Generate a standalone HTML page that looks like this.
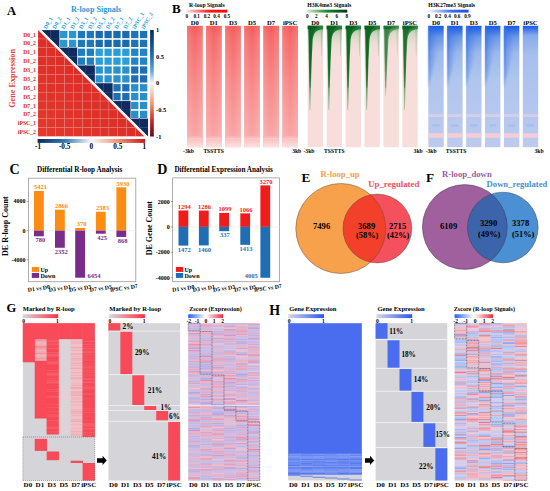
<!DOCTYPE html>
<html><head><meta charset="utf-8"><style>
html,body{margin:0;padding:0;background:#fff;width:550px;height:491px;overflow:hidden}
svg{display:block}
</style></head><body><svg width='550' height='491' viewBox='0 0 550 491' font-family='Liberation Serif' font-weight='bold'><defs><clipPath id='redtri'><polygon points='38,30.1 38,136.5 144.4,136.5'/></clipPath><clipPath id='bluetri'><polygon points='41.5,30.1 148.1,30.1 148.1,136.5'/></clipPath><linearGradient id='cbv' x1='0' y1='0' x2='0' y2='1'><stop offset='0' stop-color='#0a2a60'/><stop offset='0.25' stop-color='#1f6fb2'/><stop offset='0.38' stop-color='#62a6d4'/><stop offset='0.5' stop-color='#f7f7f7'/><stop offset='0.7' stop-color='#f0906c'/><stop offset='0.85' stop-color='#c82a2a'/><stop offset='1' stop-color='#6a0018'/></linearGradient><linearGradient id='cbh' x1='0' y1='0' x2='1' y2='0'><stop offset='0' stop-color='#0a2a60'/><stop offset='0.25' stop-color='#2a7ab8'/><stop offset='0.5' stop-color='#f7f7f7'/><stop offset='0.75' stop-color='#f09070'/><stop offset='1' stop-color='#c81a1a'/></linearGradient><linearGradient id='gr1' x1='0' x2='1'><stop offset='0' stop-color='#ffe4e4'/><stop offset='0.55' stop-color='#ff1a1a'/><stop offset='1' stop-color='#ff0000'/></linearGradient><linearGradient id='gr2' x1='0' x2='1'><stop offset='0' stop-color='#d8ecd8'/><stop offset='0.5' stop-color='#1a8a30'/><stop offset='1' stop-color='#003a10'/></linearGradient><linearGradient id='gr3' x1='0' x2='1'><stop offset='0' stop-color='#f4f6fe'/><stop offset='0.6' stop-color='#3a6ae8'/><stop offset='1' stop-color='#1a4fe8'/></linearGradient><linearGradient id='b1g' x1='0' y1='0' x2='0' y2='1'><stop offset='0' stop-color='#f45858'/><stop offset='0.1' stop-color='#f56a6a'/><stop offset='0.45' stop-color='#f78686'/><stop offset='0.9' stop-color='#f9a4a4'/><stop offset='1' stop-color='#faaaaa'/></linearGradient><linearGradient id='b1b' x1='0' y1='0' x2='0' y2='1'><stop offset='0' stop-color='#fab4b4'/><stop offset='1' stop-color='#fde2e2'/></linearGradient><linearGradient id='b1h' x1='0' y1='0' x2='1' y2='0'><stop offset='0' stop-color='#fff' stop-opacity='0.15'/><stop offset='0.5' stop-color='#fff' stop-opacity='0'/><stop offset='1' stop-color='#fff' stop-opacity='0.15'/></linearGradient><linearGradient id='b2t' x1='0' y1='0' x2='0' y2='1'><stop offset='0' stop-color='#0a6a28'/><stop offset='0.4' stop-color='#2a8a40' stop-opacity='0.7'/><stop offset='1' stop-color='#f7dcd8' stop-opacity='0'/></linearGradient><linearGradient id='haze' x1='0' y1='0' x2='0' y2='1'><stop offset='0' stop-color='#4aa05a' stop-opacity='0.75'/><stop offset='0.35' stop-color='#9ac8a4' stop-opacity='0.45'/><stop offset='1' stop-color='#f8e0dc' stop-opacity='0'/></linearGradient><linearGradient id='spine' x1='0' y1='0' x2='0' y2='1'><stop offset='0' stop-color='#0a5e1e'/><stop offset='0.25' stop-color='#1a8032'/><stop offset='0.8' stop-color='#2a8a3e'/><stop offset='1' stop-color='#5aa068' stop-opacity='0.6'/></linearGradient><linearGradient id='spine2' x1='0' y1='0' x2='0' y2='1'><stop offset='0' stop-color='#2a7a3a'/><stop offset='0.3' stop-color='#3a9048'/><stop offset='0.7' stop-color='#4a9a58'/><stop offset='1' stop-color='#8aba94' stop-opacity='0.3'/></linearGradient><linearGradient id='haze2' x1='0' y1='0' x2='0' y2='1'><stop offset='0' stop-color='#3a9a4a' stop-opacity='0.8'/><stop offset='0.2' stop-color='#8ac096' stop-opacity='0.4'/><stop offset='0.55' stop-color='#c0dcc4' stop-opacity='0.15'/><stop offset='1' stop-color='#f8e0dc' stop-opacity='0'/></linearGradient><linearGradient id='mid2' x1='0' y1='0' x2='0' y2='1'><stop offset='0' stop-color='#1a7a30'/><stop offset='0.5' stop-color='#238634'/><stop offset='1' stop-color='#4a9a58' stop-opacity='0.5'/></linearGradient><linearGradient id='band2' x1='0' y1='0' x2='1' y2='0'><stop offset='0' stop-color='#0a5a1e'/><stop offset='0.6' stop-color='#136a26'/><stop offset='1' stop-color='#3a8a48'/></linearGradient><linearGradient id='b3g' x1='0' y1='0' x2='0' y2='1'><stop offset='0' stop-color='#1a5ae8'/><stop offset='0.025' stop-color='#2a6ae8'/><stop offset='0.09' stop-color='#6a98e8'/><stop offset='0.22' stop-color='#9cb8ec'/><stop offset='0.45' stop-color='#b0c6ee'/><stop offset='1' stop-color='#bccaee'/></linearGradient><linearGradient id='b3i' x1='0' y1='0' x2='0' y2='1'><stop offset='0' stop-color='#1a5ae8'/><stop offset='0.025' stop-color='#3a72e8'/><stop offset='0.08' stop-color='#88acea'/><stop offset='0.25' stop-color='#a8c0ee'/><stop offset='1' stop-color='#bccaee'/></linearGradient><linearGradient id='b3d' x1='0' y1='0' x2='1' y2='0.3'><stop offset='0' stop-color='#2a62e0' stop-opacity='0.55'/><stop offset='0.7' stop-color='#2a62e0' stop-opacity='0'/></linearGradient><linearGradient id='b3l' x1='0' y1='0' x2='0' y2='1'><stop offset='0' stop-color='#3a78e0' stop-opacity='0.6'/><stop offset='1' stop-color='#3a78e0' stop-opacity='0'/></linearGradient><filter id='blur05' x='-0.1' y='-1' width='1.2' height='3'><feGaussianBlur stdDeviation='0.5'/></filter><filter id='blur1' x='-0.2' y='-0.2' width='1.4' height='1.4'><feGaussianBlur stdDeviation='1.2'/></filter><clipPath id='ve'><circle cx='340.8' cy='228.5' r='45.0'/></clipPath><clipPath id='vf'><circle cx='464.8' cy='227.0' r='42.4'/></clipPath><linearGradient id='gg' x1='0' x2='1'><stop offset='0' stop-color='#d8d8de'/><stop offset='1' stop-color='#ff2a3e'/></linearGradient><linearGradient id='hg' x1='0' x2='1'><stop offset='0' stop-color='#d8d8e4'/><stop offset='1' stop-color='#2a55ee'/></linearGradient><linearGradient id='zg' x1='0' x2='1'><stop offset='0' stop-color='#2a60ee'/><stop offset='0.5' stop-color='#ffffff'/><stop offset='1' stop-color='#ee2a40'/></linearGradient></defs><text x='7.00' y='15.30' font-size='12.6' fill='#000' text-anchor='start' >A</text><text x='71.00' y='11.90' font-size='8.1' fill='#2a9ad2' text-anchor='start' >R-loop Signals</text><g clip-path='url(#redtri)'><rect x='38.00' y='30.10' width='8.87' height='8.87' fill='rgb(221,45,40)' stroke='#e68a84' stroke-width='0.35'/><rect x='46.87' y='30.10' width='8.87' height='8.87' fill='rgb(220,44,39)' stroke='#e68a84' stroke-width='0.35'/><rect x='55.74' y='30.10' width='8.87' height='8.87' fill='rgb(219,43,39)' stroke='#e68a84' stroke-width='0.35'/><rect x='64.61' y='30.10' width='8.87' height='8.87' fill='rgb(219,42,38)' stroke='#e68a84' stroke-width='0.35'/><rect x='73.48' y='30.10' width='8.87' height='8.87' fill='rgb(218,41,38)' stroke='#e68a84' stroke-width='0.35'/><rect x='82.35' y='30.10' width='8.87' height='8.87' fill='rgb(217,40,38)' stroke='#e68a84' stroke-width='0.35'/><rect x='91.22' y='30.10' width='8.87' height='8.87' fill='rgb(217,39,37)' stroke='#e68a84' stroke-width='0.35'/><rect x='100.09' y='30.10' width='8.87' height='8.87' fill='rgb(216,38,37)' stroke='#e68a84' stroke-width='0.35'/><rect x='108.96' y='30.10' width='8.87' height='8.87' fill='rgb(215,37,37)' stroke='#e68a84' stroke-width='0.35'/><rect x='117.83' y='30.10' width='8.87' height='8.87' fill='rgb(215,36,36)' stroke='#e68a84' stroke-width='0.35'/><rect x='126.70' y='30.10' width='8.87' height='8.87' fill='rgb(214,35,36)' stroke='#e68a84' stroke-width='0.35'/><rect x='135.57' y='30.10' width='8.87' height='8.87' fill='rgb(214,34,36)' stroke='#e68a84' stroke-width='0.35'/><rect x='38.00' y='38.97' width='8.87' height='8.87' fill='rgb(221,46,40)' stroke='#e68a84' stroke-width='0.35'/><rect x='46.87' y='38.97' width='8.87' height='8.87' fill='rgb(221,45,40)' stroke='#e68a84' stroke-width='0.35'/><rect x='55.74' y='38.97' width='8.87' height='8.87' fill='rgb(220,44,39)' stroke='#e68a84' stroke-width='0.35'/><rect x='64.61' y='38.97' width='8.87' height='8.87' fill='rgb(219,43,39)' stroke='#e68a84' stroke-width='0.35'/><rect x='73.48' y='38.97' width='8.87' height='8.87' fill='rgb(219,42,38)' stroke='#e68a84' stroke-width='0.35'/><rect x='82.35' y='38.97' width='8.87' height='8.87' fill='rgb(218,41,38)' stroke='#e68a84' stroke-width='0.35'/><rect x='91.22' y='38.97' width='8.87' height='8.87' fill='rgb(217,40,38)' stroke='#e68a84' stroke-width='0.35'/><rect x='100.09' y='38.97' width='8.87' height='8.87' fill='rgb(217,39,37)' stroke='#e68a84' stroke-width='0.35'/><rect x='108.96' y='38.97' width='8.87' height='8.87' fill='rgb(216,38,37)' stroke='#e68a84' stroke-width='0.35'/><rect x='117.83' y='38.97' width='8.87' height='8.87' fill='rgb(215,37,37)' stroke='#e68a84' stroke-width='0.35'/><rect x='126.70' y='38.97' width='8.87' height='8.87' fill='rgb(215,36,36)' stroke='#e68a84' stroke-width='0.35'/><rect x='135.57' y='38.97' width='8.87' height='8.87' fill='rgb(214,35,36)' stroke='#e68a84' stroke-width='0.35'/><rect x='38.00' y='47.84' width='8.87' height='8.87' fill='rgb(222,47,40)' stroke='#e68a84' stroke-width='0.35'/><rect x='46.87' y='47.84' width='8.87' height='8.87' fill='rgb(221,46,40)' stroke='#e68a84' stroke-width='0.35'/><rect x='55.74' y='47.84' width='8.87' height='8.87' fill='rgb(221,45,40)' stroke='#e68a84' stroke-width='0.35'/><rect x='64.61' y='47.84' width='8.87' height='8.87' fill='rgb(220,44,39)' stroke='#e68a84' stroke-width='0.35'/><rect x='73.48' y='47.84' width='8.87' height='8.87' fill='rgb(219,43,39)' stroke='#e68a84' stroke-width='0.35'/><rect x='82.35' y='47.84' width='8.87' height='8.87' fill='rgb(219,42,38)' stroke='#e68a84' stroke-width='0.35'/><rect x='91.22' y='47.84' width='8.87' height='8.87' fill='rgb(218,41,38)' stroke='#e68a84' stroke-width='0.35'/><rect x='100.09' y='47.84' width='8.87' height='8.87' fill='rgb(217,40,38)' stroke='#e68a84' stroke-width='0.35'/><rect x='108.96' y='47.84' width='8.87' height='8.87' fill='rgb(217,39,37)' stroke='#e68a84' stroke-width='0.35'/><rect x='117.83' y='47.84' width='8.87' height='8.87' fill='rgb(216,38,37)' stroke='#e68a84' stroke-width='0.35'/><rect x='126.70' y='47.84' width='8.87' height='8.87' fill='rgb(215,37,37)' stroke='#e68a84' stroke-width='0.35'/><rect x='135.57' y='47.84' width='8.87' height='8.87' fill='rgb(215,36,36)' stroke='#e68a84' stroke-width='0.35'/><rect x='38.00' y='56.71' width='8.87' height='8.87' fill='rgb(222,48,41)' stroke='#e68a84' stroke-width='0.35'/><rect x='46.87' y='56.71' width='8.87' height='8.87' fill='rgb(222,47,40)' stroke='#e68a84' stroke-width='0.35'/><rect x='55.74' y='56.71' width='8.87' height='8.87' fill='rgb(221,46,40)' stroke='#e68a84' stroke-width='0.35'/><rect x='64.61' y='56.71' width='8.87' height='8.87' fill='rgb(221,45,40)' stroke='#e68a84' stroke-width='0.35'/><rect x='73.48' y='56.71' width='8.87' height='8.87' fill='rgb(220,44,39)' stroke='#e68a84' stroke-width='0.35'/><rect x='82.35' y='56.71' width='8.87' height='8.87' fill='rgb(219,43,39)' stroke='#e68a84' stroke-width='0.35'/><rect x='91.22' y='56.71' width='8.87' height='8.87' fill='rgb(219,42,38)' stroke='#e68a84' stroke-width='0.35'/><rect x='100.09' y='56.71' width='8.87' height='8.87' fill='rgb(218,41,38)' stroke='#e68a84' stroke-width='0.35'/><rect x='108.96' y='56.71' width='8.87' height='8.87' fill='rgb(217,40,38)' stroke='#e68a84' stroke-width='0.35'/><rect x='117.83' y='56.71' width='8.87' height='8.87' fill='rgb(217,39,37)' stroke='#e68a84' stroke-width='0.35'/><rect x='126.70' y='56.71' width='8.87' height='8.87' fill='rgb(216,38,37)' stroke='#e68a84' stroke-width='0.35'/><rect x='135.57' y='56.71' width='8.87' height='8.87' fill='rgb(215,37,37)' stroke='#e68a84' stroke-width='0.35'/><rect x='38.00' y='65.58' width='8.87' height='8.87' fill='rgb(223,48,41)' stroke='#e68a84' stroke-width='0.35'/><rect x='46.87' y='65.58' width='8.87' height='8.87' fill='rgb(222,48,41)' stroke='#e68a84' stroke-width='0.35'/><rect x='55.74' y='65.58' width='8.87' height='8.87' fill='rgb(222,47,40)' stroke='#e68a84' stroke-width='0.35'/><rect x='64.61' y='65.58' width='8.87' height='8.87' fill='rgb(221,46,40)' stroke='#e68a84' stroke-width='0.35'/><rect x='73.48' y='65.58' width='8.87' height='8.87' fill='rgb(221,45,40)' stroke='#e68a84' stroke-width='0.35'/><rect x='82.35' y='65.58' width='8.87' height='8.87' fill='rgb(220,44,39)' stroke='#e68a84' stroke-width='0.35'/><rect x='91.22' y='65.58' width='8.87' height='8.87' fill='rgb(219,43,39)' stroke='#e68a84' stroke-width='0.35'/><rect x='100.09' y='65.58' width='8.87' height='8.87' fill='rgb(219,42,38)' stroke='#e68a84' stroke-width='0.35'/><rect x='108.96' y='65.58' width='8.87' height='8.87' fill='rgb(218,41,38)' stroke='#e68a84' stroke-width='0.35'/><rect x='117.83' y='65.58' width='8.87' height='8.87' fill='rgb(217,40,38)' stroke='#e68a84' stroke-width='0.35'/><rect x='126.70' y='65.58' width='8.87' height='8.87' fill='rgb(217,39,37)' stroke='#e68a84' stroke-width='0.35'/><rect x='135.57' y='65.58' width='8.87' height='8.87' fill='rgb(216,38,37)' stroke='#e68a84' stroke-width='0.35'/><rect x='38.00' y='74.45' width='8.87' height='8.87' fill='rgb(224,50,41)' stroke='#e68a84' stroke-width='0.35'/><rect x='46.87' y='74.45' width='8.87' height='8.87' fill='rgb(223,48,41)' stroke='#e68a84' stroke-width='0.35'/><rect x='55.74' y='74.45' width='8.87' height='8.87' fill='rgb(222,48,41)' stroke='#e68a84' stroke-width='0.35'/><rect x='64.61' y='74.45' width='8.87' height='8.87' fill='rgb(222,47,40)' stroke='#e68a84' stroke-width='0.35'/><rect x='73.48' y='74.45' width='8.87' height='8.87' fill='rgb(221,46,40)' stroke='#e68a84' stroke-width='0.35'/><rect x='82.35' y='74.45' width='8.87' height='8.87' fill='rgb(221,45,40)' stroke='#e68a84' stroke-width='0.35'/><rect x='91.22' y='74.45' width='8.87' height='8.87' fill='rgb(220,44,39)' stroke='#e68a84' stroke-width='0.35'/><rect x='100.09' y='74.45' width='8.87' height='8.87' fill='rgb(219,43,39)' stroke='#e68a84' stroke-width='0.35'/><rect x='108.96' y='74.45' width='8.87' height='8.87' fill='rgb(219,42,38)' stroke='#e68a84' stroke-width='0.35'/><rect x='117.83' y='74.45' width='8.87' height='8.87' fill='rgb(218,41,38)' stroke='#e68a84' stroke-width='0.35'/><rect x='126.70' y='74.45' width='8.87' height='8.87' fill='rgb(217,40,38)' stroke='#e68a84' stroke-width='0.35'/><rect x='135.57' y='74.45' width='8.87' height='8.87' fill='rgb(217,39,37)' stroke='#e68a84' stroke-width='0.35'/><rect x='38.00' y='83.32' width='8.87' height='8.87' fill='rgb(224,51,42)' stroke='#e68a84' stroke-width='0.35'/><rect x='46.87' y='83.32' width='8.87' height='8.87' fill='rgb(224,50,41)' stroke='#e68a84' stroke-width='0.35'/><rect x='55.74' y='83.32' width='8.87' height='8.87' fill='rgb(223,48,41)' stroke='#e68a84' stroke-width='0.35'/><rect x='64.61' y='83.32' width='8.87' height='8.87' fill='rgb(222,48,41)' stroke='#e68a84' stroke-width='0.35'/><rect x='73.48' y='83.32' width='8.87' height='8.87' fill='rgb(222,47,40)' stroke='#e68a84' stroke-width='0.35'/><rect x='82.35' y='83.32' width='8.87' height='8.87' fill='rgb(221,46,40)' stroke='#e68a84' stroke-width='0.35'/><rect x='91.22' y='83.32' width='8.87' height='8.87' fill='rgb(221,45,40)' stroke='#e68a84' stroke-width='0.35'/><rect x='100.09' y='83.32' width='8.87' height='8.87' fill='rgb(220,44,39)' stroke='#e68a84' stroke-width='0.35'/><rect x='108.96' y='83.32' width='8.87' height='8.87' fill='rgb(219,43,39)' stroke='#e68a84' stroke-width='0.35'/><rect x='117.83' y='83.32' width='8.87' height='8.87' fill='rgb(219,42,38)' stroke='#e68a84' stroke-width='0.35'/><rect x='126.70' y='83.32' width='8.87' height='8.87' fill='rgb(218,41,38)' stroke='#e68a84' stroke-width='0.35'/><rect x='135.57' y='83.32' width='8.87' height='8.87' fill='rgb(217,40,38)' stroke='#e68a84' stroke-width='0.35'/><rect x='38.00' y='92.19' width='8.87' height='8.87' fill='rgb(225,52,42)' stroke='#e68a84' stroke-width='0.35'/><rect x='46.87' y='92.19' width='8.87' height='8.87' fill='rgb(224,51,42)' stroke='#e68a84' stroke-width='0.35'/><rect x='55.74' y='92.19' width='8.87' height='8.87' fill='rgb(224,50,41)' stroke='#e68a84' stroke-width='0.35'/><rect x='64.61' y='92.19' width='8.87' height='8.87' fill='rgb(223,48,41)' stroke='#e68a84' stroke-width='0.35'/><rect x='73.48' y='92.19' width='8.87' height='8.87' fill='rgb(222,48,41)' stroke='#e68a84' stroke-width='0.35'/><rect x='82.35' y='92.19' width='8.87' height='8.87' fill='rgb(222,47,40)' stroke='#e68a84' stroke-width='0.35'/><rect x='91.22' y='92.19' width='8.87' height='8.87' fill='rgb(221,46,40)' stroke='#e68a84' stroke-width='0.35'/><rect x='100.09' y='92.19' width='8.87' height='8.87' fill='rgb(221,45,40)' stroke='#e68a84' stroke-width='0.35'/><rect x='108.96' y='92.19' width='8.87' height='8.87' fill='rgb(220,44,39)' stroke='#e68a84' stroke-width='0.35'/><rect x='117.83' y='92.19' width='8.87' height='8.87' fill='rgb(219,43,39)' stroke='#e68a84' stroke-width='0.35'/><rect x='126.70' y='92.19' width='8.87' height='8.87' fill='rgb(219,42,38)' stroke='#e68a84' stroke-width='0.35'/><rect x='135.57' y='92.19' width='8.87' height='8.87' fill='rgb(218,41,38)' stroke='#e68a84' stroke-width='0.35'/><rect x='38.00' y='101.06' width='8.87' height='8.87' fill='rgb(226,53,42)' stroke='#e68a84' stroke-width='0.35'/><rect x='46.87' y='101.06' width='8.87' height='8.87' fill='rgb(225,52,42)' stroke='#e68a84' stroke-width='0.35'/><rect x='55.74' y='101.06' width='8.87' height='8.87' fill='rgb(224,51,42)' stroke='#e68a84' stroke-width='0.35'/><rect x='64.61' y='101.06' width='8.87' height='8.87' fill='rgb(224,50,41)' stroke='#e68a84' stroke-width='0.35'/><rect x='73.48' y='101.06' width='8.87' height='8.87' fill='rgb(223,48,41)' stroke='#e68a84' stroke-width='0.35'/><rect x='82.35' y='101.06' width='8.87' height='8.87' fill='rgb(222,48,41)' stroke='#e68a84' stroke-width='0.35'/><rect x='91.22' y='101.06' width='8.87' height='8.87' fill='rgb(222,47,40)' stroke='#e68a84' stroke-width='0.35'/><rect x='100.09' y='101.06' width='8.87' height='8.87' fill='rgb(221,46,40)' stroke='#e68a84' stroke-width='0.35'/><rect x='108.96' y='101.06' width='8.87' height='8.87' fill='rgb(221,45,40)' stroke='#e68a84' stroke-width='0.35'/><rect x='117.83' y='101.06' width='8.87' height='8.87' fill='rgb(220,44,39)' stroke='#e68a84' stroke-width='0.35'/><rect x='126.70' y='101.06' width='8.87' height='8.87' fill='rgb(219,43,39)' stroke='#e68a84' stroke-width='0.35'/><rect x='135.57' y='101.06' width='8.87' height='8.87' fill='rgb(219,42,38)' stroke='#e68a84' stroke-width='0.35'/><rect x='38.00' y='109.93' width='8.87' height='8.87' fill='rgb(226,54,43)' stroke='#e68a84' stroke-width='0.35'/><rect x='46.87' y='109.93' width='8.87' height='8.87' fill='rgb(226,53,42)' stroke='#e68a84' stroke-width='0.35'/><rect x='55.74' y='109.93' width='8.87' height='8.87' fill='rgb(225,52,42)' stroke='#e68a84' stroke-width='0.35'/><rect x='64.61' y='109.93' width='8.87' height='8.87' fill='rgb(224,51,42)' stroke='#e68a84' stroke-width='0.35'/><rect x='73.48' y='109.93' width='8.87' height='8.87' fill='rgb(224,50,41)' stroke='#e68a84' stroke-width='0.35'/><rect x='82.35' y='109.93' width='8.87' height='8.87' fill='rgb(223,48,41)' stroke='#e68a84' stroke-width='0.35'/><rect x='91.22' y='109.93' width='8.87' height='8.87' fill='rgb(222,48,41)' stroke='#e68a84' stroke-width='0.35'/><rect x='100.09' y='109.93' width='8.87' height='8.87' fill='rgb(222,47,40)' stroke='#e68a84' stroke-width='0.35'/><rect x='108.96' y='109.93' width='8.87' height='8.87' fill='rgb(221,46,40)' stroke='#e68a84' stroke-width='0.35'/><rect x='117.83' y='109.93' width='8.87' height='8.87' fill='rgb(221,45,40)' stroke='#e68a84' stroke-width='0.35'/><rect x='126.70' y='109.93' width='8.87' height='8.87' fill='rgb(220,44,39)' stroke='#e68a84' stroke-width='0.35'/><rect x='135.57' y='109.93' width='8.87' height='8.87' fill='rgb(219,43,39)' stroke='#e68a84' stroke-width='0.35'/><rect x='38.00' y='118.80' width='8.87' height='8.87' fill='rgb(227,55,43)' stroke='#e68a84' stroke-width='0.35'/><rect x='46.87' y='118.80' width='8.87' height='8.87' fill='rgb(226,54,43)' stroke='#e68a84' stroke-width='0.35'/><rect x='55.74' y='118.80' width='8.87' height='8.87' fill='rgb(226,53,42)' stroke='#e68a84' stroke-width='0.35'/><rect x='64.61' y='118.80' width='8.87' height='8.87' fill='rgb(225,52,42)' stroke='#e68a84' stroke-width='0.35'/><rect x='73.48' y='118.80' width='8.87' height='8.87' fill='rgb(224,51,42)' stroke='#e68a84' stroke-width='0.35'/><rect x='82.35' y='118.80' width='8.87' height='8.87' fill='rgb(224,50,41)' stroke='#e68a84' stroke-width='0.35'/><rect x='91.22' y='118.80' width='8.87' height='8.87' fill='rgb(223,48,41)' stroke='#e68a84' stroke-width='0.35'/><rect x='100.09' y='118.80' width='8.87' height='8.87' fill='rgb(222,48,41)' stroke='#e68a84' stroke-width='0.35'/><rect x='108.96' y='118.80' width='8.87' height='8.87' fill='rgb(222,47,40)' stroke='#e68a84' stroke-width='0.35'/><rect x='117.83' y='118.80' width='8.87' height='8.87' fill='rgb(221,46,40)' stroke='#e68a84' stroke-width='0.35'/><rect x='126.70' y='118.80' width='8.87' height='8.87' fill='rgb(221,45,40)' stroke='#e68a84' stroke-width='0.35'/><rect x='135.57' y='118.80' width='8.87' height='8.87' fill='rgb(220,44,39)' stroke='#e68a84' stroke-width='0.35'/><rect x='38.00' y='127.67' width='8.87' height='8.87' fill='rgb(228,56,44)' stroke='#e68a84' stroke-width='0.35'/><rect x='46.87' y='127.67' width='8.87' height='8.87' fill='rgb(227,55,43)' stroke='#e68a84' stroke-width='0.35'/><rect x='55.74' y='127.67' width='8.87' height='8.87' fill='rgb(226,54,43)' stroke='#e68a84' stroke-width='0.35'/><rect x='64.61' y='127.67' width='8.87' height='8.87' fill='rgb(226,53,42)' stroke='#e68a84' stroke-width='0.35'/><rect x='73.48' y='127.67' width='8.87' height='8.87' fill='rgb(225,52,42)' stroke='#e68a84' stroke-width='0.35'/><rect x='82.35' y='127.67' width='8.87' height='8.87' fill='rgb(224,51,42)' stroke='#e68a84' stroke-width='0.35'/><rect x='91.22' y='127.67' width='8.87' height='8.87' fill='rgb(224,50,41)' stroke='#e68a84' stroke-width='0.35'/><rect x='100.09' y='127.67' width='8.87' height='8.87' fill='rgb(223,48,41)' stroke='#e68a84' stroke-width='0.35'/><rect x='108.96' y='127.67' width='8.87' height='8.87' fill='rgb(222,48,41)' stroke='#e68a84' stroke-width='0.35'/><rect x='117.83' y='127.67' width='8.87' height='8.87' fill='rgb(222,47,40)' stroke='#e68a84' stroke-width='0.35'/><rect x='126.70' y='127.67' width='8.87' height='8.87' fill='rgb(221,46,40)' stroke='#e68a84' stroke-width='0.35'/><rect x='135.57' y='127.67' width='8.87' height='8.87' fill='rgb(221,45,40)' stroke='#e68a84' stroke-width='0.35'/></g><g clip-path='url(#bluetri)'><rect x='41.50' y='30.10' width='8.88' height='8.87' fill='#0f2a5c' stroke='#1e3a6e' stroke-width='0.3'/><rect x='50.38' y='30.10' width='8.88' height='8.87' fill='#0f2a5c' stroke='#1e3a6e' stroke-width='0.3'/><rect x='60.06' y='30.90' width='7.28' height='7.27' fill='#2a96ce'/><rect x='68.94' y='30.90' width='7.28' height='7.27' fill='#2a96ce'/><rect x='77.82' y='30.90' width='7.28' height='7.27' fill='#1f78b8'/><rect x='86.70' y='30.90' width='7.28' height='7.27' fill='#1f78b8'/><rect x='95.58' y='30.90' width='7.28' height='7.27' fill='#1a6aae'/><rect x='104.46' y='30.90' width='7.28' height='7.27' fill='#1a6aae'/><rect x='113.34' y='30.90' width='7.28' height='7.27' fill='#1a6aae'/><rect x='122.22' y='30.90' width='7.28' height='7.27' fill='#1a6aae'/><rect x='131.10' y='30.90' width='7.28' height='7.27' fill='#1f72b4'/><rect x='139.98' y='30.90' width='7.28' height='7.27' fill='#1f72b4'/><rect x='41.50' y='38.97' width='8.88' height='8.87' fill='#0f2a5c' stroke='#1e3a6e' stroke-width='0.3'/><rect x='50.38' y='38.97' width='8.88' height='8.87' fill='#0f2a5c' stroke='#1e3a6e' stroke-width='0.3'/><rect x='60.06' y='39.77' width='7.28' height='7.27' fill='#2a96ce'/><rect x='68.94' y='39.77' width='7.28' height='7.27' fill='#2a96ce'/><rect x='77.82' y='39.77' width='7.28' height='7.27' fill='#1f78b8'/><rect x='86.70' y='39.77' width='7.28' height='7.27' fill='#1f78b8'/><rect x='95.58' y='39.77' width='7.28' height='7.27' fill='#1a6aae'/><rect x='104.46' y='39.77' width='7.28' height='7.27' fill='#1a6aae'/><rect x='113.34' y='39.77' width='7.28' height='7.27' fill='#1a6aae'/><rect x='122.22' y='39.77' width='7.28' height='7.27' fill='#1a6aae'/><rect x='131.10' y='39.77' width='7.28' height='7.27' fill='#1f72b4'/><rect x='139.98' y='39.77' width='7.28' height='7.27' fill='#1f72b4'/><rect x='59.26' y='47.84' width='8.88' height='8.87' fill='#0f2a5c' stroke='#1e3a6e' stroke-width='0.3'/><rect x='68.14' y='47.84' width='8.88' height='8.87' fill='#0f2a5c' stroke='#1e3a6e' stroke-width='0.3'/><rect x='77.82' y='48.64' width='7.28' height='7.27' fill='#1f7ebe'/><rect x='86.70' y='48.64' width='7.28' height='7.27' fill='#1f7ebe'/><rect x='95.58' y='48.64' width='7.28' height='7.27' fill='#2a9ed6'/><rect x='104.46' y='48.64' width='7.28' height='7.27' fill='#2a9ed6'/><rect x='113.34' y='48.64' width='7.28' height='7.27' fill='#2a9ed6'/><rect x='122.22' y='48.64' width='7.28' height='7.27' fill='#2a9ed6'/><rect x='131.10' y='48.64' width='7.28' height='7.27' fill='#2284c4'/><rect x='139.98' y='48.64' width='7.28' height='7.27' fill='#2284c4'/><rect x='59.26' y='56.71' width='8.88' height='8.87' fill='#0f2a5c' stroke='#1e3a6e' stroke-width='0.3'/><rect x='68.14' y='56.71' width='8.88' height='8.87' fill='#0f2a5c' stroke='#1e3a6e' stroke-width='0.3'/><rect x='77.82' y='57.51' width='7.28' height='7.27' fill='#1f7ebe'/><rect x='86.70' y='57.51' width='7.28' height='7.27' fill='#1f7ebe'/><rect x='95.58' y='57.51' width='7.28' height='7.27' fill='#2a9ed6'/><rect x='104.46' y='57.51' width='7.28' height='7.27' fill='#2a9ed6'/><rect x='113.34' y='57.51' width='7.28' height='7.27' fill='#2a9ed6'/><rect x='122.22' y='57.51' width='7.28' height='7.27' fill='#2a9ed6'/><rect x='131.10' y='57.51' width='7.28' height='7.27' fill='#2284c4'/><rect x='139.98' y='57.51' width='7.28' height='7.27' fill='#2284c4'/><rect x='77.02' y='65.58' width='8.88' height='8.87' fill='#0f2a5c' stroke='#1e3a6e' stroke-width='0.3'/><rect x='85.90' y='65.58' width='8.88' height='8.87' fill='#0f2a5c' stroke='#1e3a6e' stroke-width='0.3'/><rect x='95.58' y='66.38' width='7.28' height='7.27' fill='#2a92cb'/><rect x='104.46' y='66.38' width='7.28' height='7.27' fill='#2a92cb'/><rect x='113.34' y='66.38' width='7.28' height='7.27' fill='#2a92cb'/><rect x='122.22' y='66.38' width='7.28' height='7.27' fill='#2a92cb'/><rect x='131.10' y='66.38' width='7.28' height='7.27' fill='#1f6eb3'/><rect x='139.98' y='66.38' width='7.28' height='7.27' fill='#1f6eb3'/><rect x='77.02' y='74.45' width='8.88' height='8.87' fill='#0f2a5c' stroke='#1e3a6e' stroke-width='0.3'/><rect x='85.90' y='74.45' width='8.88' height='8.87' fill='#0f2a5c' stroke='#1e3a6e' stroke-width='0.3'/><rect x='95.58' y='75.25' width='7.28' height='7.27' fill='#2a92cb'/><rect x='104.46' y='75.25' width='7.28' height='7.27' fill='#2a92cb'/><rect x='113.34' y='75.25' width='7.28' height='7.27' fill='#2a92cb'/><rect x='122.22' y='75.25' width='7.28' height='7.27' fill='#2a92cb'/><rect x='131.10' y='75.25' width='7.28' height='7.27' fill='#1f6eb3'/><rect x='139.98' y='75.25' width='7.28' height='7.27' fill='#1f6eb3'/><rect x='94.78' y='83.32' width='8.88' height='8.87' fill='#0f2a5c' stroke='#1e3a6e' stroke-width='0.3'/><rect x='103.66' y='83.32' width='8.88' height='8.87' fill='#0f2a5c' stroke='#1e3a6e' stroke-width='0.3'/><rect x='113.34' y='84.12' width='7.28' height='7.27' fill='#1f6eb3'/><rect x='122.22' y='84.12' width='7.28' height='7.27' fill='#1f6eb3'/><rect x='131.10' y='84.12' width='7.28' height='7.27' fill='#2a8fc8'/><rect x='139.98' y='84.12' width='7.28' height='7.27' fill='#2a8fc8'/><rect x='94.78' y='92.19' width='8.88' height='8.87' fill='#0f2a5c' stroke='#1e3a6e' stroke-width='0.3'/><rect x='103.66' y='92.19' width='8.88' height='8.87' fill='#0f2a5c' stroke='#1e3a6e' stroke-width='0.3'/><rect x='113.34' y='92.99' width='7.28' height='7.27' fill='#1f6eb3'/><rect x='122.22' y='92.99' width='7.28' height='7.27' fill='#1f6eb3'/><rect x='131.10' y='92.99' width='7.28' height='7.27' fill='#2a8fc8'/><rect x='139.98' y='92.99' width='7.28' height='7.27' fill='#2a8fc8'/><rect x='112.54' y='101.06' width='8.88' height='8.87' fill='#0f2a5c' stroke='#1e3a6e' stroke-width='0.3'/><rect x='121.42' y='101.06' width='8.88' height='8.87' fill='#0f2a5c' stroke='#1e3a6e' stroke-width='0.3'/><rect x='131.10' y='101.86' width='7.28' height='7.27' fill='#2a8fc8'/><rect x='139.98' y='101.86' width='7.28' height='7.27' fill='#2a8fc8'/><rect x='112.54' y='109.93' width='8.88' height='8.87' fill='#0f2a5c' stroke='#1e3a6e' stroke-width='0.3'/><rect x='121.42' y='109.93' width='8.88' height='8.87' fill='#0f2a5c' stroke='#1e3a6e' stroke-width='0.3'/><rect x='131.10' y='110.73' width='7.28' height='7.27' fill='#2a8fc8'/><rect x='139.98' y='110.73' width='7.28' height='7.27' fill='#2a8fc8'/><rect x='130.30' y='118.80' width='8.88' height='8.87' fill='#0f2a5c' stroke='#1e3a6e' stroke-width='0.3'/><rect x='139.18' y='118.80' width='8.88' height='8.87' fill='#0f2a5c' stroke='#1e3a6e' stroke-width='0.3'/><rect x='130.30' y='127.67' width='8.88' height='8.87' fill='#0f2a5c' stroke='#1e3a6e' stroke-width='0.3'/><rect x='139.18' y='127.67' width='8.88' height='8.87' fill='#0f2a5c' stroke='#1e3a6e' stroke-width='0.3'/></g><text x='36.00' y='36.54' font-size='5.75' fill='#e02424' text-anchor='end' >D0_1</text><text x='36.00' y='45.41' font-size='5.75' fill='#e02424' text-anchor='end' >D0_2</text><text x='36.00' y='54.27' font-size='5.75' fill='#e02424' text-anchor='end' >D1_1</text><text x='36.00' y='63.14' font-size='5.75' fill='#e02424' text-anchor='end' >D1_2</text><text x='36.00' y='72.02' font-size='5.75' fill='#e02424' text-anchor='end' >D3_1</text><text x='36.00' y='80.88' font-size='5.75' fill='#e02424' text-anchor='end' >D3_2</text><text x='36.00' y='89.75' font-size='5.75' fill='#e02424' text-anchor='end' >D5_1</text><text x='36.00' y='98.62' font-size='5.75' fill='#e02424' text-anchor='end' >D5_2</text><text x='36.00' y='107.50' font-size='5.75' fill='#e02424' text-anchor='end' >D7_1</text><text x='36.00' y='116.36' font-size='5.75' fill='#e02424' text-anchor='end' >D7_2</text><text x='36.00' y='125.23' font-size='5.75' fill='#e02424' text-anchor='end' >iPSC_1</text><text x='36.00' y='134.10' font-size='5.75' fill='#e02424' text-anchor='end' >iPSC_2</text><text transform='translate(46.54,29.4) rotate(-60)' font-size='5.7' fill='#2a9ad2'>D0_1</text><text transform='translate(55.42,29.4) rotate(-60)' font-size='5.7' fill='#2a9ad2'>D0_2</text><text transform='translate(64.30,29.4) rotate(-60)' font-size='5.7' fill='#2a9ad2'>D1_1</text><text transform='translate(73.18,29.4) rotate(-60)' font-size='5.7' fill='#2a9ad2'>D1_2</text><text transform='translate(82.06,29.4) rotate(-60)' font-size='5.7' fill='#2a9ad2'>D3_1</text><text transform='translate(90.94,29.4) rotate(-60)' font-size='5.7' fill='#2a9ad2'>D3_2</text><text transform='translate(99.82,29.4) rotate(-60)' font-size='5.7' fill='#2a9ad2'>D5_1</text><text transform='translate(108.70,29.4) rotate(-60)' font-size='5.7' fill='#2a9ad2'>D5_2</text><text transform='translate(117.58,29.4) rotate(-60)' font-size='5.7' fill='#2a9ad2'>D7_1</text><text transform='translate(126.46,29.4) rotate(-60)' font-size='5.7' fill='#2a9ad2'>D7_2</text><text transform='translate(135.34,29.4) rotate(-60)' font-size='5.7' fill='#2a9ad2'>iPSC_1</text><text transform='translate(144.22,29.4) rotate(-60)' font-size='5.7' fill='#2a9ad2'>iPSC_2</text><text transform='translate(15.3,78.4) rotate(-90)' font-size='8.2' fill='#e03a3a' text-anchor='middle'>Gene Expression</text><rect x='150.10' y='30.00' width='3.70' height='106.50' fill='url(#cbv)' /><text x='156.00' y='32.20' font-size='6.4' fill='#000' text-anchor='start' >1</text><text x='156.00' y='58.80' font-size='6.4' fill='#000' text-anchor='start' >0.5</text><text x='156.00' y='85.45' font-size='6.4' fill='#000' text-anchor='start' >0</text><text x='156.00' y='112.10' font-size='6.4' fill='#000' text-anchor='start' >-0.5</text><text x='156.00' y='138.70' font-size='6.4' fill='#000' text-anchor='start' >-1</text><rect x='37.60' y='139.00' width='107.40' height='3.90' fill='url(#cbh)' /><text x='38.00' y='149.20' font-size='7.2' fill='#000' text-anchor='middle' >-1</text><text x='64.60' y='149.20' font-size='7.2' fill='#000' text-anchor='middle' >-0.5</text><text x='91.20' y='149.20' font-size='7.2' fill='#000' text-anchor='middle' >0</text><text x='117.80' y='149.20' font-size='7.2' fill='#000' text-anchor='middle' >0.5</text><text x='144.40' y='149.20' font-size='7.2' fill='#000' text-anchor='middle' >1</text><text x='171.90' y='12.70' font-size='13' fill='#000' text-anchor='start' >B</text><text x='189.00' y='7.10' font-size='5.75' fill='#000' text-anchor='start' >R-loop Signals</text><rect x='186.50' y='9.70' width='40.80' height='2.90' fill='url(#gr1)' /><text x='186.70' y='17.60' font-size='5.2' fill='#000' text-anchor='middle' >0</text><text x='196.70' y='17.60' font-size='5.2' fill='#000' text-anchor='middle' >0.1</text><text x='206.90' y='17.60' font-size='5.2' fill='#000' text-anchor='middle' >0.2</text><text x='216.50' y='17.60' font-size='5.2' fill='#000' text-anchor='middle' >0.4</text><text x='226.90' y='17.60' font-size='5.2' fill='#000' text-anchor='middle' >0.5</text><text x='307.30' y='7.10' font-size='5.75' fill='#000' text-anchor='start' >H3K4me3 Signals</text><rect x='306.50' y='9.70' width='40.80' height='2.90' fill='url(#gr2)' /><text x='307.20' y='17.60' font-size='5.2' fill='#000' text-anchor='middle' >0</text><text x='316.20' y='17.60' font-size='5.2' fill='#000' text-anchor='middle' >2</text><text x='326.50' y='17.60' font-size='5.2' fill='#000' text-anchor='middle' >4</text><text x='336.70' y='17.60' font-size='5.2' fill='#000' text-anchor='middle' >6</text><text x='346.90' y='17.60' font-size='5.2' fill='#000' text-anchor='middle' >8</text><text x='428.20' y='7.10' font-size='5.75' fill='#000' text-anchor='start' >H3K27me3 Signals</text><rect x='428.60' y='9.70' width='40.00' height='2.90' fill='url(#gr3)' /><text x='428.80' y='17.60' font-size='5.2' fill='#000' text-anchor='middle' >0</text><text x='438.20' y='17.60' font-size='5.2' fill='#000' text-anchor='middle' >0.2</text><text x='447.60' y='17.60' font-size='5.2' fill='#000' text-anchor='middle' >0.4</text><text x='457.20' y='17.60' font-size='5.2' fill='#000' text-anchor='middle' >0.6</text><text x='467.40' y='17.60' font-size='5.2' fill='#000' text-anchor='middle' >0.9</text><text x='194.90' y='24.80' font-size='6.6' fill='#000' text-anchor='middle' >D0</text><text x='213.90' y='24.80' font-size='6.6' fill='#000' text-anchor='middle' >D1</text><text x='233.00' y='24.80' font-size='6.6' fill='#000' text-anchor='middle' >D3</text><text x='252.00' y='24.80' font-size='6.6' fill='#000' text-anchor='middle' >D5</text><text x='271.10' y='24.80' font-size='6.6' fill='#000' text-anchor='middle' >D7</text><text x='290.10' y='24.80' font-size='6.6' fill='#000' text-anchor='middle' >iPSC</text><text x='315.40' y='24.80' font-size='6.6' fill='#000' text-anchor='middle' >D0</text><text x='334.30' y='24.80' font-size='6.6' fill='#000' text-anchor='middle' >D1</text><text x='353.30' y='24.80' font-size='6.6' fill='#000' text-anchor='middle' >D3</text><text x='372.20' y='24.80' font-size='6.6' fill='#000' text-anchor='middle' >D5</text><text x='391.10' y='24.80' font-size='6.6' fill='#000' text-anchor='middle' >D7</text><text x='410.00' y='24.80' font-size='6.6' fill='#000' text-anchor='middle' >iPSC</text><text x='436.00' y='24.80' font-size='6.6' fill='#000' text-anchor='middle' >D0</text><text x='454.90' y='24.80' font-size='6.6' fill='#000' text-anchor='middle' >D1</text><text x='473.80' y='24.80' font-size='6.6' fill='#000' text-anchor='middle' >D3</text><text x='492.70' y='24.80' font-size='6.6' fill='#000' text-anchor='middle' >D5</text><text x='511.60' y='24.80' font-size='6.6' fill='#000' text-anchor='middle' >D7</text><text x='530.50' y='24.80' font-size='6.6' fill='#000' text-anchor='middle' >iPSC</text><rect x='187.00' y='25.80' width='15.80' height='121.40' fill='url(#b1g)' /><rect x='187.00' y='25.80' width='15.80' height='121.40' fill='url(#b1h)' /><rect x='187.00' y='136.00' width='15.80' height='11.20' fill='url(#b1b)' /><rect x='187.00' y='138.20' width='15.80' height='1.20' fill='#fcd4d4' opacity='0.6'/><rect x='206.00' y='25.80' width='15.80' height='121.40' fill='url(#b1g)' /><rect x='206.00' y='25.80' width='15.80' height='121.40' fill='url(#b1h)' /><rect x='206.00' y='136.00' width='15.80' height='11.20' fill='url(#b1b)' /><rect x='206.00' y='138.20' width='15.80' height='1.20' fill='#fcd4d4' opacity='0.6'/><rect x='225.10' y='25.80' width='15.80' height='121.40' fill='url(#b1g)' /><rect x='225.10' y='25.80' width='15.80' height='121.40' fill='url(#b1h)' /><rect x='225.10' y='136.00' width='15.80' height='11.20' fill='url(#b1b)' /><rect x='225.10' y='138.20' width='15.80' height='1.20' fill='#fcd4d4' opacity='0.6'/><rect x='244.10' y='25.80' width='15.80' height='121.40' fill='url(#b1g)' /><rect x='244.10' y='25.80' width='15.80' height='121.40' fill='url(#b1h)' /><rect x='244.10' y='136.00' width='15.80' height='11.20' fill='url(#b1b)' /><rect x='244.10' y='138.20' width='15.80' height='1.20' fill='#fcd4d4' opacity='0.6'/><rect x='263.20' y='25.80' width='15.80' height='121.40' fill='url(#b1g)' /><rect x='263.20' y='25.80' width='15.80' height='121.40' fill='url(#b1h)' /><rect x='263.20' y='136.00' width='15.80' height='11.20' fill='url(#b1b)' /><rect x='263.20' y='138.20' width='15.80' height='1.20' fill='#fcd4d4' opacity='0.6'/><rect x='282.20' y='25.80' width='15.80' height='121.40' fill='url(#b1g)' /><rect x='282.20' y='25.80' width='15.80' height='121.40' fill='url(#b1h)' /><rect x='282.20' y='136.00' width='15.80' height='11.20' fill='url(#b1b)' /><rect x='282.20' y='138.20' width='15.80' height='1.20' fill='#fcd4d4' opacity='0.6'/><rect x='307.70' y='25.80' width='15.40' height='121.40' fill='#f8dedb' /><rect x='307.70' y='25.80' width='15.40' height='36' fill='url(#haze2)' opacity='1.00'/><path d='M308.30,25.80 L323.10,25.80 L323.10,29.30 C315.40,30.00 313.90,32.80 312.70,39.80 L311.70,59.80 L310.90,88.80 L310.30,109.80 L309.50,109.80 L308.90,65.80 Z' fill='url(#mid2)' opacity='1.00'/><path d='M307.70,25.80 L323.10,25.80 L323.10,27.40 C318.48,28.40 313.86,28.80 312.70,29.30 L307.70,29.30 Z' fill='url(#band2)' opacity='1.00'/><path d='M308.90,26.80 L316.94,26.80 C314.20,29.30 312.50,32.80 311.90,40.80 L311.10,63.80 L310.40,87.80 L309.80,87.80 L309.20,55.80 Z' fill='#0a5e1e' opacity='0.70'/><path d='M320.70,28.80 L322.30,28.80 L321.90,55.80 L321.30,55.80 Z' fill='#6aaa78' opacity='0.40'/><rect x='326.60' y='25.80' width='15.40' height='121.40' fill='#f8dedb' /><rect x='326.60' y='25.80' width='15.40' height='36' fill='url(#haze2)' opacity='1.00'/><path d='M327.20,25.80 L342.00,25.80 L342.00,29.30 C334.30,30.00 332.80,32.80 331.60,39.80 L330.60,59.80 L329.80,88.80 L329.20,109.80 L328.40,109.80 L327.80,65.80 Z' fill='url(#mid2)' opacity='1.00'/><path d='M326.60,25.80 L342.00,25.80 L342.00,27.40 C337.38,28.40 332.76,28.80 331.60,29.30 L326.60,29.30 Z' fill='url(#band2)' opacity='1.00'/><path d='M327.80,26.80 L335.84,26.80 C333.10,29.30 331.40,32.80 330.80,40.80 L330.00,63.80 L329.30,87.80 L328.70,87.80 L328.10,55.80 Z' fill='#0a5e1e' opacity='0.70'/><path d='M339.60,28.80 L341.20,28.80 L340.80,55.80 L340.20,55.80 Z' fill='#6aaa78' opacity='0.40'/><rect x='345.60' y='25.80' width='15.40' height='121.40' fill='#f8dedb' /><rect x='345.60' y='25.80' width='15.40' height='36' fill='url(#haze2)' opacity='1.00'/><path d='M346.20,25.80 L361.00,25.80 L361.00,29.30 C353.30,30.00 351.80,32.80 350.60,39.80 L349.60,59.80 L348.80,88.80 L348.20,109.80 L347.40,109.80 L346.80,65.80 Z' fill='url(#mid2)' opacity='1.00'/><path d='M345.60,25.80 L361.00,25.80 L361.00,27.40 C356.38,28.40 351.76,28.80 350.60,29.30 L345.60,29.30 Z' fill='url(#band2)' opacity='1.00'/><path d='M346.80,26.80 L354.84,26.80 C352.10,29.30 350.40,32.80 349.80,40.80 L349.00,63.80 L348.30,87.80 L347.70,87.80 L347.10,55.80 Z' fill='#0a5e1e' opacity='0.70'/><path d='M358.60,28.80 L360.20,28.80 L359.80,55.80 L359.20,55.80 Z' fill='#6aaa78' opacity='0.40'/><rect x='364.50' y='25.80' width='15.40' height='121.40' fill='#f8dedb' /><rect x='364.50' y='25.80' width='15.40' height='36' fill='url(#haze2)' opacity='1.00'/><path d='M365.10,25.80 L379.90,25.80 L379.90,29.30 C372.20,30.00 370.70,32.80 369.50,39.80 L368.50,59.80 L367.70,88.80 L367.10,109.80 L366.30,109.80 L365.70,65.80 Z' fill='url(#mid2)' opacity='1.00'/><path d='M364.50,25.80 L379.90,25.80 L379.90,27.40 C375.28,28.40 370.66,28.80 369.50,29.30 L364.50,29.30 Z' fill='url(#band2)' opacity='1.00'/><path d='M365.70,26.80 L373.74,26.80 C371.00,29.30 369.30,32.80 368.70,40.80 L367.90,63.80 L367.20,87.80 L366.60,87.80 L366.00,55.80 Z' fill='#0a5e1e' opacity='0.70'/><path d='M377.50,28.80 L379.10,28.80 L378.70,55.80 L378.10,55.80 Z' fill='#6aaa78' opacity='0.40'/><rect x='383.40' y='25.80' width='15.40' height='121.40' fill='#f8dedb' /><rect x='383.40' y='25.80' width='15.40' height='36' fill='url(#haze2)' opacity='0.62'/><path d='M384.00,25.80 L398.80,25.80 L398.80,29.30 C391.10,30.00 389.60,32.80 388.40,39.80 L387.40,59.80 L386.60,78.30 L386.00,95.80 L385.20,95.80 L384.60,65.80 Z' fill='url(#mid2)' opacity='0.62'/><path d='M383.40,25.80 L398.80,25.80 L398.80,27.40 C394.18,28.40 389.56,28.80 388.40,29.30 L383.40,29.30 Z' fill='url(#band2)' opacity='0.62'/><path d='M384.60,26.80 L392.64,26.80 C389.90,29.30 388.20,32.80 387.60,40.80 L386.80,63.80 L386.10,87.80 L385.50,87.80 L384.90,55.80 Z' fill='#0a5e1e' opacity='0.43'/><path d='M396.40,28.80 L398.00,28.80 L397.60,55.80 L397.00,55.80 Z' fill='#6aaa78' opacity='0.25'/><rect x='402.30' y='25.80' width='15.40' height='121.40' fill='#f8dedb' /><rect x='402.30' y='25.80' width='15.40' height='36' fill='url(#haze2)' opacity='0.85'/><path d='M402.90,25.80 L417.70,25.80 L417.70,29.30 C410.00,30.00 408.50,32.80 407.30,39.80 L406.30,59.80 L405.50,88.80 L404.90,109.80 L404.10,109.80 L403.50,65.80 Z' fill='url(#mid2)' opacity='0.85'/><path d='M402.30,25.80 L417.70,25.80 L417.70,27.40 C413.08,28.40 408.46,28.80 407.30,29.30 L402.30,29.30 Z' fill='url(#band2)' opacity='0.85'/><path d='M403.50,26.80 L411.54,26.80 C408.80,29.30 407.10,32.80 406.50,40.80 L405.70,63.80 L405.00,87.80 L404.40,87.80 L403.80,55.80 Z' fill='#0a5e1e' opacity='0.59'/><path d='M415.30,28.80 L416.90,28.80 L416.50,55.80 L415.90,55.80 Z' fill='#6aaa78' opacity='0.34'/><rect x='428.30' y='25.80' width='15.40' height='121.40' fill='url(#b3g)' /><path d='M428.30,27.80 L443.70,27.80 L428.30,87.80 Z' fill='url(#b3d)' filter='url(#blur1)'/><rect x='428.30' y='25.80' width='2.20' height='58.00' fill='url(#b3l)' /><rect x='428.30' y='114.20' width='15.40' height='2.80' fill='#e0d0e8' opacity='0.8' filter='url(#blur05)'/><rect x='432.30' y='124.20' width='7.40' height='2.40' fill='#9ab4ea' opacity='0.5' filter='url(#blur05)'/><rect x='428.30' y='133.30' width='15.40' height='4.40' fill='#f4cdd6' filter='url(#blur05)'/><rect x='447.20' y='25.80' width='15.40' height='121.40' fill='url(#b3g)' /><path d='M447.20,27.80 L462.60,27.80 L447.20,87.80 Z' fill='url(#b3d)' filter='url(#blur1)'/><rect x='447.20' y='25.80' width='2.20' height='58.00' fill='url(#b3l)' /><rect x='447.20' y='114.20' width='15.40' height='2.80' fill='#e0d0e8' opacity='0.8' filter='url(#blur05)'/><rect x='451.20' y='124.20' width='7.40' height='2.40' fill='#9ab4ea' opacity='0.5' filter='url(#blur05)'/><rect x='447.20' y='133.30' width='15.40' height='4.40' fill='#f4cdd6' filter='url(#blur05)'/><rect x='466.10' y='25.80' width='15.40' height='121.40' fill='url(#b3g)' /><path d='M466.10,27.80 L481.50,27.80 L466.10,87.80 Z' fill='url(#b3d)' filter='url(#blur1)'/><rect x='466.10' y='25.80' width='2.20' height='58.00' fill='url(#b3l)' /><rect x='466.10' y='114.20' width='15.40' height='2.80' fill='#e0d0e8' opacity='0.8' filter='url(#blur05)'/><rect x='470.10' y='124.20' width='7.40' height='2.40' fill='#9ab4ea' opacity='0.5' filter='url(#blur05)'/><rect x='466.10' y='133.30' width='15.40' height='4.40' fill='#f4cdd6' filter='url(#blur05)'/><rect x='485.00' y='25.80' width='15.40' height='121.40' fill='url(#b3g)' /><path d='M485.00,27.80 L500.40,27.80 L485.00,87.80 Z' fill='url(#b3d)' filter='url(#blur1)'/><rect x='485.00' y='25.80' width='2.20' height='58.00' fill='url(#b3l)' /><rect x='485.00' y='114.20' width='15.40' height='2.80' fill='#e0d0e8' opacity='0.8' filter='url(#blur05)'/><rect x='489.00' y='124.20' width='7.40' height='2.40' fill='#9ab4ea' opacity='0.5' filter='url(#blur05)'/><rect x='485.00' y='133.30' width='15.40' height='4.40' fill='#f4cdd6' filter='url(#blur05)'/><rect x='503.90' y='25.80' width='15.40' height='121.40' fill='url(#b3g)' /><path d='M503.90,27.80 L519.30,27.80 L503.90,87.80 Z' fill='url(#b3d)' filter='url(#blur1)'/><rect x='503.90' y='25.80' width='2.20' height='58.00' fill='url(#b3l)' /><rect x='503.90' y='114.20' width='15.40' height='2.80' fill='#e0d0e8' opacity='0.8' filter='url(#blur05)'/><rect x='507.90' y='124.20' width='7.40' height='2.40' fill='#9ab4ea' opacity='0.5' filter='url(#blur05)'/><rect x='503.90' y='133.30' width='15.40' height='4.40' fill='#f4cdd6' filter='url(#blur05)'/><rect x='522.80' y='25.80' width='15.40' height='121.40' fill='url(#b3i)' /><rect x='522.80' y='114.20' width='15.40' height='2.80' fill='#e0d0e8' opacity='0.8' filter='url(#blur05)'/><rect x='526.80' y='124.20' width='7.40' height='2.40' fill='#9ab4ea' opacity='0.5' filter='url(#blur05)'/><rect x='522.80' y='133.30' width='15.40' height='4.40' fill='#f4cdd6' filter='url(#blur05)'/><text x='183.10' y='152.70' font-size='5.6' fill='#000' text-anchor='start' >-3kb</text><text x='203.40' y='152.70' font-size='5.6' fill='#000' text-anchor='start' >TSSTTS</text><text x='292.20' y='152.70' font-size='5.6' fill='#000' text-anchor='start' >3kb</text><text x='303.50' y='152.70' font-size='5.6' fill='#000' text-anchor='start' >-3kb</text><text x='324.10' y='152.70' font-size='5.6' fill='#000' text-anchor='start' >TSSTTS</text><text x='413.60' y='152.70' font-size='5.6' fill='#000' text-anchor='start' >3kb</text><text x='425.70' y='152.70' font-size='5.6' fill='#000' text-anchor='start' >-3kb</text><text x='445.80' y='152.70' font-size='5.6' fill='#000' text-anchor='start' >TSSTTS</text><text x='534.50' y='152.70' font-size='5.6' fill='#000' text-anchor='start' >3kb</text><text x='9.50' y='173.80' font-size='14' fill='#000' text-anchor='start' >C</text><text x='37.10' y='172.20' font-size='7.2' fill='#000' text-anchor='start' >Differential R-loop Analysis</text><rect x='28.50' y='178.20' width='107.30' height='103.50' fill='none' stroke='#9a9a9a' stroke-width='0.8'/><line x1='28.5' x2='135.8' y1='230.6' y2='230.6' stroke='#e8e8e8' stroke-width='0.5'/><line x1='26.7' x2='28.5' y1='201.40' y2='201.40' stroke='#666' stroke-width='0.6'/><text x='25.60' y='203.40' font-size='6.0' fill='#000' text-anchor='end' >4000</text><line x1='26.7' x2='28.5' y1='230.60' y2='230.60' stroke='#666' stroke-width='0.6'/><text x='25.60' y='232.60' font-size='6.0' fill='#000' text-anchor='end' >0</text><line x1='26.7' x2='28.5' y1='259.80' y2='259.80' stroke='#666' stroke-width='0.6'/><text x='25.60' y='261.80' font-size='6.0' fill='#000' text-anchor='end' >-4000</text><rect x='34.00' y='191.03' width='9.80' height='39.57' fill='#fc8c12' /><rect x='34.00' y='230.60' width='9.80' height='5.69' fill='#7a2c8a' /><rect x='55.00' y='209.68' width='9.80' height='20.92' fill='#fc8c12' /><rect x='55.00' y='230.60' width='9.80' height='17.17' fill='#7a2c8a' /><rect x='75.20' y='227.90' width='9.80' height='2.70' fill='#fc8c12' /><rect x='75.20' y='230.60' width='9.80' height='47.11' fill='#7a2c8a' /><rect x='95.90' y='211.74' width='9.80' height='18.86' fill='#fc8c12' /><rect x='95.90' y='230.60' width='9.80' height='3.10' fill='#7a2c8a' /><rect x='116.40' y='187.31' width='9.80' height='43.29' fill='#fc8c12' /><rect x='116.40' y='230.60' width='9.80' height='6.34' fill='#7a2c8a' /><text transform='translate(8.0,226.2) rotate(-90)' font-size='8.0' text-anchor='middle'>DE R-loop Count</text><text transform='translate(28.10,291.8) rotate(-8)' font-size='5.8'>D1 vs D0</text><text transform='translate(49.10,291.8) rotate(-8)' font-size='5.8'>D3 vs D1</text><text transform='translate(69.30,291.8) rotate(-8)' font-size='5.8'>D5 vs D3</text><text transform='translate(90.00,291.8) rotate(-8)' font-size='5.8'>D7 vs D5</text><text transform='translate(110.50,291.8) rotate(-8)' font-size='5.8'>iPSC vs D7</text><rect x='31.80' y='267.00' width='7.30' height='4.90' fill='#fc8c12' /><rect x='31.80' y='273.00' width='7.30' height='4.90' fill='#7a2c8a' /><text x='40.40' y='271.60' font-size='6.0' fill='#000' text-anchor='start' >Up</text><text x='40.40' y='277.60' font-size='6.0' fill='#000' text-anchor='start' >Down</text><text x='40.50' y='189.43' font-size='6.5' fill='#fc8c12' text-anchor='middle' >5421</text><text x='40.30' y='242.49' font-size='6.5' fill='#7a2c8a' text-anchor='middle' >780</text><text x='61.50' y='208.08' font-size='6.5' fill='#fc8c12' text-anchor='middle' >2866</text><text x='61.30' y='253.97' font-size='6.5' fill='#7a2c8a' text-anchor='middle' >2352</text><text x='81.70' y='226.30' font-size='6.5' fill='#fc8c12' text-anchor='middle' >370</text><text x='102.40' y='210.14' font-size='6.5' fill='#fc8c12' text-anchor='middle' >2583</text><text x='102.20' y='239.90' font-size='6.5' fill='#7a2c8a' text-anchor='middle' >425</text><text x='122.90' y='185.71' font-size='6.5' fill='#fc8c12' text-anchor='middle' >5930</text><text x='122.70' y='243.14' font-size='6.5' fill='#7a2c8a' text-anchor='middle' >868</text><text x='94.00' y='278.00' font-size='6.5' fill='#7a2c8a' text-anchor='middle' >6454</text><text x='157.30' y='173.80' font-size='14' fill='#000' text-anchor='start' >D</text><text x='174.40' y='172.20' font-size='7.2' fill='#000' text-anchor='start' >Differential Expression Analysis</text><rect x='172.60' y='177.90' width='106.90' height='103.80' fill='none' stroke='#9a9a9a' stroke-width='0.8'/><line x1='172.6' x2='279.5' y1='226.9' y2='226.9' stroke='#e8e8e8' stroke-width='0.5'/><line x1='170.79999999999998' x2='172.6' y1='201.50' y2='201.50' stroke='#666' stroke-width='0.6'/><text x='169.80' y='203.50' font-size='6.0' fill='#000' text-anchor='end' >2000</text><line x1='170.79999999999998' x2='172.6' y1='226.90' y2='226.90' stroke='#666' stroke-width='0.6'/><text x='169.80' y='228.90' font-size='6.0' fill='#000' text-anchor='end' >0</text><line x1='170.79999999999998' x2='172.6' y1='252.30' y2='252.30' stroke='#666' stroke-width='0.6'/><text x='169.80' y='254.30' font-size='6.0' fill='#000' text-anchor='end' >-2000</text><line x1='170.79999999999998' x2='172.6' y1='277.70' y2='277.70' stroke='#666' stroke-width='0.6'/><text x='169.80' y='279.70' font-size='6.0' fill='#000' text-anchor='end' >-4000</text><rect x='178.50' y='210.47' width='9.80' height='16.43' fill='#f01c1c' /><rect x='178.50' y='226.90' width='9.80' height='18.69' fill='#1f6db5' /><rect x='198.90' y='210.57' width='9.80' height='16.33' fill='#f01c1c' /><rect x='198.90' y='226.90' width='9.80' height='18.54' fill='#1f6db5' /><rect x='219.20' y='212.94' width='9.80' height='13.96' fill='#f01c1c' /><rect x='219.20' y='226.90' width='9.80' height='4.28' fill='#1f6db5' /><rect x='240.30' y='213.36' width='9.80' height='13.54' fill='#f01c1c' /><rect x='240.30' y='226.90' width='9.80' height='17.95' fill='#1f6db5' /><rect x='260.40' y='185.37' width='9.80' height='41.53' fill='#f01c1c' /><rect x='260.40' y='226.90' width='9.80' height='50.86' fill='#1f6db5' /><text transform='translate(152.4,228.2) rotate(-90)' font-size='8.0' text-anchor='middle'>DE Gene Count</text><text transform='translate(172.60,291.8) rotate(-8)' font-size='5.8'>D1 vs D0</text><text transform='translate(193.00,291.8) rotate(-8)' font-size='5.8'>D3 vs D1</text><text transform='translate(213.30,291.8) rotate(-8)' font-size='5.8'>D5 vs D3</text><text transform='translate(234.40,291.8) rotate(-8)' font-size='5.8'>D7 vs D5</text><text transform='translate(254.50,291.8) rotate(-8)' font-size='5.8'>iPSC vs D7</text><rect x='175.90' y='267.00' width='7.30' height='4.90' fill='#f01c1c' /><rect x='175.90' y='273.00' width='7.30' height='4.90' fill='#1f6db5' /><text x='184.50' y='271.60' font-size='6.0' fill='#000' text-anchor='start' >Up</text><text x='184.50' y='277.60' font-size='6.0' fill='#000' text-anchor='start' >Down</text><text x='184.20' y='208.67' font-size='6.5' fill='#f01c1c' text-anchor='middle' >1294</text><text x='184.20' y='251.79' font-size='6.5' fill='#1f6db5' text-anchor='middle' >1472</text><text x='204.60' y='208.77' font-size='6.5' fill='#f01c1c' text-anchor='middle' >1286</text><text x='204.60' y='251.64' font-size='6.5' fill='#1f6db5' text-anchor='middle' >1460</text><text x='224.90' y='211.14' font-size='6.5' fill='#f01c1c' text-anchor='middle' >1099</text><text x='224.90' y='237.38' font-size='6.5' fill='#1f6db5' text-anchor='middle' >337</text><text x='246.00' y='211.56' font-size='6.5' fill='#f01c1c' text-anchor='middle' >1066</text><text x='246.00' y='251.05' font-size='6.5' fill='#1f6db5' text-anchor='middle' >1413</text><text x='266.10' y='183.57' font-size='6.5' fill='#f01c1c' text-anchor='middle' >3270</text><text x='251.20' y='277.60' font-size='6.5' fill='#1f6db5' text-anchor='middle' >4005</text><text x='301.50' y='182.00' font-size='13.2' fill='#000' text-anchor='start' >E</text><circle cx='340.8' cy='228.5' r='45.0' fill='#f7a14c'/><circle cx='377.4' cy='228.5' r='34.4' fill='#f4505e'/><circle cx='377.4' cy='228.5' r='34.4' fill='#f3402a' clip-path='url(#ve)'/><circle cx='340.8' cy='228.5' r='45.0' fill='none' stroke='#6a4a3a' stroke-width='0.5'/><circle cx='377.4' cy='228.5' r='34.4' fill='none' stroke='#6a4a3a' stroke-width='0.5'/><text x='320.60' y='176.80' font-size='8.7' fill='#f5a04a' text-anchor='start' >R-loop_up</text><text x='368.20' y='186.60' font-size='8.8' fill='#f2505c' text-anchor='start' >Up_regulated</text><text x='313.00' y='229.30' font-size='8.6' fill='#000' text-anchor='start' >7496</text><text x='358.00' y='229.30' font-size='8.6' fill='#000' text-anchor='start' >3689</text><text x='356.00' y='237.60' font-size='8.4' fill='#000' text-anchor='start' >(58%)</text><text x='389.00' y='229.30' font-size='8.6' fill='#000' text-anchor='start' >2715</text><text x='387.00' y='237.60' font-size='8.4' fill='#000' text-anchor='start' >(42%)</text><text x='425.90' y='182.00' font-size='13.2' fill='#000' text-anchor='start' >F</text><circle cx='464.8' cy='227.0' r='42.4' fill='#a0609e'/><circle cx='502.8' cy='227.5' r='35.3' fill='#4a90d2'/><circle cx='502.8' cy='227.5' r='35.3' fill='#3b64aa' clip-path='url(#vf)'/><circle cx='464.8' cy='227.0' r='42.4' fill='none' stroke='#3a3a4a' stroke-width='0.5'/><circle cx='502.8' cy='227.5' r='35.3' fill='none' stroke='#3a3a4a' stroke-width='0.5'/><text x='442.00' y='176.80' font-size='8.7' fill='#9c5c9e' text-anchor='start' >R-loop_down</text><text x='486.60' y='186.70' font-size='8.65' fill='#4a8ed2' text-anchor='start' >Down_regulated</text><text x='440.00' y='229.30' font-size='8.6' fill='#000' text-anchor='start' >6109</text><text x='480.00' y='226.20' font-size='8.6' fill='#000' text-anchor='start' >3290</text><text x='478.00' y='236.60' font-size='8.4' fill='#000' text-anchor='start' >(49%)</text><text x='512.00' y='226.20' font-size='8.6' fill='#000' text-anchor='start' >3378</text><text x='512.00' y='236.60' font-size='8.4' fill='#000' text-anchor='start' >(51%)</text><text x='6.40' y='311.80' font-size='12.5' fill='#000' text-anchor='start' >G</text><text x='22.70' y='310.80' font-size='6.6' fill='#000' text-anchor='start' >Marked by R-loop</text><rect x='22.70' y='314.20' width='35.50' height='3.90' fill='url(#gg)' /><text x='23.60' y='322.60' font-size='5.6' fill='#000' text-anchor='middle' >0</text><text x='57.50' y='322.60' font-size='5.6' fill='#000' text-anchor='middle' >1</text><rect x='22.90' y='323.20' width='71.82' height='157.30' fill='#d4d4d9' /><rect x='22.75' y='323.20' width='12.27' height='39.10' fill='#f84a58' /><rect x='34.72' y='323.20' width='12.27' height='16.20' fill='#f84a58' /><rect x='34.87' y='339.40' width='11.97' height='0.70' fill='#f58a94'/><rect x='34.87' y='340.10' width='11.97' height='0.70' fill='#f58a94'/><rect x='34.87' y='340.80' width='11.97' height='0.50' fill='#f58a94'/><rect x='34.87' y='341.30' width='11.97' height='0.50' fill='#f8aab2'/><rect x='34.87' y='341.80' width='11.97' height='0.50' fill='#f58a94'/><rect x='34.87' y='342.30' width='11.97' height='0.50' fill='#f8aab2'/><rect x='34.87' y='342.80' width='11.97' height='0.70' fill='#f8aab2'/><rect x='34.87' y='343.50' width='11.97' height='0.50' fill='#f8aab2'/><rect x='34.87' y='344.00' width='11.97' height='0.70' fill='#f8aab2'/><rect x='34.87' y='344.70' width='11.97' height='0.90' fill='#f8aab2'/><rect x='34.87' y='345.60' width='11.97' height='0.50' fill='#f58a94'/><rect x='34.87' y='346.10' width='11.97' height='0.90' fill='#f58a94'/><rect x='34.87' y='347.00' width='11.97' height='0.90' fill='#f58a94'/><rect x='34.87' y='347.90' width='11.97' height='0.50' fill='#f58a94'/><rect x='34.87' y='348.40' width='11.97' height='0.50' fill='#f58a94'/><rect x='34.87' y='348.90' width='11.97' height='0.50' fill='#f8aab2'/><rect x='34.87' y='349.40' width='11.97' height='0.50' fill='#f58a94'/><rect x='34.87' y='349.90' width='11.97' height='0.90' fill='#f8aab2'/><rect x='34.87' y='350.80' width='11.97' height='0.90' fill='#f8aab2'/><rect x='34.87' y='351.70' width='11.97' height='0.90' fill='#f58a94'/><rect x='34.87' y='352.60' width='11.97' height='0.50' fill='#f8aab2'/><rect x='34.87' y='353.10' width='11.97' height='0.90' fill='#f58a94'/><rect x='34.87' y='354.00' width='11.97' height='0.90' fill='#f8aab2'/><rect x='34.87' y='354.90' width='11.97' height='0.50' fill='#f8aab2'/><rect x='34.87' y='355.40' width='11.97' height='0.90' fill='#f8aab2'/><rect x='34.87' y='356.30' width='11.97' height='0.70' fill='#f8aab2'/><rect x='34.87' y='357.00' width='11.97' height='0.70' fill='#f8aab2'/><rect x='34.87' y='357.70' width='11.97' height='0.50' fill='#f58a94'/><rect x='34.87' y='358.20' width='11.97' height='0.90' fill='#f58a94'/><rect x='34.87' y='359.10' width='11.97' height='0.50' fill='#f58a94'/><rect x='34.87' y='359.60' width='11.97' height='0.90' fill='#f8aab2'/><rect x='34.87' y='360.50' width='11.97' height='0.30' fill='#f58a94'/><rect x='34.72' y='360.80' width='12.27' height='57.70' fill='#f84a58' /><rect x='34.72' y='438.90' width='12.27' height='12.00' fill='#f84a58' /><rect x='46.69' y='323.20' width='12.27' height='111.10' fill='#f84a58' /><rect x='46.84' y='339.40' width='11.97' height='0.70' fill='#f84a58'/><rect x='46.84' y='340.10' width='11.97' height='0.50' fill='#f8626e'/><rect x='46.84' y='340.60' width='11.97' height='0.70' fill='#f8626e'/><rect x='46.84' y='341.30' width='11.97' height='0.70' fill='#f8626e'/><rect x='46.84' y='342.00' width='11.97' height='0.70' fill='#f84a58'/><rect x='46.84' y='342.70' width='11.97' height='0.90' fill='#f8626e'/><rect x='46.84' y='343.60' width='11.97' height='0.90' fill='#f84a58'/><rect x='46.84' y='344.50' width='11.97' height='0.70' fill='#f8626e'/><rect x='46.84' y='345.20' width='11.97' height='0.70' fill='#f84a58'/><rect x='46.84' y='345.90' width='11.97' height='0.90' fill='#f84a58'/><rect x='46.84' y='346.80' width='11.97' height='0.50' fill='#f84a58'/><rect x='46.84' y='347.30' width='11.97' height='0.70' fill='#f84a58'/><rect x='46.84' y='348.00' width='11.97' height='0.90' fill='#f8626e'/><rect x='46.84' y='348.90' width='11.97' height='0.90' fill='#f84a58'/><rect x='46.84' y='349.80' width='11.97' height='0.90' fill='#f84a58'/><rect x='46.84' y='350.70' width='11.97' height='0.90' fill='#f84a58'/><rect x='46.84' y='351.60' width='11.97' height='0.70' fill='#f84a58'/><rect x='46.84' y='352.30' width='11.97' height='0.90' fill='#f8626e'/><rect x='46.84' y='353.20' width='11.97' height='0.70' fill='#f84a58'/><rect x='46.84' y='353.90' width='11.97' height='0.90' fill='#f8626e'/><rect x='46.84' y='354.80' width='11.97' height='0.50' fill='#f8626e'/><rect x='46.84' y='355.30' width='11.97' height='0.70' fill='#f8626e'/><rect x='46.84' y='356.00' width='11.97' height='0.50' fill='#f84a58'/><rect x='46.84' y='356.50' width='11.97' height='0.70' fill='#f8626e'/><rect x='46.84' y='357.20' width='11.97' height='0.70' fill='#f84a58'/><rect x='46.84' y='357.90' width='11.97' height='0.70' fill='#f84a58'/><rect x='46.84' y='358.60' width='11.97' height='0.70' fill='#f84a58'/><rect x='46.84' y='359.30' width='11.97' height='0.70' fill='#f84a58'/><rect x='46.84' y='360.00' width='11.97' height='0.70' fill='#f84a58'/><rect x='46.84' y='360.70' width='11.97' height='0.70' fill='#f84a58'/><rect x='46.84' y='361.40' width='11.97' height='0.50' fill='#f8626e'/><rect x='46.84' y='361.90' width='11.97' height='0.50' fill='#f8626e'/><rect x='46.84' y='362.40' width='11.97' height='0.50' fill='#f8626e'/><rect x='46.84' y='362.90' width='11.97' height='0.90' fill='#f8626e'/><rect x='46.84' y='363.80' width='11.97' height='0.70' fill='#f8626e'/><rect x='46.84' y='364.50' width='11.97' height='0.70' fill='#f84a58'/><rect x='46.84' y='365.20' width='11.97' height='0.90' fill='#f84a58'/><rect x='46.84' y='366.10' width='11.97' height='0.50' fill='#f84a58'/><rect x='46.84' y='366.60' width='11.97' height='0.90' fill='#f84a58'/><rect x='46.84' y='367.50' width='11.97' height='0.90' fill='#f84a58'/><rect x='46.84' y='368.40' width='11.97' height='0.50' fill='#f84a58'/><rect x='46.84' y='368.90' width='11.97' height='0.90' fill='#f84a58'/><rect x='46.84' y='369.80' width='11.97' height='0.70' fill='#f84a58'/><rect x='46.84' y='370.50' width='11.97' height='0.70' fill='#f8626e'/><rect x='46.84' y='371.20' width='11.97' height='0.90' fill='#f84a58'/><rect x='46.84' y='372.10' width='11.97' height='0.50' fill='#f8626e'/><rect x='46.84' y='372.60' width='11.97' height='0.50' fill='#f84a58'/><rect x='46.84' y='373.10' width='11.97' height='0.50' fill='#f8626e'/><rect x='46.84' y='373.60' width='11.97' height='0.50' fill='#f8626e'/><rect x='46.84' y='374.10' width='11.97' height='0.90' fill='#f8626e'/><rect x='46.84' y='375.00' width='11.97' height='0.50' fill='#f84a58'/><rect x='46.84' y='375.50' width='11.97' height='0.90' fill='#f8626e'/><rect x='46.84' y='376.40' width='11.97' height='0.50' fill='#f84a58'/><rect x='46.84' y='376.90' width='11.97' height='0.50' fill='#f84a58'/><rect x='46.84' y='377.40' width='11.97' height='0.70' fill='#f84a58'/><rect x='46.84' y='378.10' width='11.97' height='0.70' fill='#f8626e'/><rect x='46.84' y='378.80' width='11.97' height='0.70' fill='#f84a58'/><rect x='46.84' y='379.50' width='11.97' height='0.70' fill='#f84a58'/><rect x='46.84' y='380.20' width='11.97' height='0.70' fill='#f8626e'/><rect x='46.84' y='380.90' width='11.97' height='0.50' fill='#f84a58'/><rect x='46.84' y='381.40' width='11.97' height='0.90' fill='#f8626e'/><rect x='46.84' y='382.30' width='11.97' height='0.90' fill='#f8626e'/><rect x='46.84' y='383.20' width='11.97' height='0.50' fill='#f8626e'/><rect x='46.84' y='383.70' width='11.97' height='0.90' fill='#f84a58'/><rect x='46.84' y='384.60' width='11.97' height='0.90' fill='#f84a58'/><rect x='46.84' y='385.50' width='11.97' height='0.50' fill='#f84a58'/><rect x='46.84' y='386.00' width='11.97' height='0.70' fill='#f84a58'/><rect x='46.84' y='386.70' width='11.97' height='0.50' fill='#f84a58'/><rect x='46.84' y='387.20' width='11.97' height='0.70' fill='#f84a58'/><rect x='46.84' y='387.90' width='11.97' height='0.50' fill='#f84a58'/><rect x='46.84' y='388.40' width='11.97' height='0.50' fill='#f84a58'/><rect x='46.84' y='388.90' width='11.97' height='0.90' fill='#f8626e'/><rect x='46.84' y='389.80' width='11.97' height='0.50' fill='#f84a58'/><rect x='46.84' y='390.30' width='11.97' height='0.50' fill='#f84a58'/><rect x='46.84' y='390.80' width='11.97' height='0.70' fill='#f84a58'/><rect x='46.84' y='391.50' width='11.97' height='0.50' fill='#f8626e'/><rect x='46.84' y='392.00' width='11.97' height='0.70' fill='#f84a58'/><rect x='46.84' y='392.70' width='11.97' height='0.50' fill='#f84a58'/><rect x='46.84' y='393.20' width='11.97' height='0.70' fill='#f84a58'/><rect x='46.84' y='393.90' width='11.97' height='0.50' fill='#f84a58'/><rect x='46.84' y='394.40' width='11.97' height='0.70' fill='#f84a58'/><rect x='46.84' y='395.10' width='11.97' height='0.90' fill='#f84a58'/><rect x='46.84' y='396.00' width='11.97' height='0.70' fill='#f8626e'/><rect x='46.84' y='396.70' width='11.97' height='0.50' fill='#f8626e'/><rect x='46.84' y='397.20' width='11.97' height='0.50' fill='#f8626e'/><rect x='46.84' y='397.70' width='11.97' height='0.70' fill='#f84a58'/><rect x='46.84' y='398.40' width='11.97' height='0.90' fill='#f84a58'/><rect x='46.84' y='399.30' width='11.97' height='0.70' fill='#f84a58'/><rect x='46.84' y='400.00' width='11.97' height='0.70' fill='#f84a58'/><rect x='46.84' y='400.70' width='11.97' height='0.50' fill='#f84a58'/><rect x='46.84' y='401.20' width='11.97' height='0.50' fill='#f84a58'/><rect x='46.84' y='401.70' width='11.97' height='0.90' fill='#f84a58'/><rect x='46.84' y='402.60' width='11.97' height='0.70' fill='#f84a58'/><rect x='46.84' y='403.30' width='11.97' height='0.70' fill='#f84a58'/><rect x='46.84' y='404.00' width='11.97' height='0.70' fill='#f8626e'/><rect x='46.84' y='404.70' width='11.97' height='0.90' fill='#f84a58'/><rect x='46.84' y='405.60' width='11.97' height='0.70' fill='#f84a58'/><rect x='46.84' y='406.30' width='11.97' height='0.50' fill='#f84a58'/><rect x='46.84' y='406.80' width='11.97' height='0.50' fill='#f84a58'/><rect x='46.84' y='407.30' width='11.97' height='0.50' fill='#f8626e'/><rect x='46.84' y='407.80' width='11.97' height='0.70' fill='#f84a58'/><rect x='46.84' y='408.50' width='11.97' height='0.50' fill='#f84a58'/><rect x='46.84' y='409.00' width='11.97' height='0.90' fill='#f84a58'/><rect x='46.84' y='409.90' width='11.97' height='0.90' fill='#f84a58'/><rect x='46.84' y='410.80' width='11.97' height='0.50' fill='#f84a58'/><rect x='46.84' y='411.30' width='11.97' height='0.50' fill='#f8626e'/><rect x='46.84' y='411.80' width='11.97' height='0.90' fill='#f84a58'/><rect x='46.84' y='412.70' width='11.97' height='0.90' fill='#f84a58'/><rect x='46.84' y='413.60' width='11.97' height='0.50' fill='#f84a58'/><rect x='46.84' y='414.10' width='11.97' height='0.50' fill='#f84a58'/><rect x='46.84' y='414.60' width='11.97' height='0.50' fill='#f8626e'/><rect x='46.84' y='415.10' width='11.97' height='0.50' fill='#f8626e'/><rect x='46.84' y='415.60' width='11.97' height='0.50' fill='#f84a58'/><rect x='46.84' y='416.10' width='11.97' height='0.70' fill='#f8626e'/><rect x='46.84' y='416.80' width='11.97' height='0.70' fill='#f84a58'/><rect x='46.84' y='417.50' width='11.97' height='0.50' fill='#f84a58'/><rect x='46.84' y='418.00' width='11.97' height='0.70' fill='#f84a58'/><rect x='46.84' y='418.70' width='11.97' height='0.90' fill='#f84a58'/><rect x='46.84' y='419.60' width='11.97' height='0.90' fill='#f84a58'/><rect x='46.84' y='420.50' width='11.97' height='0.90' fill='#f8626e'/><rect x='46.84' y='421.40' width='11.97' height='0.50' fill='#f84a58'/><rect x='46.84' y='421.90' width='11.97' height='0.50' fill='#f84a58'/><rect x='46.84' y='422.40' width='11.97' height='0.50' fill='#f84a58'/><rect x='46.84' y='422.90' width='11.97' height='0.50' fill='#f8626e'/><rect x='46.84' y='423.40' width='11.97' height='0.70' fill='#f84a58'/><rect x='46.84' y='424.10' width='11.97' height='0.50' fill='#f84a58'/><rect x='46.84' y='424.60' width='11.97' height='0.70' fill='#f84a58'/><rect x='46.84' y='425.30' width='11.97' height='0.90' fill='#f84a58'/><rect x='46.84' y='426.20' width='11.97' height='0.50' fill='#f84a58'/><rect x='46.84' y='426.70' width='11.97' height='0.50' fill='#f8626e'/><rect x='46.84' y='427.20' width='11.97' height='0.70' fill='#f8626e'/><rect x='46.84' y='427.90' width='11.97' height='0.50' fill='#f84a58'/><rect x='46.84' y='428.40' width='11.97' height='0.90' fill='#f8626e'/><rect x='46.84' y='429.30' width='11.97' height='0.50' fill='#f84a58'/><rect x='46.84' y='429.80' width='11.97' height='0.90' fill='#f84a58'/><rect x='46.84' y='430.70' width='11.97' height='0.90' fill='#f84a58'/><rect x='46.84' y='431.60' width='11.97' height='0.90' fill='#f8626e'/><rect x='46.84' y='432.50' width='11.97' height='0.90' fill='#f84a58'/><rect x='46.84' y='433.40' width='11.97' height='0.70' fill='#f84a58'/><rect x='46.84' y='434.10' width='11.97' height='0.20' fill='#f84a58'/><rect x='46.69' y='451.50' width='12.27' height='8.70' fill='#f84a58' /><rect x='58.66' y='323.20' width='12.27' height='16.20' fill='#f84a58' /><rect x='58.81' y='339.40' width='11.97' height='0.70' fill='#dad4d8'/><rect x='58.81' y='340.10' width='11.97' height='0.50' fill='#dad4d8'/><rect x='58.81' y='340.60' width='11.97' height='0.50' fill='#dad4d8'/><rect x='58.81' y='341.10' width='11.97' height='0.70' fill='#dad4d8'/><rect x='58.81' y='341.80' width='11.97' height='0.50' fill='#dad4d8'/><rect x='58.81' y='342.30' width='11.97' height='0.70' fill='#e8d0d4'/><rect x='58.81' y='343.00' width='11.97' height='0.90' fill='#e8d0d4'/><rect x='58.81' y='343.90' width='11.97' height='0.50' fill='#dad4d8'/><rect x='58.81' y='344.40' width='11.97' height='0.50' fill='#dad4d8'/><rect x='58.81' y='344.90' width='11.97' height='0.90' fill='#dad4d8'/><rect x='58.81' y='345.80' width='11.97' height='0.50' fill='#e8d0d4'/><rect x='58.81' y='346.30' width='11.97' height='0.50' fill='#dad4d8'/><rect x='58.81' y='346.80' width='11.97' height='0.50' fill='#dad4d8'/><rect x='58.81' y='347.30' width='11.97' height='0.50' fill='#e8d0d4'/><rect x='58.81' y='347.80' width='11.97' height='0.70' fill='#e8d0d4'/><rect x='58.81' y='348.50' width='11.97' height='0.90' fill='#dad4d8'/><rect x='58.81' y='349.40' width='11.97' height='0.50' fill='#dad4d8'/><rect x='58.81' y='349.90' width='11.97' height='0.90' fill='#dad4d8'/><rect x='58.81' y='350.80' width='11.97' height='0.70' fill='#e8d0d4'/><rect x='58.81' y='351.50' width='11.97' height='0.70' fill='#e8d0d4'/><rect x='58.81' y='352.20' width='11.97' height='0.70' fill='#e8d0d4'/><rect x='58.81' y='352.90' width='11.97' height='0.90' fill='#dad4d8'/><rect x='58.81' y='353.80' width='11.97' height='0.90' fill='#e8d0d4'/><rect x='58.81' y='354.70' width='11.97' height='0.70' fill='#dad4d8'/><rect x='58.81' y='355.40' width='11.97' height='0.70' fill='#dad4d8'/><rect x='58.81' y='356.10' width='11.97' height='0.50' fill='#e8d0d4'/><rect x='58.81' y='356.60' width='11.97' height='0.50' fill='#dad4d8'/><rect x='58.81' y='357.10' width='11.97' height='0.50' fill='#e8d0d4'/><rect x='58.81' y='357.60' width='11.97' height='0.70' fill='#e8d0d4'/><rect x='58.81' y='358.30' width='11.97' height='0.50' fill='#e8d0d4'/><rect x='58.81' y='358.80' width='11.97' height='0.50' fill='#dad4d8'/><rect x='58.81' y='359.30' width='11.97' height='0.90' fill='#dad4d8'/><rect x='58.81' y='360.20' width='11.97' height='0.70' fill='#dad4d8'/><rect x='58.81' y='360.90' width='11.97' height='0.90' fill='#dad4d8'/><rect x='58.81' y='361.80' width='11.97' height='0.90' fill='#dad4d8'/><rect x='58.81' y='362.70' width='11.97' height='0.70' fill='#e8d0d4'/><rect x='58.81' y='363.40' width='11.97' height='0.50' fill='#dad4d8'/><rect x='58.81' y='363.90' width='11.97' height='0.50' fill='#dad4d8'/><rect x='58.81' y='364.40' width='11.97' height='0.50' fill='#e8d0d4'/><rect x='58.81' y='364.90' width='11.97' height='0.50' fill='#dad4d8'/><rect x='58.81' y='365.40' width='11.97' height='0.70' fill='#e8d0d4'/><rect x='58.81' y='366.10' width='11.97' height='0.50' fill='#e8d0d4'/><rect x='58.81' y='366.60' width='11.97' height='0.50' fill='#dad4d8'/><rect x='58.81' y='367.10' width='11.97' height='0.70' fill='#dad4d8'/><rect x='58.81' y='367.80' width='11.97' height='0.70' fill='#dad4d8'/><rect x='58.81' y='368.50' width='11.97' height='0.70' fill='#dad4d8'/><rect x='58.81' y='369.20' width='11.97' height='0.50' fill='#dad4d8'/><rect x='58.81' y='369.70' width='11.97' height='0.50' fill='#dad4d8'/><rect x='58.81' y='370.20' width='11.97' height='0.50' fill='#e8d0d4'/><rect x='58.81' y='370.70' width='11.97' height='0.50' fill='#e8d0d4'/><rect x='58.81' y='371.20' width='11.97' height='0.70' fill='#dad4d8'/><rect x='58.81' y='371.90' width='11.97' height='0.90' fill='#dad4d8'/><rect x='58.81' y='372.80' width='11.97' height='0.70' fill='#dad4d8'/><rect x='58.81' y='373.50' width='11.97' height='0.90' fill='#e8d0d4'/><rect x='58.81' y='374.40' width='11.97' height='0.70' fill='#dad4d8'/><rect x='58.81' y='375.10' width='11.97' height='0.70' fill='#e8d0d4'/><rect x='58.81' y='375.80' width='11.97' height='0.50' fill='#dad4d8'/><rect x='58.81' y='376.30' width='11.97' height='0.90' fill='#dad4d8'/><rect x='58.81' y='377.20' width='11.97' height='0.90' fill='#dad4d8'/><rect x='58.81' y='378.10' width='11.97' height='0.70' fill='#e8d0d4'/><rect x='58.81' y='378.80' width='11.97' height='0.90' fill='#dad4d8'/><rect x='58.81' y='379.70' width='11.97' height='0.70' fill='#dad4d8'/><rect x='58.81' y='380.40' width='11.97' height='0.70' fill='#dad4d8'/><rect x='58.81' y='381.10' width='11.97' height='0.70' fill='#dad4d8'/><rect x='58.81' y='381.80' width='11.97' height='0.50' fill='#e8d0d4'/><rect x='58.81' y='382.30' width='11.97' height='0.90' fill='#dad4d8'/><rect x='58.81' y='383.20' width='11.97' height='0.50' fill='#dad4d8'/><rect x='58.81' y='383.70' width='11.97' height='0.70' fill='#dad4d8'/><rect x='58.81' y='384.40' width='11.97' height='0.50' fill='#e8d0d4'/><rect x='58.81' y='384.90' width='11.97' height='0.90' fill='#dad4d8'/><rect x='58.81' y='385.80' width='11.97' height='0.70' fill='#dad4d8'/><rect x='58.81' y='386.50' width='11.97' height='0.50' fill='#e8d0d4'/><rect x='58.81' y='387.00' width='11.97' height='0.70' fill='#dad4d8'/><rect x='58.81' y='387.70' width='11.97' height='0.90' fill='#dad4d8'/><rect x='58.81' y='388.60' width='11.97' height='0.90' fill='#e8d0d4'/><rect x='58.81' y='389.50' width='11.97' height='0.70' fill='#e8d0d4'/><rect x='58.81' y='390.20' width='11.97' height='0.50' fill='#e8d0d4'/><rect x='58.81' y='390.70' width='11.97' height='0.70' fill='#e8d0d4'/><rect x='58.81' y='391.40' width='11.97' height='0.70' fill='#dad4d8'/><rect x='58.81' y='392.10' width='11.97' height='0.90' fill='#e8d0d4'/><rect x='58.81' y='393.00' width='11.97' height='0.50' fill='#dad4d8'/><rect x='58.81' y='393.50' width='11.97' height='0.70' fill='#e8d0d4'/><rect x='58.81' y='394.20' width='11.97' height='0.50' fill='#e8d0d4'/><rect x='58.81' y='394.70' width='11.97' height='0.70' fill='#e8d0d4'/><rect x='58.81' y='395.40' width='11.97' height='0.70' fill='#dad4d8'/><rect x='58.81' y='396.10' width='11.97' height='0.50' fill='#e8d0d4'/><rect x='58.81' y='396.60' width='11.97' height='0.50' fill='#e8d0d4'/><rect x='58.81' y='397.10' width='11.97' height='0.50' fill='#e8d0d4'/><rect x='58.81' y='397.60' width='11.97' height='0.90' fill='#e8d0d4'/><rect x='58.81' y='398.50' width='11.97' height='0.50' fill='#e8d0d4'/><rect x='58.81' y='399.00' width='11.97' height='0.90' fill='#e8d0d4'/><rect x='58.81' y='399.90' width='11.97' height='0.90' fill='#dad4d8'/><rect x='58.81' y='400.80' width='11.97' height='0.50' fill='#dad4d8'/><rect x='58.81' y='401.30' width='11.97' height='0.90' fill='#dad4d8'/><rect x='58.81' y='402.20' width='11.97' height='0.90' fill='#e8d0d4'/><rect x='58.81' y='403.10' width='11.97' height='0.70' fill='#dad4d8'/><rect x='58.81' y='403.80' width='11.97' height='0.70' fill='#e8d0d4'/><rect x='58.81' y='404.50' width='11.97' height='0.90' fill='#dad4d8'/><rect x='58.81' y='405.40' width='11.97' height='0.50' fill='#e8d0d4'/><rect x='58.81' y='405.90' width='11.97' height='0.90' fill='#dad4d8'/><rect x='58.81' y='406.80' width='11.97' height='0.90' fill='#dad4d8'/><rect x='58.81' y='407.70' width='11.97' height='0.90' fill='#dad4d8'/><rect x='58.81' y='408.60' width='11.97' height='0.50' fill='#dad4d8'/><rect x='58.81' y='409.10' width='11.97' height='0.90' fill='#dad4d8'/><rect x='58.81' y='410.00' width='11.97' height='0.50' fill='#dad4d8'/><rect x='58.81' y='410.50' width='11.97' height='0.90' fill='#dad4d8'/><rect x='58.81' y='411.40' width='11.97' height='0.90' fill='#dad4d8'/><rect x='58.81' y='412.30' width='11.97' height='0.90' fill='#dad4d8'/><rect x='58.81' y='413.20' width='11.97' height='0.50' fill='#e8d0d4'/><rect x='58.81' y='413.70' width='11.97' height='0.50' fill='#dad4d8'/><rect x='58.81' y='414.20' width='11.97' height='0.50' fill='#e8d0d4'/><rect x='58.81' y='414.70' width='11.97' height='0.70' fill='#dad4d8'/><rect x='58.81' y='415.40' width='11.97' height='0.90' fill='#e8d0d4'/><rect x='58.81' y='416.30' width='11.97' height='0.90' fill='#dad4d8'/><rect x='58.81' y='417.20' width='11.97' height='0.70' fill='#e8d0d4'/><rect x='58.81' y='417.90' width='11.97' height='0.70' fill='#dad4d8'/><rect x='58.81' y='418.60' width='11.97' height='0.90' fill='#dad4d8'/><rect x='58.81' y='419.50' width='11.97' height='0.90' fill='#e8d0d4'/><rect x='58.81' y='420.40' width='11.97' height='0.90' fill='#e8d0d4'/><rect x='58.81' y='421.30' width='11.97' height='0.90' fill='#dad4d8'/><rect x='58.81' y='422.20' width='11.97' height='0.50' fill='#dad4d8'/><rect x='58.81' y='422.70' width='11.97' height='0.50' fill='#dad4d8'/><rect x='58.81' y='423.20' width='11.97' height='0.50' fill='#e8d0d4'/><rect x='58.81' y='423.70' width='11.97' height='0.90' fill='#dad4d8'/><rect x='58.81' y='424.60' width='11.97' height='0.70' fill='#dad4d8'/><rect x='58.81' y='425.30' width='11.97' height='0.50' fill='#dad4d8'/><rect x='58.81' y='425.80' width='11.97' height='0.90' fill='#e8d0d4'/><rect x='58.81' y='426.70' width='11.97' height='0.50' fill='#dad4d8'/><rect x='58.81' y='427.20' width='11.97' height='0.90' fill='#e8d0d4'/><rect x='58.81' y='428.10' width='11.97' height='0.90' fill='#e8d0d4'/><rect x='58.81' y='429.00' width='11.97' height='0.70' fill='#dad4d8'/><rect x='58.81' y='429.70' width='11.97' height='0.90' fill='#e8d0d4'/><rect x='58.81' y='430.60' width='11.97' height='0.90' fill='#e8d0d4'/><rect x='58.81' y='431.50' width='11.97' height='0.70' fill='#e8d0d4'/><rect x='58.81' y='432.20' width='11.97' height='0.70' fill='#dad4d8'/><rect x='58.81' y='432.90' width='11.97' height='0.50' fill='#dad4d8'/><rect x='58.81' y='433.40' width='11.97' height='0.90' fill='#dad4d8'/><rect x='58.81' y='434.30' width='11.97' height='0.00' fill='#dad4d8'/><rect x='70.63' y='323.20' width='12.27' height='16.20' fill='#f84a58' /><rect x='70.78' y='339.40' width='11.97' height='0.70' fill='#f8bcc2'/><rect x='70.78' y='340.10' width='11.97' height='0.50' fill='#f4a2aa'/><rect x='70.78' y='340.60' width='11.97' height='0.90' fill='#f8bcc2'/><rect x='70.78' y='341.50' width='11.97' height='0.50' fill='#f4a2aa'/><rect x='70.78' y='342.00' width='11.97' height='0.50' fill='#f8bcc2'/><rect x='70.78' y='342.50' width='11.97' height='0.50' fill='#f4a2aa'/><rect x='70.78' y='343.00' width='11.97' height='0.70' fill='#f4a2aa'/><rect x='70.78' y='343.70' width='11.97' height='0.70' fill='#f8bcc2'/><rect x='70.78' y='344.40' width='11.97' height='0.50' fill='#f8bcc2'/><rect x='70.78' y='344.90' width='11.97' height='0.50' fill='#f8bcc2'/><rect x='70.78' y='345.40' width='11.97' height='0.90' fill='#f8bcc2'/><rect x='70.78' y='346.30' width='11.97' height='0.70' fill='#f8bcc2'/><rect x='70.78' y='347.00' width='11.97' height='0.90' fill='#f4a2aa'/><rect x='70.78' y='347.90' width='11.97' height='0.50' fill='#f4a2aa'/><rect x='70.78' y='348.40' width='11.97' height='0.50' fill='#f8bcc2'/><rect x='70.78' y='348.90' width='11.97' height='0.70' fill='#f8bcc2'/><rect x='70.78' y='349.60' width='11.97' height='0.50' fill='#f8bcc2'/><rect x='70.78' y='350.10' width='11.97' height='0.70' fill='#f4a2aa'/><rect x='70.78' y='350.80' width='11.97' height='0.70' fill='#f8bcc2'/><rect x='70.78' y='351.50' width='11.97' height='0.50' fill='#f8bcc2'/><rect x='70.78' y='352.00' width='11.97' height='0.70' fill='#f8bcc2'/><rect x='70.78' y='352.70' width='11.97' height='0.70' fill='#f8bcc2'/><rect x='70.78' y='353.40' width='11.97' height='0.70' fill='#f4a2aa'/><rect x='70.78' y='354.10' width='11.97' height='0.50' fill='#f4a2aa'/><rect x='70.78' y='354.60' width='11.97' height='0.50' fill='#f4a2aa'/><rect x='70.78' y='355.10' width='11.97' height='0.90' fill='#f8bcc2'/><rect x='70.78' y='356.00' width='11.97' height='0.70' fill='#f8bcc2'/><rect x='70.78' y='356.70' width='11.97' height='0.70' fill='#f4a2aa'/><rect x='70.78' y='357.40' width='11.97' height='0.90' fill='#f8bcc2'/><rect x='70.78' y='358.30' width='11.97' height='0.70' fill='#f4a2aa'/><rect x='70.78' y='359.00' width='11.97' height='0.50' fill='#f8bcc2'/><rect x='70.78' y='359.50' width='11.97' height='0.50' fill='#f4a2aa'/><rect x='70.78' y='360.00' width='11.97' height='0.70' fill='#f4a2aa'/><rect x='70.78' y='360.70' width='11.97' height='0.50' fill='#f8bcc2'/><rect x='70.78' y='361.20' width='11.97' height='0.70' fill='#f8bcc2'/><rect x='70.78' y='361.90' width='11.97' height='0.70' fill='#f8bcc2'/><rect x='70.78' y='362.60' width='11.97' height='0.70' fill='#f4a2aa'/><rect x='70.78' y='363.30' width='11.97' height='0.70' fill='#f4a2aa'/><rect x='70.78' y='364.00' width='11.97' height='0.90' fill='#f8bcc2'/><rect x='70.78' y='364.90' width='11.97' height='0.90' fill='#f4a2aa'/><rect x='70.78' y='365.80' width='11.97' height='0.90' fill='#f8bcc2'/><rect x='70.78' y='366.70' width='11.97' height='0.90' fill='#f8bcc2'/><rect x='70.78' y='367.60' width='11.97' height='0.90' fill='#f4a2aa'/><rect x='70.78' y='368.50' width='11.97' height='0.90' fill='#f4a2aa'/><rect x='70.78' y='369.40' width='11.97' height='0.70' fill='#f8bcc2'/><rect x='70.78' y='370.10' width='11.97' height='0.90' fill='#f8bcc2'/><rect x='70.78' y='371.00' width='11.97' height='0.70' fill='#f8bcc2'/><rect x='70.78' y='371.70' width='11.97' height='0.70' fill='#f8bcc2'/><rect x='70.78' y='372.40' width='11.97' height='0.90' fill='#f4a2aa'/><rect x='70.78' y='373.30' width='11.97' height='0.90' fill='#f8bcc2'/><rect x='70.78' y='374.20' width='11.97' height='0.90' fill='#f8bcc2'/><rect x='70.78' y='375.10' width='11.97' height='0.70' fill='#f4a2aa'/><rect x='70.78' y='375.80' width='11.97' height='0.70' fill='#f8bcc2'/><rect x='70.78' y='376.50' width='11.97' height='0.90' fill='#f8bcc2'/><rect x='70.78' y='377.40' width='11.97' height='0.50' fill='#f4a2aa'/><rect x='70.78' y='377.90' width='11.97' height='0.70' fill='#f4a2aa'/><rect x='70.78' y='378.60' width='11.97' height='0.70' fill='#f4a2aa'/><rect x='70.78' y='379.30' width='11.97' height='0.70' fill='#f8bcc2'/><rect x='70.78' y='380.00' width='11.97' height='0.90' fill='#f8bcc2'/><rect x='70.78' y='380.90' width='11.97' height='0.50' fill='#f8bcc2'/><rect x='70.78' y='381.40' width='11.97' height='0.90' fill='#f8bcc2'/><rect x='70.78' y='382.30' width='11.97' height='0.50' fill='#f8bcc2'/><rect x='70.78' y='382.80' width='11.97' height='0.90' fill='#f8bcc2'/><rect x='70.78' y='383.70' width='11.97' height='0.50' fill='#f4a2aa'/><rect x='70.78' y='384.20' width='11.97' height='0.70' fill='#f8bcc2'/><rect x='70.78' y='384.90' width='11.97' height='0.90' fill='#f4a2aa'/><rect x='70.78' y='385.80' width='11.97' height='0.70' fill='#f8bcc2'/><rect x='70.78' y='386.50' width='11.97' height='0.50' fill='#f8bcc2'/><rect x='70.78' y='387.00' width='11.97' height='0.90' fill='#f4a2aa'/><rect x='70.78' y='387.90' width='11.97' height='0.50' fill='#f4a2aa'/><rect x='70.78' y='388.40' width='11.97' height='0.90' fill='#f4a2aa'/><rect x='70.78' y='389.30' width='11.97' height='0.50' fill='#f8bcc2'/><rect x='70.78' y='389.80' width='11.97' height='0.50' fill='#f8bcc2'/><rect x='70.78' y='390.30' width='11.97' height='0.90' fill='#f8bcc2'/><rect x='70.78' y='391.20' width='11.97' height='0.70' fill='#f4a2aa'/><rect x='70.78' y='391.90' width='11.97' height='0.50' fill='#f8bcc2'/><rect x='70.78' y='392.40' width='11.97' height='0.70' fill='#f4a2aa'/><rect x='70.78' y='393.10' width='11.97' height='0.70' fill='#f4a2aa'/><rect x='70.78' y='393.80' width='11.97' height='0.70' fill='#f8bcc2'/><rect x='70.78' y='394.50' width='11.97' height='0.70' fill='#f4a2aa'/><rect x='70.78' y='395.20' width='11.97' height='0.90' fill='#f4a2aa'/><rect x='70.78' y='396.10' width='11.97' height='0.70' fill='#f8bcc2'/><rect x='70.78' y='396.80' width='11.97' height='0.50' fill='#f8bcc2'/><rect x='70.78' y='397.30' width='11.97' height='0.50' fill='#f4a2aa'/><rect x='70.78' y='397.80' width='11.97' height='0.90' fill='#f8bcc2'/><rect x='70.78' y='398.70' width='11.97' height='0.90' fill='#f4a2aa'/><rect x='70.78' y='399.60' width='11.97' height='0.70' fill='#f8bcc2'/><rect x='70.78' y='400.30' width='11.97' height='0.50' fill='#f8bcc2'/><rect x='70.78' y='400.80' width='11.97' height='0.50' fill='#f8bcc2'/><rect x='70.78' y='401.30' width='11.97' height='0.50' fill='#f4a2aa'/><rect x='70.78' y='401.80' width='11.97' height='0.70' fill='#f4a2aa'/><rect x='70.78' y='402.50' width='11.97' height='0.90' fill='#f8bcc2'/><rect x='70.78' y='403.40' width='11.97' height='0.90' fill='#f8bcc2'/><rect x='70.78' y='404.30' width='11.97' height='0.50' fill='#f8bcc2'/><rect x='70.78' y='404.80' width='11.97' height='0.70' fill='#f4a2aa'/><rect x='70.78' y='405.50' width='11.97' height='0.90' fill='#f8bcc2'/><rect x='70.78' y='406.40' width='11.97' height='0.70' fill='#f8bcc2'/><rect x='70.78' y='407.10' width='11.97' height='0.90' fill='#f8bcc2'/><rect x='70.78' y='408.00' width='11.97' height='0.90' fill='#f8bcc2'/><rect x='70.78' y='408.90' width='11.97' height='0.70' fill='#f8bcc2'/><rect x='70.78' y='409.60' width='11.97' height='0.70' fill='#f4a2aa'/><rect x='70.78' y='410.30' width='11.97' height='0.50' fill='#f8bcc2'/><rect x='70.78' y='410.80' width='11.97' height='0.50' fill='#f4a2aa'/><rect x='70.78' y='411.30' width='11.97' height='0.50' fill='#f4a2aa'/><rect x='70.78' y='411.80' width='11.97' height='0.90' fill='#f4a2aa'/><rect x='70.78' y='412.70' width='11.97' height='0.50' fill='#f8bcc2'/><rect x='70.78' y='413.20' width='11.97' height='0.70' fill='#f4a2aa'/><rect x='70.78' y='413.90' width='11.97' height='0.90' fill='#f8bcc2'/><rect x='70.78' y='414.80' width='11.97' height='0.70' fill='#f8bcc2'/><rect x='70.78' y='415.50' width='11.97' height='0.70' fill='#f4a2aa'/><rect x='70.78' y='416.20' width='11.97' height='0.50' fill='#f8bcc2'/><rect x='70.78' y='416.70' width='11.97' height='0.90' fill='#f8bcc2'/><rect x='70.78' y='417.60' width='11.97' height='0.70' fill='#f8bcc2'/><rect x='70.78' y='418.30' width='11.97' height='0.70' fill='#f8bcc2'/><rect x='70.78' y='419.00' width='11.97' height='0.70' fill='#f4a2aa'/><rect x='70.78' y='419.70' width='11.97' height='0.90' fill='#f8bcc2'/><rect x='70.78' y='420.60' width='11.97' height='0.70' fill='#f4a2aa'/><rect x='70.78' y='421.30' width='11.97' height='0.70' fill='#f4a2aa'/><rect x='70.78' y='422.00' width='11.97' height='0.50' fill='#f8bcc2'/><rect x='70.78' y='422.50' width='11.97' height='0.50' fill='#f8bcc2'/><rect x='70.78' y='423.00' width='11.97' height='0.70' fill='#f8bcc2'/><rect x='70.78' y='423.70' width='11.97' height='0.90' fill='#f8bcc2'/><rect x='70.78' y='424.60' width='11.97' height='0.50' fill='#f4a2aa'/><rect x='70.78' y='425.10' width='11.97' height='0.70' fill='#f8bcc2'/><rect x='70.78' y='425.80' width='11.97' height='0.90' fill='#f8bcc2'/><rect x='70.78' y='426.70' width='11.97' height='0.90' fill='#f8bcc2'/><rect x='70.78' y='427.60' width='11.97' height='0.70' fill='#f8bcc2'/><rect x='70.78' y='428.30' width='11.97' height='0.50' fill='#f4a2aa'/><rect x='70.78' y='428.80' width='11.97' height='0.50' fill='#f8bcc2'/><rect x='70.78' y='429.30' width='11.97' height='0.90' fill='#f8bcc2'/><rect x='70.78' y='430.20' width='11.97' height='0.70' fill='#f8bcc2'/><rect x='70.78' y='430.90' width='11.97' height='0.90' fill='#f4a2aa'/><rect x='70.78' y='431.80' width='11.97' height='0.90' fill='#f8bcc2'/><rect x='70.78' y='432.70' width='11.97' height='0.50' fill='#f4a2aa'/><rect x='70.78' y='433.20' width='11.97' height='0.70' fill='#f8bcc2'/><rect x='70.78' y='433.90' width='11.97' height='0.90' fill='#f4a2aa'/><rect x='70.78' y='434.80' width='11.97' height='0.90' fill='#f8bcc2'/><rect x='70.78' y='435.70' width='11.97' height='0.40' fill='#f4a2aa'/><rect x='70.63' y='460.70' width='12.27' height='2.30' fill='#f84a58' /><rect x='82.60' y='323.20' width='12.27' height='113.80' fill='#f84a58' /><rect x='82.75' y='339.40' width='11.97' height='0.70' fill='#f84a58'/><rect x='82.75' y='340.10' width='11.97' height='0.70' fill='#f84a58'/><rect x='82.75' y='340.80' width='11.97' height='0.50' fill='#f8606c'/><rect x='82.75' y='341.30' width='11.97' height='0.70' fill='#f8606c'/><rect x='82.75' y='342.00' width='11.97' height='0.70' fill='#f84a58'/><rect x='82.75' y='342.70' width='11.97' height='0.50' fill='#f84a58'/><rect x='82.75' y='343.20' width='11.97' height='0.50' fill='#f84a58'/><rect x='82.75' y='343.70' width='11.97' height='0.70' fill='#f84a58'/><rect x='82.75' y='344.40' width='11.97' height='0.70' fill='#f8606c'/><rect x='82.75' y='345.10' width='11.97' height='0.90' fill='#f84a58'/><rect x='82.75' y='346.00' width='11.97' height='0.70' fill='#f84a58'/><rect x='82.75' y='346.70' width='11.97' height='0.70' fill='#f8606c'/><rect x='82.75' y='347.40' width='11.97' height='0.70' fill='#f84a58'/><rect x='82.75' y='348.10' width='11.97' height='0.70' fill='#f8606c'/><rect x='82.75' y='348.80' width='11.97' height='0.70' fill='#f8606c'/><rect x='82.75' y='349.50' width='11.97' height='0.90' fill='#f84a58'/><rect x='82.75' y='350.40' width='11.97' height='0.50' fill='#f84a58'/><rect x='82.75' y='350.90' width='11.97' height='0.70' fill='#f8606c'/><rect x='82.75' y='351.60' width='11.97' height='0.50' fill='#f8606c'/><rect x='82.75' y='352.10' width='11.97' height='0.90' fill='#f8606c'/><rect x='82.75' y='353.00' width='11.97' height='0.90' fill='#f84a58'/><rect x='82.75' y='353.90' width='11.97' height='0.70' fill='#f84a58'/><rect x='82.75' y='354.60' width='11.97' height='0.90' fill='#f8606c'/><rect x='82.75' y='355.50' width='11.97' height='0.90' fill='#f84a58'/><rect x='82.75' y='356.40' width='11.97' height='0.70' fill='#f84a58'/><rect x='82.75' y='357.10' width='11.97' height='0.70' fill='#f8606c'/><rect x='82.75' y='357.80' width='11.97' height='0.90' fill='#f84a58'/><rect x='82.75' y='358.70' width='11.97' height='0.90' fill='#f84a58'/><rect x='82.75' y='359.60' width='11.97' height='0.50' fill='#f8606c'/><rect x='82.75' y='360.10' width='11.97' height='0.50' fill='#f8606c'/><rect x='82.75' y='360.60' width='11.97' height='0.90' fill='#f84a58'/><rect x='82.75' y='361.50' width='11.97' height='0.70' fill='#f84a58'/><rect x='82.75' y='362.20' width='11.97' height='0.70' fill='#f84a58'/><rect x='82.75' y='362.90' width='11.97' height='0.50' fill='#f84a58'/><rect x='82.75' y='363.40' width='11.97' height='0.50' fill='#f8606c'/><rect x='82.75' y='363.90' width='11.97' height='0.90' fill='#f84a58'/><rect x='82.75' y='364.80' width='11.97' height='0.90' fill='#f84a58'/><rect x='82.75' y='365.70' width='11.97' height='0.90' fill='#f8606c'/><rect x='82.75' y='366.60' width='11.97' height='0.70' fill='#f84a58'/><rect x='82.75' y='367.30' width='11.97' height='0.90' fill='#f8606c'/><rect x='82.75' y='368.20' width='11.97' height='0.50' fill='#f84a58'/><rect x='82.75' y='368.70' width='11.97' height='0.50' fill='#f8606c'/><rect x='82.75' y='369.20' width='11.97' height='0.50' fill='#f84a58'/><rect x='82.75' y='369.70' width='11.97' height='0.70' fill='#f84a58'/><rect x='82.75' y='370.40' width='11.97' height='0.70' fill='#f8606c'/><rect x='82.75' y='371.10' width='11.97' height='0.70' fill='#f84a58'/><rect x='82.75' y='371.80' width='11.97' height='0.50' fill='#f8606c'/><rect x='82.75' y='372.30' width='11.97' height='0.50' fill='#f8606c'/><rect x='82.75' y='372.80' width='11.97' height='0.70' fill='#f84a58'/><rect x='82.75' y='373.50' width='11.97' height='0.90' fill='#f84a58'/><rect x='82.75' y='374.40' width='11.97' height='0.50' fill='#f8606c'/><rect x='82.75' y='374.90' width='11.97' height='0.70' fill='#f84a58'/><rect x='82.75' y='375.60' width='11.97' height='0.90' fill='#f8606c'/><rect x='82.75' y='376.50' width='11.97' height='0.90' fill='#f84a58'/><rect x='82.75' y='377.40' width='11.97' height='0.90' fill='#f84a58'/><rect x='82.75' y='378.30' width='11.97' height='0.70' fill='#f8606c'/><rect x='82.75' y='379.00' width='11.97' height='0.90' fill='#f8606c'/><rect x='82.75' y='379.90' width='11.97' height='0.70' fill='#f84a58'/><rect x='82.75' y='380.60' width='11.97' height='0.50' fill='#f84a58'/><rect x='82.75' y='381.10' width='11.97' height='0.50' fill='#f8606c'/><rect x='82.75' y='381.60' width='11.97' height='0.50' fill='#f8606c'/><rect x='82.75' y='382.10' width='11.97' height='0.90' fill='#f8606c'/><rect x='82.75' y='383.00' width='11.97' height='0.50' fill='#f84a58'/><rect x='82.75' y='383.50' width='11.97' height='0.50' fill='#f84a58'/><rect x='82.75' y='384.00' width='11.97' height='0.50' fill='#f84a58'/><rect x='82.75' y='384.50' width='11.97' height='0.50' fill='#f84a58'/><rect x='82.75' y='385.00' width='11.97' height='0.50' fill='#f8606c'/><rect x='82.75' y='385.50' width='11.97' height='0.70' fill='#f84a58'/><rect x='82.75' y='386.20' width='11.97' height='0.50' fill='#f84a58'/><rect x='82.75' y='386.70' width='11.97' height='0.70' fill='#f8606c'/><rect x='82.75' y='387.40' width='11.97' height='0.70' fill='#f8606c'/><rect x='82.75' y='388.10' width='11.97' height='0.50' fill='#f8606c'/><rect x='82.75' y='388.60' width='11.97' height='0.90' fill='#f8606c'/><rect x='82.75' y='389.50' width='11.97' height='0.50' fill='#f84a58'/><rect x='82.75' y='390.00' width='11.97' height='0.50' fill='#f84a58'/><rect x='82.75' y='390.50' width='11.97' height='0.70' fill='#f84a58'/><rect x='82.75' y='391.20' width='11.97' height='0.90' fill='#f84a58'/><rect x='82.75' y='392.10' width='11.97' height='0.50' fill='#f84a58'/><rect x='82.75' y='392.60' width='11.97' height='0.90' fill='#f84a58'/><rect x='82.75' y='393.50' width='11.97' height='0.50' fill='#f8606c'/><rect x='82.75' y='394.00' width='11.97' height='0.70' fill='#f8606c'/><rect x='82.75' y='394.70' width='11.97' height='0.50' fill='#f84a58'/><rect x='82.75' y='395.20' width='11.97' height='0.50' fill='#f84a58'/><rect x='82.75' y='395.70' width='11.97' height='0.90' fill='#f84a58'/><rect x='82.75' y='396.60' width='11.97' height='0.50' fill='#f84a58'/><rect x='82.75' y='397.10' width='11.97' height='0.70' fill='#f84a58'/><rect x='82.75' y='397.80' width='11.97' height='0.50' fill='#f84a58'/><rect x='82.75' y='398.30' width='11.97' height='0.50' fill='#f8606c'/><rect x='82.75' y='398.80' width='11.97' height='0.70' fill='#f84a58'/><rect x='82.75' y='399.50' width='11.97' height='0.50' fill='#f84a58'/><rect x='82.75' y='400.00' width='11.97' height='0.70' fill='#f84a58'/><rect x='82.75' y='400.70' width='11.97' height='0.50' fill='#f84a58'/><rect x='82.75' y='401.20' width='11.97' height='0.50' fill='#f84a58'/><rect x='82.75' y='401.70' width='11.97' height='0.70' fill='#f84a58'/><rect x='82.75' y='402.40' width='11.97' height='0.70' fill='#f84a58'/><rect x='82.75' y='403.10' width='11.97' height='0.90' fill='#f84a58'/><rect x='82.75' y='404.00' width='11.97' height='0.50' fill='#f84a58'/><rect x='82.75' y='404.50' width='11.97' height='0.90' fill='#f84a58'/><rect x='82.75' y='405.40' width='11.97' height='0.70' fill='#f84a58'/><rect x='82.75' y='406.10' width='11.97' height='0.70' fill='#f84a58'/><rect x='82.75' y='406.80' width='11.97' height='0.70' fill='#f84a58'/><rect x='82.75' y='407.50' width='11.97' height='0.50' fill='#f84a58'/><rect x='82.75' y='408.00' width='11.97' height='0.70' fill='#f84a58'/><rect x='82.75' y='408.70' width='11.97' height='0.70' fill='#f8606c'/><rect x='82.75' y='409.40' width='11.97' height='0.50' fill='#f84a58'/><rect x='82.75' y='409.90' width='11.97' height='0.70' fill='#f84a58'/><rect x='82.75' y='410.60' width='11.97' height='0.50' fill='#f8606c'/><rect x='82.75' y='411.10' width='11.97' height='0.50' fill='#f84a58'/><rect x='82.75' y='411.60' width='11.97' height='0.90' fill='#f84a58'/><rect x='82.75' y='412.50' width='11.97' height='0.70' fill='#f8606c'/><rect x='82.75' y='413.20' width='11.97' height='0.90' fill='#f84a58'/><rect x='82.75' y='414.10' width='11.97' height='0.90' fill='#f84a58'/><rect x='82.75' y='415.00' width='11.97' height='0.50' fill='#f84a58'/><rect x='82.75' y='415.50' width='11.97' height='0.50' fill='#f84a58'/><rect x='82.75' y='416.00' width='11.97' height='0.50' fill='#f8606c'/><rect x='82.75' y='416.50' width='11.97' height='0.70' fill='#f84a58'/><rect x='82.75' y='417.20' width='11.97' height='0.50' fill='#f84a58'/><rect x='82.75' y='417.70' width='11.97' height='0.50' fill='#f84a58'/><rect x='82.75' y='418.20' width='11.97' height='0.70' fill='#f84a58'/><rect x='82.75' y='418.90' width='11.97' height='0.90' fill='#f84a58'/><rect x='82.75' y='419.80' width='11.97' height='0.70' fill='#f8606c'/><rect x='82.75' y='420.50' width='11.97' height='0.90' fill='#f84a58'/><rect x='82.75' y='421.40' width='11.97' height='0.50' fill='#f84a58'/><rect x='82.75' y='421.90' width='11.97' height='0.50' fill='#f84a58'/><rect x='82.75' y='422.40' width='11.97' height='0.90' fill='#f84a58'/><rect x='82.75' y='423.30' width='11.97' height='0.70' fill='#f8606c'/><rect x='82.75' y='424.00' width='11.97' height='0.50' fill='#f8606c'/><rect x='82.75' y='424.50' width='11.97' height='0.90' fill='#f8606c'/><rect x='82.75' y='425.40' width='11.97' height='0.70' fill='#f8606c'/><rect x='82.75' y='426.10' width='11.97' height='0.50' fill='#f84a58'/><rect x='82.75' y='426.60' width='11.97' height='0.50' fill='#f8606c'/><rect x='82.75' y='427.10' width='11.97' height='0.90' fill='#f84a58'/><rect x='82.75' y='428.00' width='11.97' height='0.90' fill='#f8606c'/><rect x='82.75' y='428.90' width='11.97' height='0.70' fill='#f8606c'/><rect x='82.75' y='429.60' width='11.97' height='0.90' fill='#f84a58'/><rect x='82.75' y='430.50' width='11.97' height='0.90' fill='#f84a58'/><rect x='82.75' y='431.40' width='11.97' height='0.90' fill='#f84a58'/><rect x='82.75' y='432.30' width='11.97' height='0.90' fill='#f8606c'/><rect x='82.75' y='433.20' width='11.97' height='0.70' fill='#f84a58'/><rect x='82.75' y='433.90' width='11.97' height='0.70' fill='#f84a58'/><rect x='82.75' y='434.60' width='11.97' height='0.50' fill='#f8606c'/><rect x='82.75' y='435.10' width='11.97' height='0.90' fill='#f84a58'/><rect x='82.75' y='436.00' width='11.97' height='0.70' fill='#f8606c'/><rect x='82.75' y='436.70' width='11.97' height='0.30' fill='#f84a58'/><rect x='82.60' y='463.00' width='12.27' height='17.50' fill='#f84a58' /><rect x='22.90' y='437.00' width='71.82' height='43.50' fill='none' stroke='#555' stroke-width='0.5' stroke-dasharray='1,1'/><text x='27.88' y='487.40' font-size='7.0' fill='#000' text-anchor='middle' >D0</text><text x='39.86' y='487.40' font-size='7.0' fill='#000' text-anchor='middle' >D1</text><text x='51.83' y='487.40' font-size='7.0' fill='#000' text-anchor='middle' >D3</text><text x='63.80' y='487.40' font-size='7.0' fill='#000' text-anchor='middle' >D5</text><text x='75.77' y='487.40' font-size='7.0' fill='#000' text-anchor='middle' >D7</text><text x='88.74' y='487.40' font-size='7.0' fill='#000' text-anchor='middle' >iPSC</text><polygon points='97.00,458.15 102.60,458.15 102.60,455.70 106.80,460.40 102.60,465.10 102.60,462.65 97.00,462.65' fill='#000'/><text x='109.20' y='310.80' font-size='6.6' fill='#000' text-anchor='start' >Marked by R-loop</text><rect x='109.20' y='314.20' width='35.70' height='3.90' fill='url(#gg)' /><text x='110.00' y='322.60' font-size='5.6' fill='#000' text-anchor='middle' >0</text><text x='144.20' y='322.60' font-size='5.6' fill='#000' text-anchor='middle' >1</text><rect x='108.40' y='323.20' width='71.70' height='157.30' fill='#d4d4d9' /><rect x='108.40' y='323.20' width='11.95' height='7.60' fill='#f84a58' /><rect x='120.35' y='331.50' width='11.95' height='42.70' fill='#f84a58' /><rect x='132.30' y='375.20' width='11.95' height='29.80' fill='#f84a58' /><rect x='144.25' y='406.00' width='11.95' height='4.00' fill='#f84a58' /><rect x='156.20' y='411.00' width='11.95' height='9.40' fill='#f84a58' /><rect x='168.15' y='421.90' width='11.95' height='58.60' fill='#f84a58' /><rect x='108.40' y='330.70' width='71.70' height='0.80' fill='#f4f4f6' /><rect x='108.40' y='374.30' width='71.70' height='0.80' fill='#f4f4f6' /><rect x='108.40' y='405.10' width='71.70' height='0.80' fill='#f4f4f6' /><rect x='108.40' y='410.10' width='71.70' height='0.80' fill='#f4f4f6' /><rect x='108.40' y='420.80' width='71.70' height='0.80' fill='#f4f4f6' /><text x='128.00' y='329.30' font-size='7.2' fill='#000' text-anchor='middle' >2%</text><text x='142.20' y='355.00' font-size='7.2' fill='#000' text-anchor='middle' >29%</text><text x='155.00' y='393.00' font-size='7.2' fill='#000' text-anchor='middle' >21%</text><text x='165.80' y='410.30' font-size='7.2' fill='#000' text-anchor='middle' >1%</text><text x='174.50' y='418.80' font-size='7.2' fill='#000' text-anchor='middle' >6%</text><text x='159.10' y='458.80' font-size='7.2' fill='#000' text-anchor='middle' >41%</text><text x='113.38' y='487.40' font-size='7.0' fill='#000' text-anchor='middle' >D0</text><text x='125.33' y='487.40' font-size='7.0' fill='#000' text-anchor='middle' >D1</text><text x='137.28' y='487.40' font-size='7.0' fill='#000' text-anchor='middle' >D3</text><text x='149.22' y='487.40' font-size='7.0' fill='#000' text-anchor='middle' >D5</text><text x='161.18' y='487.40' font-size='7.0' fill='#000' text-anchor='middle' >D7</text><text x='174.12' y='487.40' font-size='7.0' fill='#000' text-anchor='middle' >iPSC</text><text x='189.20' y='310.80' font-size='6.2' fill='#000' text-anchor='start' >Zscore (Expression)</text><rect x='188.20' y='314.20' width='34.90' height='3.90' fill='url(#zg)' /><text x='188.80' y='322.60' font-size='5.6' fill='#000' text-anchor='middle' >-2</text><text x='197.00' y='322.60' font-size='5.6' fill='#000' text-anchor='middle' >-1</text><text x='205.80' y='322.60' font-size='5.6' fill='#000' text-anchor='middle' >0</text><text x='214.20' y='322.60' font-size='5.6' fill='#000' text-anchor='middle' >1</text><text x='222.60' y='322.60' font-size='5.6' fill='#000' text-anchor='middle' >2</text><rect x='188.20' y='323.20' width='11.92' height='1.10' fill='#c8a8d8'/><rect x='188.20' y='324.30' width='11.92' height='1.10' fill='#e8a0b4'/><rect x='188.20' y='325.40' width='11.92' height='0.90' fill='#b8a8e0'/><rect x='188.20' y='326.30' width='11.92' height='1.10' fill='#b8a8e0'/><rect x='188.20' y='327.40' width='11.92' height='0.50' fill='#b8a8e0'/><rect x='188.20' y='327.90' width='11.92' height='0.90' fill='#b4acdc'/><rect x='188.20' y='328.80' width='11.92' height='0.50' fill='#e48aa8'/><rect x='188.20' y='329.30' width='11.92' height='1.10' fill='#acb0e6'/><rect x='188.20' y='330.40' width='11.92' height='0.50' fill='#b4acdc'/><rect x='188.20' y='330.90' width='11.92' height='0.50' fill='#d890b8'/><rect x='188.20' y='331.40' width='11.92' height='0.90' fill='#acb0e6'/><rect x='188.20' y='332.30' width='11.92' height='0.70' fill='#eab0c4'/><rect x='188.20' y='333.00' width='11.92' height='0.90' fill='#e48aa8'/><rect x='188.20' y='333.90' width='11.92' height='0.90' fill='#c8a8d8'/><rect x='188.20' y='334.80' width='11.92' height='0.70' fill='#d890b8'/><rect x='188.20' y='335.50' width='11.92' height='0.70' fill='#b4acdc'/><rect x='188.20' y='336.20' width='11.92' height='0.70' fill='#e0a0c0'/><rect x='188.20' y='336.90' width='11.92' height='0.70' fill='#e8a0b4'/><rect x='188.20' y='337.60' width='11.92' height='0.90' fill='#c8a8d8'/><rect x='188.20' y='338.50' width='11.92' height='0.70' fill='#c0a4d8'/><rect x='188.20' y='339.20' width='11.92' height='0.50' fill='#b8a8e0'/><rect x='188.20' y='339.70' width='11.92' height='0.90' fill='#c8a8d8'/><rect x='188.20' y='340.60' width='11.92' height='0.50' fill='#e48aa8'/><rect x='188.20' y='341.10' width='11.92' height='1.10' fill='#c0a4d8'/><rect x='188.20' y='342.20' width='11.92' height='0.90' fill='#eab0c4'/><rect x='188.20' y='343.10' width='11.92' height='0.70' fill='#e0a0c0'/><rect x='188.20' y='343.80' width='11.92' height='1.10' fill='#e48aa8'/><rect x='188.20' y='344.90' width='11.92' height='0.50' fill='#e48aa8'/><rect x='188.20' y='345.40' width='11.92' height='0.90' fill='#e48aa8'/><rect x='188.20' y='346.30' width='11.92' height='0.90' fill='#b8a8e0'/><rect x='188.20' y='347.20' width='11.92' height='0.70' fill='#e48aa8'/><rect x='188.20' y='347.90' width='11.92' height='1.10' fill='#c0a4d8'/><rect x='188.20' y='349.00' width='11.92' height='0.50' fill='#e8a0b4'/><rect x='188.20' y='349.50' width='11.92' height='0.50' fill='#e0a0c0'/><rect x='188.20' y='350.00' width='11.92' height='0.90' fill='#e48aa8'/><rect x='188.20' y='350.90' width='11.92' height='0.90' fill='#c8a8d8'/><rect x='188.20' y='351.80' width='11.92' height='0.90' fill='#acb0e6'/><rect x='188.20' y='352.70' width='11.92' height='0.90' fill='#c8a8d8'/><rect x='188.20' y='353.60' width='11.92' height='0.70' fill='#e8a0b4'/><rect x='188.20' y='354.30' width='11.92' height='0.70' fill='#b8a8e0'/><rect x='188.20' y='355.00' width='11.92' height='0.70' fill='#c0a4d8'/><rect x='188.20' y='355.70' width='11.92' height='1.10' fill='#b8a8e0'/><rect x='188.20' y='356.80' width='11.92' height='0.50' fill='#b4acdc'/><rect x='188.20' y='357.30' width='11.92' height='0.90' fill='#b4acdc'/><rect x='188.20' y='358.20' width='11.92' height='1.10' fill='#b4acdc'/><rect x='188.20' y='359.30' width='11.92' height='1.10' fill='#e0a0c0'/><rect x='188.20' y='360.40' width='11.92' height='0.50' fill='#e0a0c0'/><rect x='188.20' y='360.90' width='11.92' height='1.10' fill='#e8a0b4'/><rect x='188.20' y='362.00' width='11.92' height='0.50' fill='#b8a8e0'/><rect x='188.20' y='362.50' width='11.92' height='0.50' fill='#acb0e6'/><rect x='188.20' y='363.00' width='11.92' height='0.70' fill='#b4acdc'/><rect x='188.20' y='363.70' width='11.92' height='1.10' fill='#acb0e6'/><rect x='188.20' y='364.80' width='11.92' height='0.90' fill='#e0a0c0'/><rect x='188.20' y='365.70' width='11.92' height='1.10' fill='#b8a8e0'/><rect x='188.20' y='366.80' width='11.92' height='1.10' fill='#c8a8d8'/><rect x='188.20' y='367.90' width='11.92' height='0.50' fill='#c8a8d8'/><rect x='188.20' y='368.40' width='11.92' height='0.70' fill='#e0a0c0'/><rect x='188.20' y='369.10' width='11.92' height='0.90' fill='#e0a0c0'/><rect x='188.20' y='370.00' width='11.92' height='0.50' fill='#eab0c4'/><rect x='188.20' y='370.50' width='11.92' height='0.50' fill='#e48aa8'/><rect x='188.20' y='371.00' width='11.92' height='1.10' fill='#b4acdc'/><rect x='188.20' y='372.10' width='11.92' height='0.90' fill='#e8a0b4'/><rect x='188.20' y='373.00' width='11.92' height='0.50' fill='#b8a8e0'/><rect x='188.20' y='373.50' width='11.92' height='0.70' fill='#e8a0b4'/><rect x='188.20' y='374.20' width='11.92' height='0.70' fill='#c0a4d8'/><rect x='188.20' y='374.90' width='11.92' height='0.70' fill='#c0a4d8'/><rect x='188.20' y='375.60' width='11.92' height='0.70' fill='#e48aa8'/><rect x='188.20' y='376.30' width='11.92' height='1.10' fill='#b4acdc'/><rect x='188.20' y='377.40' width='11.92' height='0.50' fill='#c8a8d8'/><rect x='188.20' y='377.90' width='11.92' height='0.70' fill='#c0a4d8'/><rect x='188.20' y='378.60' width='11.92' height='0.70' fill='#b4acdc'/><rect x='188.20' y='379.30' width='11.92' height='0.50' fill='#acb0e6'/><rect x='188.20' y='379.80' width='11.92' height='0.70' fill='#e0a0c0'/><rect x='188.20' y='380.50' width='11.92' height='0.50' fill='#acb0e6'/><rect x='188.20' y='381.00' width='11.92' height='0.90' fill='#b8a8e0'/><rect x='188.20' y='381.90' width='11.92' height='0.50' fill='#e0a0c0'/><rect x='188.20' y='382.40' width='11.92' height='0.50' fill='#b8a8e0'/><rect x='188.20' y='382.90' width='11.92' height='0.90' fill='#e48aa8'/><rect x='188.20' y='383.80' width='11.92' height='0.50' fill='#c8a8d8'/><rect x='188.20' y='384.30' width='11.92' height='0.50' fill='#e8a0b4'/><rect x='188.20' y='384.80' width='11.92' height='0.50' fill='#e0a0c0'/><rect x='188.20' y='385.30' width='11.92' height='0.90' fill='#acb0e6'/><rect x='188.20' y='386.20' width='11.92' height='0.50' fill='#acb0e6'/><rect x='188.20' y='386.70' width='11.92' height='0.90' fill='#d890b8'/><rect x='188.20' y='387.60' width='11.92' height='0.90' fill='#eab0c4'/><rect x='188.20' y='388.50' width='11.92' height='0.90' fill='#eab0c4'/><rect x='188.20' y='389.40' width='11.92' height='0.90' fill='#b4acdc'/><rect x='188.20' y='390.30' width='11.92' height='1.10' fill='#b4acdc'/><rect x='188.20' y='391.40' width='11.92' height='0.50' fill='#b8a8e0'/><rect x='188.20' y='391.90' width='11.92' height='1.10' fill='#b8a8e0'/><rect x='188.20' y='393.00' width='11.92' height='0.90' fill='#b8a8e0'/><rect x='188.20' y='393.90' width='11.92' height='0.70' fill='#b8a8e0'/><rect x='188.20' y='394.60' width='11.92' height='0.90' fill='#e0a0c0'/><rect x='188.20' y='395.50' width='11.92' height='0.70' fill='#e0a0c0'/><rect x='188.20' y='396.20' width='11.92' height='0.50' fill='#e0a0c0'/><rect x='188.20' y='396.70' width='11.92' height='1.10' fill='#acb0e6'/><rect x='188.20' y='397.80' width='11.92' height='1.10' fill='#b4acdc'/><rect x='188.20' y='398.90' width='11.92' height='0.90' fill='#acb0e6'/><rect x='188.20' y='399.80' width='11.92' height='0.90' fill='#acb0e6'/><rect x='188.20' y='400.70' width='11.92' height='1.10' fill='#e0a0c0'/><rect x='188.20' y='401.80' width='11.92' height='1.10' fill='#b4acdc'/><rect x='188.20' y='402.90' width='11.92' height='0.50' fill='#c0a4d8'/><rect x='188.20' y='403.40' width='11.92' height='0.50' fill='#c8a8d8'/><rect x='188.20' y='403.90' width='11.92' height='0.50' fill='#b8a8e0'/><rect x='188.20' y='404.40' width='11.92' height='0.90' fill='#eab0c4'/><rect x='188.20' y='405.30' width='11.92' height='1.10' fill='#b4acdc'/><rect x='188.20' y='406.40' width='11.92' height='0.70' fill='#e8a0b4'/><rect x='188.20' y='407.10' width='11.92' height='1.10' fill='#e48aa8'/><rect x='188.20' y='408.20' width='11.92' height='0.50' fill='#eab0c4'/><rect x='188.20' y='408.70' width='11.92' height='0.70' fill='#c8a8d8'/><rect x='188.20' y='409.40' width='11.92' height='0.90' fill='#d890b8'/><rect x='188.20' y='410.30' width='11.92' height='0.90' fill='#acb0e6'/><rect x='188.20' y='411.20' width='11.92' height='0.90' fill='#acb0e6'/><rect x='188.20' y='412.10' width='11.92' height='0.70' fill='#e48aa8'/><rect x='188.20' y='412.80' width='11.92' height='0.70' fill='#acb0e6'/><rect x='188.20' y='413.50' width='11.92' height='0.90' fill='#c0a4d8'/><rect x='188.20' y='414.40' width='11.92' height='0.70' fill='#e8a0b4'/><rect x='188.20' y='415.10' width='11.92' height='0.90' fill='#b8a8e0'/><rect x='188.20' y='416.00' width='11.92' height='0.70' fill='#b8a8e0'/><rect x='188.20' y='416.70' width='11.92' height='0.70' fill='#acb0e6'/><rect x='188.20' y='417.40' width='11.92' height='0.90' fill='#c8a8d8'/><rect x='188.20' y='418.30' width='11.92' height='0.90' fill='#e0a0c0'/><rect x='188.20' y='419.20' width='11.92' height='0.90' fill='#d890b8'/><rect x='188.20' y='420.10' width='11.92' height='1.10' fill='#d890b8'/><rect x='188.20' y='421.20' width='11.92' height='1.10' fill='#b4acdc'/><rect x='188.20' y='422.30' width='11.92' height='0.90' fill='#acb0e6'/><rect x='188.20' y='423.20' width='11.92' height='0.90' fill='#c8a8d8'/><rect x='188.20' y='424.10' width='11.92' height='0.50' fill='#c8a8d8'/><rect x='188.20' y='424.60' width='11.92' height='1.10' fill='#b4acdc'/><rect x='188.20' y='425.70' width='11.92' height='0.70' fill='#b8a8e0'/><rect x='188.20' y='426.40' width='11.92' height='1.10' fill='#c0a4d8'/><rect x='188.20' y='427.50' width='11.92' height='0.50' fill='#acb0e6'/><rect x='188.20' y='428.00' width='11.92' height='1.10' fill='#acb0e6'/><rect x='188.20' y='429.10' width='11.92' height='0.90' fill='#c8a8d8'/><rect x='188.20' y='430.00' width='11.92' height='1.10' fill='#d890b8'/><rect x='188.20' y='431.10' width='11.92' height='0.70' fill='#c0a4d8'/><rect x='188.20' y='431.80' width='11.92' height='0.50' fill='#c8a8d8'/><rect x='188.20' y='432.30' width='11.92' height='0.50' fill='#e48aa8'/><rect x='188.20' y='432.80' width='11.92' height='0.70' fill='#e8a0b4'/><rect x='188.20' y='433.50' width='11.92' height='0.90' fill='#e48aa8'/><rect x='188.20' y='434.40' width='11.92' height='1.10' fill='#c8a8d8'/><rect x='188.20' y='435.50' width='11.92' height='0.50' fill='#c0a4d8'/><rect x='188.20' y='436.00' width='11.92' height='0.90' fill='#c8a8d8'/><rect x='188.20' y='436.90' width='11.92' height='0.70' fill='#acb0e6'/><rect x='188.20' y='437.60' width='11.92' height='1.10' fill='#b8a8e0'/><rect x='188.20' y='438.70' width='11.92' height='0.90' fill='#c0a4d8'/><rect x='188.20' y='439.60' width='11.92' height='0.90' fill='#b8a8e0'/><rect x='188.20' y='440.50' width='11.92' height='0.50' fill='#d890b8'/><rect x='188.20' y='441.00' width='11.92' height='0.90' fill='#b8a8e0'/><rect x='188.20' y='441.90' width='11.92' height='0.70' fill='#d890b8'/><rect x='188.20' y='442.60' width='11.92' height='0.70' fill='#c8a8d8'/><rect x='188.20' y='443.30' width='11.92' height='1.10' fill='#e8a0b4'/><rect x='188.20' y='444.40' width='11.92' height='0.50' fill='#acb0e6'/><rect x='188.20' y='444.90' width='11.92' height='1.10' fill='#acb0e6'/><rect x='188.20' y='446.00' width='11.92' height='0.70' fill='#d890b8'/><rect x='188.20' y='446.70' width='11.92' height='1.10' fill='#b4acdc'/><rect x='188.20' y='447.80' width='11.92' height='0.70' fill='#c8a8d8'/><rect x='188.20' y='448.50' width='11.92' height='0.90' fill='#acb0e6'/><rect x='188.20' y='449.40' width='11.92' height='0.90' fill='#c0a4d8'/><rect x='188.20' y='450.30' width='11.92' height='1.10' fill='#c8a8d8'/><rect x='188.20' y='451.40' width='11.92' height='0.50' fill='#c0a4d8'/><rect x='188.20' y='451.90' width='11.92' height='0.90' fill='#eab0c4'/><rect x='188.20' y='452.80' width='11.92' height='0.90' fill='#c8a8d8'/><rect x='188.20' y='453.70' width='11.92' height='0.50' fill='#c0a4d8'/><rect x='188.20' y='454.20' width='11.92' height='0.70' fill='#c8a8d8'/><rect x='188.20' y='454.90' width='11.92' height='0.50' fill='#e48aa8'/><rect x='188.20' y='455.40' width='11.92' height='0.90' fill='#acb0e6'/><rect x='188.20' y='456.30' width='11.92' height='0.90' fill='#b8a8e0'/><rect x='188.20' y='457.20' width='11.92' height='0.50' fill='#e0a0c0'/><rect x='188.20' y='457.70' width='11.92' height='0.90' fill='#e0a0c0'/><rect x='188.20' y='458.60' width='11.92' height='0.70' fill='#acb0e6'/><rect x='188.20' y='459.30' width='11.92' height='1.10' fill='#e8a0b4'/><rect x='188.20' y='460.40' width='11.92' height='0.70' fill='#b4acdc'/><rect x='188.20' y='461.10' width='11.92' height='0.70' fill='#b4acdc'/><rect x='188.20' y='461.80' width='11.92' height='0.50' fill='#b4acdc'/><rect x='188.20' y='462.30' width='11.92' height='0.90' fill='#e8a0b4'/><rect x='188.20' y='463.20' width='11.92' height='0.50' fill='#c8a8d8'/><rect x='188.20' y='463.70' width='11.92' height='0.50' fill='#c0a4d8'/><rect x='188.20' y='464.20' width='11.92' height='1.10' fill='#e8a0b4'/><rect x='188.20' y='465.30' width='11.92' height='1.10' fill='#b8a8e0'/><rect x='188.20' y='466.40' width='11.92' height='1.10' fill='#acb0e6'/><rect x='188.20' y='467.50' width='11.92' height='1.10' fill='#e8a0b4'/><rect x='188.20' y='468.60' width='11.92' height='0.50' fill='#eab0c4'/><rect x='188.20' y='469.10' width='11.92' height='1.10' fill='#c8a8d8'/><rect x='188.20' y='470.20' width='11.92' height='0.90' fill='#c0a4d8'/><rect x='188.20' y='471.10' width='11.92' height='1.10' fill='#b8a8e0'/><rect x='188.20' y='472.20' width='11.92' height='0.70' fill='#b8a8e0'/><rect x='188.20' y='472.90' width='11.92' height='0.50' fill='#c0a4d8'/><rect x='188.20' y='473.40' width='11.92' height='0.50' fill='#c8a8d8'/><rect x='188.20' y='473.90' width='11.92' height='0.70' fill='#d890b8'/><rect x='188.20' y='474.60' width='11.92' height='0.70' fill='#eab0c4'/><rect x='188.20' y='475.30' width='11.92' height='0.90' fill='#b4acdc'/><rect x='188.20' y='476.20' width='11.92' height='0.70' fill='#eab0c4'/><rect x='188.20' y='476.90' width='11.92' height='1.10' fill='#e0a0c0'/><rect x='188.20' y='478.00' width='11.92' height='0.90' fill='#d890b8'/><rect x='188.20' y='478.90' width='11.92' height='1.10' fill='#eab0c4'/><rect x='188.20' y='480.00' width='11.92' height='0.50' fill='#c8a8d8'/><rect x='200.12' y='323.20' width='11.92' height='0.50' fill='#eab0c4'/><rect x='200.12' y='323.70' width='11.92' height='0.90' fill='#e0a0c0'/><rect x='200.12' y='324.60' width='11.92' height='0.50' fill='#e48aa8'/><rect x='200.12' y='325.10' width='11.92' height='1.10' fill='#b8a8e0'/><rect x='200.12' y='326.20' width='11.92' height='1.10' fill='#e0a0c0'/><rect x='200.12' y='327.30' width='11.92' height='0.50' fill='#d890b8'/><rect x='200.12' y='327.80' width='11.92' height='0.50' fill='#b4acdc'/><rect x='200.12' y='328.30' width='11.92' height='1.10' fill='#b4acdc'/><rect x='200.12' y='329.40' width='11.92' height='0.50' fill='#d890b8'/><rect x='200.12' y='329.90' width='11.92' height='0.70' fill='#e8a0b4'/><rect x='200.12' y='330.60' width='11.92' height='0.50' fill='#e0a0c0'/><rect x='200.12' y='331.10' width='11.92' height='0.50' fill='#e8a0b4'/><rect x='200.12' y='331.60' width='11.92' height='0.90' fill='#c0a4d8'/><rect x='200.12' y='332.50' width='11.92' height='0.90' fill='#e0a0c0'/><rect x='200.12' y='333.40' width='11.92' height='0.90' fill='#e48aa8'/><rect x='200.12' y='334.30' width='11.92' height='0.50' fill='#b4acdc'/><rect x='200.12' y='334.80' width='11.92' height='0.50' fill='#c8a8d8'/><rect x='200.12' y='335.30' width='11.92' height='1.10' fill='#e0a0c0'/><rect x='200.12' y='336.40' width='11.92' height='1.10' fill='#acb0e6'/><rect x='200.12' y='337.50' width='11.92' height='1.10' fill='#b4acdc'/><rect x='200.12' y='338.60' width='11.92' height='0.50' fill='#d890b8'/><rect x='200.12' y='339.10' width='11.92' height='0.70' fill='#b8a8e0'/><rect x='200.12' y='339.80' width='11.92' height='1.10' fill='#e0a0c0'/><rect x='200.12' y='340.90' width='11.92' height='0.50' fill='#e0a0c0'/><rect x='200.12' y='341.40' width='11.92' height='0.70' fill='#c0a4d8'/><rect x='200.12' y='342.10' width='11.92' height='0.70' fill='#acb0e6'/><rect x='200.12' y='342.80' width='11.92' height='0.50' fill='#e8a0b4'/><rect x='200.12' y='343.30' width='11.92' height='0.50' fill='#e48aa8'/><rect x='200.12' y='343.80' width='11.92' height='1.10' fill='#c0a4d8'/><rect x='200.12' y='344.90' width='11.92' height='0.50' fill='#b8a8e0'/><rect x='200.12' y='345.40' width='11.92' height='0.50' fill='#e48aa8'/><rect x='200.12' y='345.90' width='11.92' height='0.50' fill='#eab0c4'/><rect x='200.12' y='346.40' width='11.92' height='0.70' fill='#c8a8d8'/><rect x='200.12' y='347.10' width='11.92' height='0.50' fill='#e48aa8'/><rect x='200.12' y='347.60' width='11.92' height='1.10' fill='#acb0e6'/><rect x='200.12' y='348.70' width='11.92' height='0.70' fill='#b8a8e0'/><rect x='200.12' y='349.40' width='11.92' height='0.90' fill='#acb0e6'/><rect x='200.12' y='350.30' width='11.92' height='1.10' fill='#c8a8d8'/><rect x='200.12' y='351.40' width='11.92' height='0.90' fill='#b4acdc'/><rect x='200.12' y='352.30' width='11.92' height='0.90' fill='#e0a0c0'/><rect x='200.12' y='353.20' width='11.92' height='0.90' fill='#b8a8e0'/><rect x='200.12' y='354.10' width='11.92' height='0.70' fill='#c0a4d8'/><rect x='200.12' y='354.80' width='11.92' height='1.10' fill='#acb0e6'/><rect x='200.12' y='355.90' width='11.92' height='1.10' fill='#d890b8'/><rect x='200.12' y='357.00' width='11.92' height='0.70' fill='#c0a4d8'/><rect x='200.12' y='357.70' width='11.92' height='0.50' fill='#eab0c4'/><rect x='200.12' y='358.20' width='11.92' height='1.10' fill='#e0a0c0'/><rect x='200.12' y='359.30' width='11.92' height='0.90' fill='#b4acdc'/><rect x='200.12' y='360.20' width='11.92' height='0.70' fill='#e48aa8'/><rect x='200.12' y='360.90' width='11.92' height='1.10' fill='#e0a0c0'/><rect x='200.12' y='362.00' width='11.92' height='1.10' fill='#acb0e6'/><rect x='200.12' y='363.10' width='11.92' height='0.70' fill='#e0a0c0'/><rect x='200.12' y='363.80' width='11.92' height='1.10' fill='#acb0e6'/><rect x='200.12' y='364.90' width='11.92' height='0.90' fill='#b8a8e0'/><rect x='200.12' y='365.80' width='11.92' height='1.10' fill='#b8a8e0'/><rect x='200.12' y='366.90' width='11.92' height='0.90' fill='#acb0e6'/><rect x='200.12' y='367.80' width='11.92' height='1.10' fill='#c0a4d8'/><rect x='200.12' y='368.90' width='11.92' height='0.90' fill='#b4acdc'/><rect x='200.12' y='369.80' width='11.92' height='0.70' fill='#e8a0b4'/><rect x='200.12' y='370.50' width='11.92' height='0.50' fill='#eab0c4'/><rect x='200.12' y='371.00' width='11.92' height='0.90' fill='#c0a4d8'/><rect x='200.12' y='371.90' width='11.92' height='1.10' fill='#acb0e6'/><rect x='200.12' y='373.00' width='11.92' height='0.70' fill='#d890b8'/><rect x='200.12' y='373.70' width='11.92' height='0.90' fill='#c0a4d8'/><rect x='200.12' y='374.60' width='11.92' height='1.10' fill='#acb0e6'/><rect x='200.12' y='375.70' width='11.92' height='0.90' fill='#c0a4d8'/><rect x='200.12' y='376.60' width='11.92' height='0.90' fill='#b8a8e0'/><rect x='200.12' y='377.50' width='11.92' height='0.50' fill='#e48aa8'/><rect x='200.12' y='378.00' width='11.92' height='1.10' fill='#acb0e6'/><rect x='200.12' y='379.10' width='11.92' height='0.90' fill='#c0a4d8'/><rect x='200.12' y='380.00' width='11.92' height='1.10' fill='#d890b8'/><rect x='200.12' y='381.10' width='11.92' height='0.70' fill='#e0a0c0'/><rect x='200.12' y='381.80' width='11.92' height='0.90' fill='#e8a0b4'/><rect x='200.12' y='382.70' width='11.92' height='1.10' fill='#e0a0c0'/><rect x='200.12' y='383.80' width='11.92' height='0.50' fill='#c8a8d8'/><rect x='200.12' y='384.30' width='11.92' height='1.10' fill='#b8a8e0'/><rect x='200.12' y='385.40' width='11.92' height='1.10' fill='#b8a8e0'/><rect x='200.12' y='386.50' width='11.92' height='0.90' fill='#e8a0b4'/><rect x='200.12' y='387.40' width='11.92' height='0.50' fill='#b4acdc'/><rect x='200.12' y='387.90' width='11.92' height='1.10' fill='#e8a0b4'/><rect x='200.12' y='389.00' width='11.92' height='0.90' fill='#acb0e6'/><rect x='200.12' y='389.90' width='11.92' height='0.70' fill='#eab0c4'/><rect x='200.12' y='390.60' width='11.92' height='0.90' fill='#e48aa8'/><rect x='200.12' y='391.50' width='11.92' height='0.50' fill='#b8a8e0'/><rect x='200.12' y='392.00' width='11.92' height='0.90' fill='#c8a8d8'/><rect x='200.12' y='392.90' width='11.92' height='0.50' fill='#eab0c4'/><rect x='200.12' y='393.40' width='11.92' height='0.50' fill='#c0a4d8'/><rect x='200.12' y='393.90' width='11.92' height='1.10' fill='#b8a8e0'/><rect x='200.12' y='395.00' width='11.92' height='1.10' fill='#eab0c4'/><rect x='200.12' y='396.10' width='11.92' height='1.10' fill='#d890b8'/><rect x='200.12' y='397.20' width='11.92' height='1.10' fill='#e8a0b4'/><rect x='200.12' y='398.30' width='11.92' height='0.70' fill='#b8a8e0'/><rect x='200.12' y='399.00' width='11.92' height='1.10' fill='#acb0e6'/><rect x='200.12' y='400.10' width='11.92' height='0.50' fill='#e8a0b4'/><rect x='200.12' y='400.60' width='11.92' height='0.50' fill='#c0a4d8'/><rect x='200.12' y='401.10' width='11.92' height='0.70' fill='#b8a8e0'/><rect x='200.12' y='401.80' width='11.92' height='1.10' fill='#b8a8e0'/><rect x='200.12' y='402.90' width='11.92' height='1.10' fill='#c0a4d8'/><rect x='200.12' y='404.00' width='11.92' height='0.70' fill='#c0a4d8'/><rect x='200.12' y='404.70' width='11.92' height='0.70' fill='#e0a0c0'/><rect x='200.12' y='405.40' width='11.92' height='0.70' fill='#b4acdc'/><rect x='200.12' y='406.10' width='11.92' height='0.70' fill='#e8a0b4'/><rect x='200.12' y='406.80' width='11.92' height='0.90' fill='#e8a0b4'/><rect x='200.12' y='407.70' width='11.92' height='0.70' fill='#e48aa8'/><rect x='200.12' y='408.40' width='11.92' height='0.90' fill='#e8a0b4'/><rect x='200.12' y='409.30' width='11.92' height='0.90' fill='#c0a4d8'/><rect x='200.12' y='410.20' width='11.92' height='1.10' fill='#b8a8e0'/><rect x='200.12' y='411.30' width='11.92' height='0.70' fill='#b8a8e0'/><rect x='200.12' y='412.00' width='11.92' height='0.70' fill='#c0a4d8'/><rect x='200.12' y='412.70' width='11.92' height='0.50' fill='#e8a0b4'/><rect x='200.12' y='413.20' width='11.92' height='0.90' fill='#eab0c4'/><rect x='200.12' y='414.10' width='11.92' height='0.70' fill='#b8a8e0'/><rect x='200.12' y='414.80' width='11.92' height='1.10' fill='#e8a0b4'/><rect x='200.12' y='415.90' width='11.92' height='0.50' fill='#c0a4d8'/><rect x='200.12' y='416.40' width='11.92' height='0.70' fill='#b8a8e0'/><rect x='200.12' y='417.10' width='11.92' height='1.10' fill='#c0a4d8'/><rect x='200.12' y='418.20' width='11.92' height='0.70' fill='#e48aa8'/><rect x='200.12' y='418.90' width='11.92' height='0.90' fill='#d890b8'/><rect x='200.12' y='419.80' width='11.92' height='0.50' fill='#acb0e6'/><rect x='200.12' y='420.30' width='11.92' height='0.90' fill='#acb0e6'/><rect x='200.12' y='421.20' width='11.92' height='0.70' fill='#acb0e6'/><rect x='200.12' y='421.90' width='11.92' height='0.70' fill='#e0a0c0'/><rect x='200.12' y='422.60' width='11.92' height='0.50' fill='#c8a8d8'/><rect x='200.12' y='423.10' width='11.92' height='0.90' fill='#e8a0b4'/><rect x='200.12' y='424.00' width='11.92' height='0.70' fill='#acb0e6'/><rect x='200.12' y='424.70' width='11.92' height='0.50' fill='#e48aa8'/><rect x='200.12' y='425.20' width='11.92' height='1.10' fill='#b8a8e0'/><rect x='200.12' y='426.30' width='11.92' height='0.90' fill='#d890b8'/><rect x='200.12' y='427.20' width='11.92' height='0.50' fill='#d890b8'/><rect x='200.12' y='427.70' width='11.92' height='0.70' fill='#c0a4d8'/><rect x='200.12' y='428.40' width='11.92' height='0.70' fill='#eab0c4'/><rect x='200.12' y='429.10' width='11.92' height='0.50' fill='#eab0c4'/><rect x='200.12' y='429.60' width='11.92' height='0.50' fill='#d890b8'/><rect x='200.12' y='430.10' width='11.92' height='0.50' fill='#e8a0b4'/><rect x='200.12' y='430.60' width='11.92' height='0.90' fill='#c8a8d8'/><rect x='200.12' y='431.50' width='11.92' height='0.50' fill='#e0a0c0'/><rect x='200.12' y='432.00' width='11.92' height='1.10' fill='#e0a0c0'/><rect x='200.12' y='433.10' width='11.92' height='0.70' fill='#e0a0c0'/><rect x='200.12' y='433.80' width='11.92' height='0.70' fill='#acb0e6'/><rect x='200.12' y='434.50' width='11.92' height='0.50' fill='#e48aa8'/><rect x='200.12' y='435.00' width='11.92' height='0.50' fill='#e8a0b4'/><rect x='200.12' y='435.50' width='11.92' height='0.90' fill='#e48aa8'/><rect x='200.12' y='436.40' width='11.92' height='1.10' fill='#c8a8d8'/><rect x='200.12' y='437.50' width='11.92' height='0.50' fill='#e0a0c0'/><rect x='200.12' y='438.00' width='11.92' height='0.70' fill='#e0a0c0'/><rect x='200.12' y='438.70' width='11.92' height='1.10' fill='#b4acdc'/><rect x='200.12' y='439.80' width='11.92' height='0.90' fill='#e0a0c0'/><rect x='200.12' y='440.70' width='11.92' height='1.10' fill='#b4acdc'/><rect x='200.12' y='441.80' width='11.92' height='0.70' fill='#acb0e6'/><rect x='200.12' y='442.50' width='11.92' height='1.10' fill='#acb0e6'/><rect x='200.12' y='443.60' width='11.92' height='0.50' fill='#c8a8d8'/><rect x='200.12' y='444.10' width='11.92' height='1.10' fill='#b4acdc'/><rect x='200.12' y='445.20' width='11.92' height='0.50' fill='#e0a0c0'/><rect x='200.12' y='445.70' width='11.92' height='0.90' fill='#e8a0b4'/><rect x='200.12' y='446.60' width='11.92' height='0.90' fill='#b4acdc'/><rect x='200.12' y='447.50' width='11.92' height='0.90' fill='#b4acdc'/><rect x='200.12' y='448.40' width='11.92' height='0.50' fill='#e8a0b4'/><rect x='200.12' y='448.90' width='11.92' height='0.90' fill='#d890b8'/><rect x='200.12' y='449.80' width='11.92' height='0.50' fill='#e48aa8'/><rect x='200.12' y='450.30' width='11.92' height='0.70' fill='#d890b8'/><rect x='200.12' y='451.00' width='11.92' height='0.70' fill='#b8a8e0'/><rect x='200.12' y='451.70' width='11.92' height='0.70' fill='#d890b8'/><rect x='200.12' y='452.40' width='11.92' height='1.10' fill='#b8a8e0'/><rect x='200.12' y='453.50' width='11.92' height='0.50' fill='#b4acdc'/><rect x='200.12' y='454.00' width='11.92' height='0.90' fill='#b4acdc'/><rect x='200.12' y='454.90' width='11.92' height='0.90' fill='#b8a8e0'/><rect x='200.12' y='455.80' width='11.92' height='0.50' fill='#e48aa8'/><rect x='200.12' y='456.30' width='11.92' height='0.50' fill='#e0a0c0'/><rect x='200.12' y='456.80' width='11.92' height='0.90' fill='#eab0c4'/><rect x='200.12' y='457.70' width='11.92' height='0.70' fill='#e48aa8'/><rect x='200.12' y='458.40' width='11.92' height='0.90' fill='#e48aa8'/><rect x='200.12' y='459.30' width='11.92' height='0.70' fill='#e48aa8'/><rect x='200.12' y='460.00' width='11.92' height='0.70' fill='#c8a8d8'/><rect x='200.12' y='460.70' width='11.92' height='0.90' fill='#e0a0c0'/><rect x='200.12' y='461.60' width='11.92' height='0.90' fill='#b4acdc'/><rect x='200.12' y='462.50' width='11.92' height='0.70' fill='#acb0e6'/><rect x='200.12' y='463.20' width='11.92' height='0.90' fill='#b4acdc'/><rect x='200.12' y='464.10' width='11.92' height='0.90' fill='#c8a8d8'/><rect x='200.12' y='465.00' width='11.92' height='0.90' fill='#eab0c4'/><rect x='200.12' y='465.90' width='11.92' height='0.70' fill='#e48aa8'/><rect x='200.12' y='466.60' width='11.92' height='1.10' fill='#c8a8d8'/><rect x='200.12' y='467.70' width='11.92' height='0.50' fill='#acb0e6'/><rect x='200.12' y='468.20' width='11.92' height='0.70' fill='#eab0c4'/><rect x='200.12' y='468.90' width='11.92' height='1.10' fill='#e8a0b4'/><rect x='200.12' y='470.00' width='11.92' height='0.90' fill='#e0a0c0'/><rect x='200.12' y='470.90' width='11.92' height='0.70' fill='#b4acdc'/><rect x='200.12' y='471.60' width='11.92' height='0.90' fill='#e0a0c0'/><rect x='200.12' y='472.50' width='11.92' height='1.10' fill='#c0a4d8'/><rect x='200.12' y='473.60' width='11.92' height='0.50' fill='#acb0e6'/><rect x='200.12' y='474.10' width='11.92' height='1.10' fill='#eab0c4'/><rect x='200.12' y='475.20' width='11.92' height='0.70' fill='#b4acdc'/><rect x='200.12' y='475.90' width='11.92' height='0.90' fill='#b4acdc'/><rect x='200.12' y='476.80' width='11.92' height='0.50' fill='#c8a8d8'/><rect x='200.12' y='477.30' width='11.92' height='0.90' fill='#acb0e6'/><rect x='200.12' y='478.20' width='11.92' height='1.10' fill='#b8a8e0'/><rect x='200.12' y='479.30' width='11.92' height='1.10' fill='#b4acdc'/><rect x='200.12' y='480.40' width='11.92' height='0.10' fill='#b4acdc'/><rect x='212.04' y='323.20' width='11.92' height='0.70' fill='#eab0c4'/><rect x='212.04' y='323.90' width='11.92' height='0.50' fill='#d890b8'/><rect x='212.04' y='324.40' width='11.92' height='1.10' fill='#eab0c4'/><rect x='212.04' y='325.50' width='11.92' height='0.90' fill='#e48aa8'/><rect x='212.04' y='326.40' width='11.92' height='1.10' fill='#b8a8e0'/><rect x='212.04' y='327.50' width='11.92' height='1.10' fill='#eab0c4'/><rect x='212.04' y='328.60' width='11.92' height='0.70' fill='#acb0e6'/><rect x='212.04' y='329.30' width='11.92' height='1.10' fill='#b4acdc'/><rect x='212.04' y='330.40' width='11.92' height='0.70' fill='#eab0c4'/><rect x='212.04' y='331.10' width='11.92' height='0.90' fill='#b4acdc'/><rect x='212.04' y='332.00' width='11.92' height='0.70' fill='#acb0e6'/><rect x='212.04' y='332.70' width='11.92' height='1.10' fill='#b8a8e0'/><rect x='212.04' y='333.80' width='11.92' height='0.50' fill='#e48aa8'/><rect x='212.04' y='334.30' width='11.92' height='1.10' fill='#e48aa8'/><rect x='212.04' y='335.40' width='11.92' height='0.90' fill='#c8a8d8'/><rect x='212.04' y='336.30' width='11.92' height='1.10' fill='#eab0c4'/><rect x='212.04' y='337.40' width='11.92' height='0.50' fill='#c0a4d8'/><rect x='212.04' y='337.90' width='11.92' height='1.10' fill='#b8a8e0'/><rect x='212.04' y='339.00' width='11.92' height='0.70' fill='#eab0c4'/><rect x='212.04' y='339.70' width='11.92' height='1.10' fill='#b4acdc'/><rect x='212.04' y='340.80' width='11.92' height='0.70' fill='#c8a8d8'/><rect x='212.04' y='341.50' width='11.92' height='1.10' fill='#e48aa8'/><rect x='212.04' y='342.60' width='11.92' height='0.90' fill='#b8a8e0'/><rect x='212.04' y='343.50' width='11.92' height='0.70' fill='#eab0c4'/><rect x='212.04' y='344.20' width='11.92' height='0.50' fill='#b4acdc'/><rect x='212.04' y='344.70' width='11.92' height='0.70' fill='#eab0c4'/><rect x='212.04' y='345.40' width='11.92' height='0.90' fill='#b4acdc'/><rect x='212.04' y='346.30' width='11.92' height='1.10' fill='#b4acdc'/><rect x='212.04' y='347.40' width='11.92' height='0.90' fill='#acb0e6'/><rect x='212.04' y='348.30' width='11.92' height='0.70' fill='#e0a0c0'/><rect x='212.04' y='349.00' width='11.92' height='0.50' fill='#e0a0c0'/><rect x='212.04' y='349.50' width='11.92' height='1.10' fill='#e0a0c0'/><rect x='212.04' y='350.60' width='11.92' height='0.90' fill='#b4acdc'/><rect x='212.04' y='351.50' width='11.92' height='0.50' fill='#c8a8d8'/><rect x='212.04' y='352.00' width='11.92' height='0.50' fill='#b8a8e0'/><rect x='212.04' y='352.50' width='11.92' height='0.70' fill='#e48aa8'/><rect x='212.04' y='353.20' width='11.92' height='0.90' fill='#b4acdc'/><rect x='212.04' y='354.10' width='11.92' height='0.70' fill='#c8a8d8'/><rect x='212.04' y='354.80' width='11.92' height='0.50' fill='#e48aa8'/><rect x='212.04' y='355.30' width='11.92' height='0.50' fill='#e0a0c0'/><rect x='212.04' y='355.80' width='11.92' height='0.70' fill='#c8a8d8'/><rect x='212.04' y='356.50' width='11.92' height='1.10' fill='#b8a8e0'/><rect x='212.04' y='357.60' width='11.92' height='0.50' fill='#b4acdc'/><rect x='212.04' y='358.10' width='11.92' height='0.90' fill='#e8a0b4'/><rect x='212.04' y='359.00' width='11.92' height='0.90' fill='#e0a0c0'/><rect x='212.04' y='359.90' width='11.92' height='0.90' fill='#b4acdc'/><rect x='212.04' y='360.80' width='11.92' height='0.50' fill='#d890b8'/><rect x='212.04' y='361.30' width='11.92' height='1.10' fill='#e8a0b4'/><rect x='212.04' y='362.40' width='11.92' height='1.10' fill='#b8a8e0'/><rect x='212.04' y='363.50' width='11.92' height='1.10' fill='#e8a0b4'/><rect x='212.04' y='364.60' width='11.92' height='0.70' fill='#e8a0b4'/><rect x='212.04' y='365.30' width='11.92' height='0.70' fill='#d890b8'/><rect x='212.04' y='366.00' width='11.92' height='0.90' fill='#eab0c4'/><rect x='212.04' y='366.90' width='11.92' height='1.10' fill='#b8a8e0'/><rect x='212.04' y='368.00' width='11.92' height='0.70' fill='#b4acdc'/><rect x='212.04' y='368.70' width='11.92' height='0.70' fill='#d890b8'/><rect x='212.04' y='369.40' width='11.92' height='1.10' fill='#e8a0b4'/><rect x='212.04' y='370.50' width='11.92' height='0.50' fill='#eab0c4'/><rect x='212.04' y='371.00' width='11.92' height='1.10' fill='#eab0c4'/><rect x='212.04' y='372.10' width='11.92' height='1.10' fill='#b8a8e0'/><rect x='212.04' y='373.20' width='11.92' height='0.90' fill='#c8a8d8'/><rect x='212.04' y='374.10' width='11.92' height='0.90' fill='#e0a0c0'/><rect x='212.04' y='375.00' width='11.92' height='0.50' fill='#eab0c4'/><rect x='212.04' y='375.50' width='11.92' height='0.70' fill='#d890b8'/><rect x='212.04' y='376.20' width='11.92' height='0.90' fill='#d890b8'/><rect x='212.04' y='377.10' width='11.92' height='0.50' fill='#e0a0c0'/><rect x='212.04' y='377.60' width='11.92' height='0.90' fill='#acb0e6'/><rect x='212.04' y='378.50' width='11.92' height='0.70' fill='#eab0c4'/><rect x='212.04' y='379.20' width='11.92' height='0.70' fill='#c8a8d8'/><rect x='212.04' y='379.90' width='11.92' height='0.70' fill='#eab0c4'/><rect x='212.04' y='380.60' width='11.92' height='0.70' fill='#c8a8d8'/><rect x='212.04' y='381.30' width='11.92' height='0.70' fill='#d890b8'/><rect x='212.04' y='382.00' width='11.92' height='0.70' fill='#d890b8'/><rect x='212.04' y='382.70' width='11.92' height='0.70' fill='#c0a4d8'/><rect x='212.04' y='383.40' width='11.92' height='1.10' fill='#c0a4d8'/><rect x='212.04' y='384.50' width='11.92' height='0.70' fill='#e48aa8'/><rect x='212.04' y='385.20' width='11.92' height='0.70' fill='#e0a0c0'/><rect x='212.04' y='385.90' width='11.92' height='0.50' fill='#c0a4d8'/><rect x='212.04' y='386.40' width='11.92' height='1.10' fill='#e48aa8'/><rect x='212.04' y='387.50' width='11.92' height='0.70' fill='#d890b8'/><rect x='212.04' y='388.20' width='11.92' height='0.50' fill='#acb0e6'/><rect x='212.04' y='388.70' width='11.92' height='0.90' fill='#e0a0c0'/><rect x='212.04' y='389.60' width='11.92' height='0.50' fill='#c0a4d8'/><rect x='212.04' y='390.10' width='11.92' height='0.90' fill='#eab0c4'/><rect x='212.04' y='391.00' width='11.92' height='0.50' fill='#e8a0b4'/><rect x='212.04' y='391.50' width='11.92' height='1.10' fill='#d890b8'/><rect x='212.04' y='392.60' width='11.92' height='1.10' fill='#acb0e6'/><rect x='212.04' y='393.70' width='11.92' height='0.90' fill='#eab0c4'/><rect x='212.04' y='394.60' width='11.92' height='0.90' fill='#b8a8e0'/><rect x='212.04' y='395.50' width='11.92' height='1.10' fill='#d890b8'/><rect x='212.04' y='396.60' width='11.92' height='0.90' fill='#b8a8e0'/><rect x='212.04' y='397.50' width='11.92' height='0.70' fill='#eab0c4'/><rect x='212.04' y='398.20' width='11.92' height='0.70' fill='#b8a8e0'/><rect x='212.04' y='398.90' width='11.92' height='1.10' fill='#e8a0b4'/><rect x='212.04' y='400.00' width='11.92' height='1.10' fill='#eab0c4'/><rect x='212.04' y='401.10' width='11.92' height='0.70' fill='#e0a0c0'/><rect x='212.04' y='401.80' width='11.92' height='0.90' fill='#acb0e6'/><rect x='212.04' y='402.70' width='11.92' height='0.70' fill='#b4acdc'/><rect x='212.04' y='403.40' width='11.92' height='0.90' fill='#b4acdc'/><rect x='212.04' y='404.30' width='11.92' height='0.90' fill='#b8a8e0'/><rect x='212.04' y='405.20' width='11.92' height='0.90' fill='#b4acdc'/><rect x='212.04' y='406.10' width='11.92' height='0.50' fill='#b8a8e0'/><rect x='212.04' y='406.60' width='11.92' height='0.50' fill='#acb0e6'/><rect x='212.04' y='407.10' width='11.92' height='0.90' fill='#b8a8e0'/><rect x='212.04' y='408.00' width='11.92' height='1.10' fill='#c8a8d8'/><rect x='212.04' y='409.10' width='11.92' height='0.70' fill='#e0a0c0'/><rect x='212.04' y='409.80' width='11.92' height='0.90' fill='#c8a8d8'/><rect x='212.04' y='410.70' width='11.92' height='1.10' fill='#b4acdc'/><rect x='212.04' y='411.80' width='11.92' height='1.10' fill='#acb0e6'/><rect x='212.04' y='412.90' width='11.92' height='1.10' fill='#acb0e6'/><rect x='212.04' y='414.00' width='11.92' height='1.10' fill='#b8a8e0'/><rect x='212.04' y='415.10' width='11.92' height='0.90' fill='#e8a0b4'/><rect x='212.04' y='416.00' width='11.92' height='0.70' fill='#acb0e6'/><rect x='212.04' y='416.70' width='11.92' height='0.50' fill='#eab0c4'/><rect x='212.04' y='417.20' width='11.92' height='1.10' fill='#eab0c4'/><rect x='212.04' y='418.30' width='11.92' height='0.70' fill='#d890b8'/><rect x='212.04' y='419.00' width='11.92' height='1.10' fill='#e8a0b4'/><rect x='212.04' y='420.10' width='11.92' height='0.50' fill='#c8a8d8'/><rect x='212.04' y='420.60' width='11.92' height='0.70' fill='#c0a4d8'/><rect x='212.04' y='421.30' width='11.92' height='0.90' fill='#e8a0b4'/><rect x='212.04' y='422.20' width='11.92' height='0.70' fill='#e0a0c0'/><rect x='212.04' y='422.90' width='11.92' height='1.10' fill='#acb0e6'/><rect x='212.04' y='424.00' width='11.92' height='0.70' fill='#c8a8d8'/><rect x='212.04' y='424.70' width='11.92' height='1.10' fill='#b8a8e0'/><rect x='212.04' y='425.80' width='11.92' height='0.90' fill='#d890b8'/><rect x='212.04' y='426.70' width='11.92' height='0.70' fill='#eab0c4'/><rect x='212.04' y='427.40' width='11.92' height='0.90' fill='#eab0c4'/><rect x='212.04' y='428.30' width='11.92' height='1.10' fill='#acb0e6'/><rect x='212.04' y='429.40' width='11.92' height='0.90' fill='#e48aa8'/><rect x='212.04' y='430.30' width='11.92' height='0.90' fill='#e48aa8'/><rect x='212.04' y='431.20' width='11.92' height='0.50' fill='#d890b8'/><rect x='212.04' y='431.70' width='11.92' height='1.10' fill='#eab0c4'/><rect x='212.04' y='432.80' width='11.92' height='0.90' fill='#d890b8'/><rect x='212.04' y='433.70' width='11.92' height='1.10' fill='#e48aa8'/><rect x='212.04' y='434.80' width='11.92' height='0.90' fill='#e0a0c0'/><rect x='212.04' y='435.70' width='11.92' height='0.90' fill='#c0a4d8'/><rect x='212.04' y='436.60' width='11.92' height='0.70' fill='#e0a0c0'/><rect x='212.04' y='437.30' width='11.92' height='0.50' fill='#acb0e6'/><rect x='212.04' y='437.80' width='11.92' height='0.90' fill='#e48aa8'/><rect x='212.04' y='438.70' width='11.92' height='0.70' fill='#eab0c4'/><rect x='212.04' y='439.40' width='11.92' height='0.90' fill='#eab0c4'/><rect x='212.04' y='440.30' width='11.92' height='0.90' fill='#e8a0b4'/><rect x='212.04' y='441.20' width='11.92' height='0.90' fill='#c0a4d8'/><rect x='212.04' y='442.10' width='11.92' height='0.70' fill='#e0a0c0'/><rect x='212.04' y='442.80' width='11.92' height='1.10' fill='#acb0e6'/><rect x='212.04' y='443.90' width='11.92' height='1.10' fill='#e8a0b4'/><rect x='212.04' y='445.00' width='11.92' height='0.90' fill='#b8a8e0'/><rect x='212.04' y='445.90' width='11.92' height='0.70' fill='#acb0e6'/><rect x='212.04' y='446.60' width='11.92' height='0.70' fill='#d890b8'/><rect x='212.04' y='447.30' width='11.92' height='0.50' fill='#c8a8d8'/><rect x='212.04' y='447.80' width='11.92' height='1.10' fill='#eab0c4'/><rect x='212.04' y='448.90' width='11.92' height='0.50' fill='#e48aa8'/><rect x='212.04' y='449.40' width='11.92' height='1.10' fill='#e0a0c0'/><rect x='212.04' y='450.50' width='11.92' height='0.50' fill='#c8a8d8'/><rect x='212.04' y='451.00' width='11.92' height='0.90' fill='#e0a0c0'/><rect x='212.04' y='451.90' width='11.92' height='0.70' fill='#acb0e6'/><rect x='212.04' y='452.60' width='11.92' height='1.10' fill='#d890b8'/><rect x='212.04' y='453.70' width='11.92' height='0.90' fill='#c8a8d8'/><rect x='212.04' y='454.60' width='11.92' height='0.50' fill='#b4acdc'/><rect x='212.04' y='455.10' width='11.92' height='1.10' fill='#e48aa8'/><rect x='212.04' y='456.20' width='11.92' height='0.70' fill='#b4acdc'/><rect x='212.04' y='456.90' width='11.92' height='0.50' fill='#b8a8e0'/><rect x='212.04' y='457.40' width='11.92' height='0.90' fill='#c0a4d8'/><rect x='212.04' y='458.30' width='11.92' height='1.10' fill='#c8a8d8'/><rect x='212.04' y='459.40' width='11.92' height='0.70' fill='#eab0c4'/><rect x='212.04' y='460.10' width='11.92' height='0.50' fill='#acb0e6'/><rect x='212.04' y='460.60' width='11.92' height='1.10' fill='#acb0e6'/><rect x='212.04' y='461.70' width='11.92' height='0.90' fill='#c8a8d8'/><rect x='212.04' y='462.60' width='11.92' height='0.90' fill='#b4acdc'/><rect x='212.04' y='463.50' width='11.92' height='1.10' fill='#e0a0c0'/><rect x='212.04' y='464.60' width='11.92' height='0.70' fill='#e8a0b4'/><rect x='212.04' y='465.30' width='11.92' height='0.50' fill='#eab0c4'/><rect x='212.04' y='465.80' width='11.92' height='0.50' fill='#eab0c4'/><rect x='212.04' y='466.30' width='11.92' height='1.10' fill='#d890b8'/><rect x='212.04' y='467.40' width='11.92' height='0.70' fill='#b8a8e0'/><rect x='212.04' y='468.10' width='11.92' height='0.50' fill='#b8a8e0'/><rect x='212.04' y='468.60' width='11.92' height='1.10' fill='#e48aa8'/><rect x='212.04' y='469.70' width='11.92' height='0.50' fill='#b4acdc'/><rect x='212.04' y='470.20' width='11.92' height='0.50' fill='#d890b8'/><rect x='212.04' y='470.70' width='11.92' height='0.70' fill='#acb0e6'/><rect x='212.04' y='471.40' width='11.92' height='1.10' fill='#acb0e6'/><rect x='212.04' y='472.50' width='11.92' height='0.90' fill='#b8a8e0'/><rect x='212.04' y='473.40' width='11.92' height='1.10' fill='#eab0c4'/><rect x='212.04' y='474.50' width='11.92' height='0.50' fill='#e48aa8'/><rect x='212.04' y='475.00' width='11.92' height='0.70' fill='#e0a0c0'/><rect x='212.04' y='475.70' width='11.92' height='0.70' fill='#e0a0c0'/><rect x='212.04' y='476.40' width='11.92' height='0.70' fill='#c0a4d8'/><rect x='212.04' y='477.10' width='11.92' height='0.70' fill='#eab0c4'/><rect x='212.04' y='477.80' width='11.92' height='0.50' fill='#b8a8e0'/><rect x='212.04' y='478.30' width='11.92' height='0.70' fill='#e48aa8'/><rect x='212.04' y='479.00' width='11.92' height='0.90' fill='#b8a8e0'/><rect x='212.04' y='479.90' width='11.92' height='0.60' fill='#e48aa8'/><rect x='223.96' y='323.20' width='11.92' height='0.90' fill='#b8a8e0'/><rect x='223.96' y='324.10' width='11.92' height='0.50' fill='#acb0e6'/><rect x='223.96' y='324.60' width='11.92' height='0.90' fill='#d890b8'/><rect x='223.96' y='325.50' width='11.92' height='0.50' fill='#b4acdc'/><rect x='223.96' y='326.00' width='11.92' height='1.10' fill='#e0a0c0'/><rect x='223.96' y='327.10' width='11.92' height='1.10' fill='#eab0c4'/><rect x='223.96' y='328.20' width='11.92' height='0.70' fill='#eab0c4'/><rect x='223.96' y='328.90' width='11.92' height='1.10' fill='#b4acdc'/><rect x='223.96' y='330.00' width='11.92' height='0.90' fill='#c0a4d8'/><rect x='223.96' y='330.90' width='11.92' height='1.10' fill='#eab0c4'/><rect x='223.96' y='332.00' width='11.92' height='0.70' fill='#d890b8'/><rect x='223.96' y='332.70' width='11.92' height='0.50' fill='#b8a8e0'/><rect x='223.96' y='333.20' width='11.92' height='0.50' fill='#e48aa8'/><rect x='223.96' y='333.70' width='11.92' height='1.10' fill='#acb0e6'/><rect x='223.96' y='334.80' width='11.92' height='1.10' fill='#e48aa8'/><rect x='223.96' y='335.90' width='11.92' height='0.50' fill='#e48aa8'/><rect x='223.96' y='336.40' width='11.92' height='0.70' fill='#e8a0b4'/><rect x='223.96' y='337.10' width='11.92' height='0.50' fill='#eab0c4'/><rect x='223.96' y='337.60' width='11.92' height='1.10' fill='#d890b8'/><rect x='223.96' y='338.70' width='11.92' height='1.10' fill='#c0a4d8'/><rect x='223.96' y='339.80' width='11.92' height='0.50' fill='#d890b8'/><rect x='223.96' y='340.30' width='11.92' height='0.90' fill='#e8a0b4'/><rect x='223.96' y='341.20' width='11.92' height='1.10' fill='#b4acdc'/><rect x='223.96' y='342.30' width='11.92' height='0.50' fill='#acb0e6'/><rect x='223.96' y='342.80' width='11.92' height='0.90' fill='#e0a0c0'/><rect x='223.96' y='343.70' width='11.92' height='0.90' fill='#e48aa8'/><rect x='223.96' y='344.60' width='11.92' height='0.70' fill='#b8a8e0'/><rect x='223.96' y='345.30' width='11.92' height='0.50' fill='#c8a8d8'/><rect x='223.96' y='345.80' width='11.92' height='0.50' fill='#eab0c4'/><rect x='223.96' y='346.30' width='11.92' height='0.70' fill='#acb0e6'/><rect x='223.96' y='347.00' width='11.92' height='0.50' fill='#eab0c4'/><rect x='223.96' y='347.50' width='11.92' height='0.90' fill='#acb0e6'/><rect x='223.96' y='348.40' width='11.92' height='0.90' fill='#c8a8d8'/><rect x='223.96' y='349.30' width='11.92' height='0.90' fill='#eab0c4'/><rect x='223.96' y='350.20' width='11.92' height='0.90' fill='#c8a8d8'/><rect x='223.96' y='351.10' width='11.92' height='0.90' fill='#acb0e6'/><rect x='223.96' y='352.00' width='11.92' height='0.90' fill='#e8a0b4'/><rect x='223.96' y='352.90' width='11.92' height='0.50' fill='#c8a8d8'/><rect x='223.96' y='353.40' width='11.92' height='1.10' fill='#e48aa8'/><rect x='223.96' y='354.50' width='11.92' height='0.90' fill='#b4acdc'/><rect x='223.96' y='355.40' width='11.92' height='0.50' fill='#eab0c4'/><rect x='223.96' y='355.90' width='11.92' height='0.90' fill='#b4acdc'/><rect x='223.96' y='356.80' width='11.92' height='0.90' fill='#e8a0b4'/><rect x='223.96' y='357.70' width='11.92' height='0.50' fill='#c0a4d8'/><rect x='223.96' y='358.20' width='11.92' height='0.90' fill='#c0a4d8'/><rect x='223.96' y='359.10' width='11.92' height='1.10' fill='#b8a8e0'/><rect x='223.96' y='360.20' width='11.92' height='1.10' fill='#e8a0b4'/><rect x='223.96' y='361.30' width='11.92' height='0.90' fill='#b4acdc'/><rect x='223.96' y='362.20' width='11.92' height='0.50' fill='#c0a4d8'/><rect x='223.96' y='362.70' width='11.92' height='0.70' fill='#acb0e6'/><rect x='223.96' y='363.40' width='11.92' height='0.50' fill='#e8a0b4'/><rect x='223.96' y='363.90' width='11.92' height='0.90' fill='#b8a8e0'/><rect x='223.96' y='364.80' width='11.92' height='0.70' fill='#e0a0c0'/><rect x='223.96' y='365.50' width='11.92' height='0.70' fill='#b8a8e0'/><rect x='223.96' y='366.20' width='11.92' height='0.50' fill='#b4acdc'/><rect x='223.96' y='366.70' width='11.92' height='0.90' fill='#b8a8e0'/><rect x='223.96' y='367.60' width='11.92' height='0.70' fill='#e0a0c0'/><rect x='223.96' y='368.30' width='11.92' height='0.90' fill='#acb0e6'/><rect x='223.96' y='369.20' width='11.92' height='0.90' fill='#e0a0c0'/><rect x='223.96' y='370.10' width='11.92' height='1.10' fill='#eab0c4'/><rect x='223.96' y='371.20' width='11.92' height='0.70' fill='#d890b8'/><rect x='223.96' y='371.90' width='11.92' height='0.50' fill='#e48aa8'/><rect x='223.96' y='372.40' width='11.92' height='0.90' fill='#b4acdc'/><rect x='223.96' y='373.30' width='11.92' height='1.10' fill='#d890b8'/><rect x='223.96' y='374.40' width='11.92' height='0.50' fill='#eab0c4'/><rect x='223.96' y='374.90' width='11.92' height='0.90' fill='#e48aa8'/><rect x='223.96' y='375.80' width='11.92' height='0.90' fill='#e0a0c0'/><rect x='223.96' y='376.70' width='11.92' height='0.70' fill='#e48aa8'/><rect x='223.96' y='377.40' width='11.92' height='0.50' fill='#eab0c4'/><rect x='223.96' y='377.90' width='11.92' height='1.10' fill='#e48aa8'/><rect x='223.96' y='379.00' width='11.92' height='0.70' fill='#b4acdc'/><rect x='223.96' y='379.70' width='11.92' height='0.90' fill='#e48aa8'/><rect x='223.96' y='380.60' width='11.92' height='0.90' fill='#c8a8d8'/><rect x='223.96' y='381.50' width='11.92' height='0.50' fill='#c0a4d8'/><rect x='223.96' y='382.00' width='11.92' height='1.10' fill='#c0a4d8'/><rect x='223.96' y='383.10' width='11.92' height='0.90' fill='#e0a0c0'/><rect x='223.96' y='384.00' width='11.92' height='1.10' fill='#eab0c4'/><rect x='223.96' y='385.10' width='11.92' height='0.70' fill='#acb0e6'/><rect x='223.96' y='385.80' width='11.92' height='1.10' fill='#b8a8e0'/><rect x='223.96' y='386.90' width='11.92' height='0.50' fill='#b8a8e0'/><rect x='223.96' y='387.40' width='11.92' height='0.50' fill='#acb0e6'/><rect x='223.96' y='387.90' width='11.92' height='0.70' fill='#e48aa8'/><rect x='223.96' y='388.60' width='11.92' height='0.90' fill='#acb0e6'/><rect x='223.96' y='389.50' width='11.92' height='0.70' fill='#c0a4d8'/><rect x='223.96' y='390.20' width='11.92' height='0.70' fill='#d890b8'/><rect x='223.96' y='390.90' width='11.92' height='0.70' fill='#c0a4d8'/><rect x='223.96' y='391.60' width='11.92' height='1.10' fill='#eab0c4'/><rect x='223.96' y='392.70' width='11.92' height='0.50' fill='#e0a0c0'/><rect x='223.96' y='393.20' width='11.92' height='0.50' fill='#c8a8d8'/><rect x='223.96' y='393.70' width='11.92' height='0.90' fill='#e48aa8'/><rect x='223.96' y='394.60' width='11.92' height='1.10' fill='#d890b8'/><rect x='223.96' y='395.70' width='11.92' height='0.70' fill='#e0a0c0'/><rect x='223.96' y='396.40' width='11.92' height='0.90' fill='#acb0e6'/><rect x='223.96' y='397.30' width='11.92' height='0.70' fill='#eab0c4'/><rect x='223.96' y='398.00' width='11.92' height='1.10' fill='#c0a4d8'/><rect x='223.96' y='399.10' width='11.92' height='1.10' fill='#e48aa8'/><rect x='223.96' y='400.20' width='11.92' height='0.70' fill='#eab0c4'/><rect x='223.96' y='400.90' width='11.92' height='0.70' fill='#c0a4d8'/><rect x='223.96' y='401.60' width='11.92' height='0.50' fill='#d890b8'/><rect x='223.96' y='402.10' width='11.92' height='0.70' fill='#e48aa8'/><rect x='223.96' y='402.80' width='11.92' height='1.10' fill='#e0a0c0'/><rect x='223.96' y='403.90' width='11.92' height='0.70' fill='#c0a4d8'/><rect x='223.96' y='404.60' width='11.92' height='0.50' fill='#c8a8d8'/><rect x='223.96' y='405.10' width='11.92' height='0.70' fill='#e8a0b4'/><rect x='223.96' y='405.80' width='11.92' height='0.90' fill='#b8a8e0'/><rect x='223.96' y='406.70' width='11.92' height='0.70' fill='#b8a8e0'/><rect x='223.96' y='407.40' width='11.92' height='0.70' fill='#acb0e6'/><rect x='223.96' y='408.10' width='11.92' height='0.90' fill='#e8a0b4'/><rect x='223.96' y='409.00' width='11.92' height='1.10' fill='#b8a8e0'/><rect x='223.96' y='410.10' width='11.92' height='1.10' fill='#d890b8'/><rect x='223.96' y='411.20' width='11.92' height='0.90' fill='#b8a8e0'/><rect x='223.96' y='412.10' width='11.92' height='0.70' fill='#e0a0c0'/><rect x='223.96' y='412.80' width='11.92' height='0.50' fill='#e48aa8'/><rect x='223.96' y='413.30' width='11.92' height='0.70' fill='#b8a8e0'/><rect x='223.96' y='414.00' width='11.92' height='0.50' fill='#eab0c4'/><rect x='223.96' y='414.50' width='11.92' height='0.50' fill='#b8a8e0'/><rect x='223.96' y='415.00' width='11.92' height='1.10' fill='#b4acdc'/><rect x='223.96' y='416.10' width='11.92' height='1.10' fill='#e8a0b4'/><rect x='223.96' y='417.20' width='11.92' height='0.70' fill='#b4acdc'/><rect x='223.96' y='417.90' width='11.92' height='0.50' fill='#c8a8d8'/><rect x='223.96' y='418.40' width='11.92' height='0.50' fill='#e8a0b4'/><rect x='223.96' y='418.90' width='11.92' height='0.70' fill='#c0a4d8'/><rect x='223.96' y='419.60' width='11.92' height='0.70' fill='#eab0c4'/><rect x='223.96' y='420.30' width='11.92' height='0.50' fill='#acb0e6'/><rect x='223.96' y='420.80' width='11.92' height='0.50' fill='#e48aa8'/><rect x='223.96' y='421.30' width='11.92' height='0.90' fill='#eab0c4'/><rect x='223.96' y='422.20' width='11.92' height='0.50' fill='#b4acdc'/><rect x='223.96' y='422.70' width='11.92' height='0.90' fill='#c8a8d8'/><rect x='223.96' y='423.60' width='11.92' height='0.90' fill='#eab0c4'/><rect x='223.96' y='424.50' width='11.92' height='1.10' fill='#e8a0b4'/><rect x='223.96' y='425.60' width='11.92' height='1.10' fill='#c8a8d8'/><rect x='223.96' y='426.70' width='11.92' height='0.70' fill='#b8a8e0'/><rect x='223.96' y='427.40' width='11.92' height='0.70' fill='#c0a4d8'/><rect x='223.96' y='428.10' width='11.92' height='1.10' fill='#acb0e6'/><rect x='223.96' y='429.20' width='11.92' height='0.50' fill='#e48aa8'/><rect x='223.96' y='429.70' width='11.92' height='0.50' fill='#b8a8e0'/><rect x='223.96' y='430.20' width='11.92' height='1.10' fill='#c0a4d8'/><rect x='223.96' y='431.30' width='11.92' height='1.10' fill='#c0a4d8'/><rect x='223.96' y='432.40' width='11.92' height='1.10' fill='#b8a8e0'/><rect x='223.96' y='433.50' width='11.92' height='1.10' fill='#c8a8d8'/><rect x='223.96' y='434.60' width='11.92' height='0.90' fill='#c8a8d8'/><rect x='223.96' y='435.50' width='11.92' height='0.70' fill='#c8a8d8'/><rect x='223.96' y='436.20' width='11.92' height='0.90' fill='#c8a8d8'/><rect x='223.96' y='437.10' width='11.92' height='0.90' fill='#c0a4d8'/><rect x='223.96' y='438.00' width='11.92' height='0.50' fill='#b4acdc'/><rect x='223.96' y='438.50' width='11.92' height='0.70' fill='#c0a4d8'/><rect x='223.96' y='439.20' width='11.92' height='0.90' fill='#c8a8d8'/><rect x='223.96' y='440.10' width='11.92' height='0.90' fill='#c8a8d8'/><rect x='223.96' y='441.00' width='11.92' height='0.70' fill='#b8a8e0'/><rect x='223.96' y='441.70' width='11.92' height='0.90' fill='#b4acdc'/><rect x='223.96' y='442.60' width='11.92' height='0.70' fill='#acb0e6'/><rect x='223.96' y='443.30' width='11.92' height='0.70' fill='#d890b8'/><rect x='223.96' y='444.00' width='11.92' height='0.70' fill='#b8a8e0'/><rect x='223.96' y='444.70' width='11.92' height='0.90' fill='#d890b8'/><rect x='223.96' y='445.60' width='11.92' height='0.50' fill='#eab0c4'/><rect x='223.96' y='446.10' width='11.92' height='1.10' fill='#eab0c4'/><rect x='223.96' y='447.20' width='11.92' height='0.90' fill='#e0a0c0'/><rect x='223.96' y='448.10' width='11.92' height='0.90' fill='#d890b8'/><rect x='223.96' y='449.00' width='11.92' height='0.50' fill='#d890b8'/><rect x='223.96' y='449.50' width='11.92' height='0.70' fill='#acb0e6'/><rect x='223.96' y='450.20' width='11.92' height='0.50' fill='#c0a4d8'/><rect x='223.96' y='450.70' width='11.92' height='1.10' fill='#acb0e6'/><rect x='223.96' y='451.80' width='11.92' height='0.90' fill='#c8a8d8'/><rect x='223.96' y='452.70' width='11.92' height='0.90' fill='#e8a0b4'/><rect x='223.96' y='453.60' width='11.92' height='0.50' fill='#b8a8e0'/><rect x='223.96' y='454.10' width='11.92' height='0.70' fill='#e48aa8'/><rect x='223.96' y='454.80' width='11.92' height='0.90' fill='#c0a4d8'/><rect x='223.96' y='455.70' width='11.92' height='0.70' fill='#d890b8'/><rect x='223.96' y='456.40' width='11.92' height='0.50' fill='#c8a8d8'/><rect x='223.96' y='456.90' width='11.92' height='0.50' fill='#d890b8'/><rect x='223.96' y='457.40' width='11.92' height='0.90' fill='#c0a4d8'/><rect x='223.96' y='458.30' width='11.92' height='0.50' fill='#c8a8d8'/><rect x='223.96' y='458.80' width='11.92' height='0.90' fill='#eab0c4'/><rect x='223.96' y='459.70' width='11.92' height='1.10' fill='#e48aa8'/><rect x='223.96' y='460.80' width='11.92' height='0.90' fill='#d890b8'/><rect x='223.96' y='461.70' width='11.92' height='0.70' fill='#acb0e6'/><rect x='223.96' y='462.40' width='11.92' height='0.90' fill='#e8a0b4'/><rect x='223.96' y='463.30' width='11.92' height='0.90' fill='#b8a8e0'/><rect x='223.96' y='464.20' width='11.92' height='1.10' fill='#e48aa8'/><rect x='223.96' y='465.30' width='11.92' height='1.10' fill='#e0a0c0'/><rect x='223.96' y='466.40' width='11.92' height='0.50' fill='#c8a8d8'/><rect x='223.96' y='466.90' width='11.92' height='1.10' fill='#c8a8d8'/><rect x='223.96' y='468.00' width='11.92' height='1.10' fill='#acb0e6'/><rect x='223.96' y='469.10' width='11.92' height='0.50' fill='#d890b8'/><rect x='223.96' y='469.60' width='11.92' height='0.70' fill='#b8a8e0'/><rect x='223.96' y='470.30' width='11.92' height='0.70' fill='#c8a8d8'/><rect x='223.96' y='471.00' width='11.92' height='0.50' fill='#c0a4d8'/><rect x='223.96' y='471.50' width='11.92' height='0.90' fill='#c8a8d8'/><rect x='223.96' y='472.40' width='11.92' height='0.50' fill='#e0a0c0'/><rect x='223.96' y='472.90' width='11.92' height='0.50' fill='#e0a0c0'/><rect x='223.96' y='473.40' width='11.92' height='0.70' fill='#b8a8e0'/><rect x='223.96' y='474.10' width='11.92' height='0.70' fill='#c8a8d8'/><rect x='223.96' y='474.80' width='11.92' height='0.50' fill='#c8a8d8'/><rect x='223.96' y='475.30' width='11.92' height='0.70' fill='#b8a8e0'/><rect x='223.96' y='476.00' width='11.92' height='0.70' fill='#e8a0b4'/><rect x='223.96' y='476.70' width='11.92' height='0.50' fill='#e48aa8'/><rect x='223.96' y='477.20' width='11.92' height='0.90' fill='#b8a8e0'/><rect x='223.96' y='478.10' width='11.92' height='0.90' fill='#eab0c4'/><rect x='223.96' y='479.00' width='11.92' height='1.10' fill='#c8a8d8'/><rect x='223.96' y='480.10' width='11.92' height='0.40' fill='#e8a0b4'/><rect x='235.88' y='323.20' width='11.92' height='1.10' fill='#b4acdc'/><rect x='235.88' y='324.30' width='11.92' height='0.90' fill='#e8a0b4'/><rect x='235.88' y='325.20' width='11.92' height='0.50' fill='#eab0c4'/><rect x='235.88' y='325.70' width='11.92' height='1.10' fill='#b4acdc'/><rect x='235.88' y='326.80' width='11.92' height='0.70' fill='#eab0c4'/><rect x='235.88' y='327.50' width='11.92' height='0.70' fill='#e48aa8'/><rect x='235.88' y='328.20' width='11.92' height='0.50' fill='#b8a8e0'/><rect x='235.88' y='328.70' width='11.92' height='0.50' fill='#e48aa8'/><rect x='235.88' y='329.20' width='11.92' height='0.90' fill='#e8a0b4'/><rect x='235.88' y='330.10' width='11.92' height='1.10' fill='#e8a0b4'/><rect x='235.88' y='331.20' width='11.92' height='1.10' fill='#d890b8'/><rect x='235.88' y='332.30' width='11.92' height='0.70' fill='#b8a8e0'/><rect x='235.88' y='333.00' width='11.92' height='0.70' fill='#e0a0c0'/><rect x='235.88' y='333.70' width='11.92' height='0.50' fill='#e0a0c0'/><rect x='235.88' y='334.20' width='11.92' height='1.10' fill='#e48aa8'/><rect x='235.88' y='335.30' width='11.92' height='0.70' fill='#eab0c4'/><rect x='235.88' y='336.00' width='11.92' height='0.70' fill='#acb0e6'/><rect x='235.88' y='336.70' width='11.92' height='0.70' fill='#acb0e6'/><rect x='235.88' y='337.40' width='11.92' height='0.50' fill='#e8a0b4'/><rect x='235.88' y='337.90' width='11.92' height='0.50' fill='#c8a8d8'/><rect x='235.88' y='338.40' width='11.92' height='0.70' fill='#c0a4d8'/><rect x='235.88' y='339.10' width='11.92' height='1.10' fill='#acb0e6'/><rect x='235.88' y='340.20' width='11.92' height='0.50' fill='#acb0e6'/><rect x='235.88' y='340.70' width='11.92' height='0.50' fill='#d890b8'/><rect x='235.88' y='341.20' width='11.92' height='0.90' fill='#b4acdc'/><rect x='235.88' y='342.10' width='11.92' height='0.90' fill='#acb0e6'/><rect x='235.88' y='343.00' width='11.92' height='0.90' fill='#c0a4d8'/><rect x='235.88' y='343.90' width='11.92' height='0.70' fill='#e8a0b4'/><rect x='235.88' y='344.60' width='11.92' height='1.10' fill='#c0a4d8'/><rect x='235.88' y='345.70' width='11.92' height='1.10' fill='#eab0c4'/><rect x='235.88' y='346.80' width='11.92' height='0.70' fill='#b8a8e0'/><rect x='235.88' y='347.50' width='11.92' height='0.70' fill='#e8a0b4'/><rect x='235.88' y='348.20' width='11.92' height='1.10' fill='#d890b8'/><rect x='235.88' y='349.30' width='11.92' height='0.50' fill='#eab0c4'/><rect x='235.88' y='349.80' width='11.92' height='0.50' fill='#acb0e6'/><rect x='235.88' y='350.30' width='11.92' height='0.50' fill='#eab0c4'/><rect x='235.88' y='350.80' width='11.92' height='0.50' fill='#c8a8d8'/><rect x='235.88' y='351.30' width='11.92' height='0.50' fill='#eab0c4'/><rect x='235.88' y='351.80' width='11.92' height='0.90' fill='#b4acdc'/><rect x='235.88' y='352.70' width='11.92' height='0.50' fill='#d890b8'/><rect x='235.88' y='353.20' width='11.92' height='0.90' fill='#acb0e6'/><rect x='235.88' y='354.10' width='11.92' height='0.90' fill='#e48aa8'/><rect x='235.88' y='355.00' width='11.92' height='0.50' fill='#c0a4d8'/><rect x='235.88' y='355.50' width='11.92' height='0.70' fill='#c0a4d8'/><rect x='235.88' y='356.20' width='11.92' height='0.50' fill='#eab0c4'/><rect x='235.88' y='356.70' width='11.92' height='1.10' fill='#eab0c4'/><rect x='235.88' y='357.80' width='11.92' height='0.90' fill='#eab0c4'/><rect x='235.88' y='358.70' width='11.92' height='0.50' fill='#c8a8d8'/><rect x='235.88' y='359.20' width='11.92' height='0.50' fill='#b8a8e0'/><rect x='235.88' y='359.70' width='11.92' height='0.70' fill='#c8a8d8'/><rect x='235.88' y='360.40' width='11.92' height='0.50' fill='#e48aa8'/><rect x='235.88' y='360.90' width='11.92' height='0.50' fill='#e8a0b4'/><rect x='235.88' y='361.40' width='11.92' height='1.10' fill='#c0a4d8'/><rect x='235.88' y='362.50' width='11.92' height='0.50' fill='#e8a0b4'/><rect x='235.88' y='363.00' width='11.92' height='0.90' fill='#e0a0c0'/><rect x='235.88' y='363.90' width='11.92' height='0.90' fill='#d890b8'/><rect x='235.88' y='364.80' width='11.92' height='0.90' fill='#e0a0c0'/><rect x='235.88' y='365.70' width='11.92' height='0.50' fill='#b8a8e0'/><rect x='235.88' y='366.20' width='11.92' height='0.70' fill='#e48aa8'/><rect x='235.88' y='366.90' width='11.92' height='0.50' fill='#e8a0b4'/><rect x='235.88' y='367.40' width='11.92' height='0.70' fill='#b8a8e0'/><rect x='235.88' y='368.10' width='11.92' height='0.90' fill='#e8a0b4'/><rect x='235.88' y='369.00' width='11.92' height='0.90' fill='#e8a0b4'/><rect x='235.88' y='369.90' width='11.92' height='0.70' fill='#b4acdc'/><rect x='235.88' y='370.60' width='11.92' height='0.70' fill='#b8a8e0'/><rect x='235.88' y='371.30' width='11.92' height='0.50' fill='#c8a8d8'/><rect x='235.88' y='371.80' width='11.92' height='0.70' fill='#acb0e6'/><rect x='235.88' y='372.50' width='11.92' height='0.50' fill='#acb0e6'/><rect x='235.88' y='373.00' width='11.92' height='0.90' fill='#c8a8d8'/><rect x='235.88' y='373.90' width='11.92' height='1.10' fill='#b8a8e0'/><rect x='235.88' y='375.00' width='11.92' height='0.90' fill='#b8a8e0'/><rect x='235.88' y='375.90' width='11.92' height='0.50' fill='#acb0e6'/><rect x='235.88' y='376.40' width='11.92' height='0.70' fill='#e48aa8'/><rect x='235.88' y='377.10' width='11.92' height='0.50' fill='#b8a8e0'/><rect x='235.88' y='377.60' width='11.92' height='0.90' fill='#b8a8e0'/><rect x='235.88' y='378.50' width='11.92' height='0.70' fill='#acb0e6'/><rect x='235.88' y='379.20' width='11.92' height='0.90' fill='#d890b8'/><rect x='235.88' y='380.10' width='11.92' height='0.70' fill='#d890b8'/><rect x='235.88' y='380.80' width='11.92' height='1.10' fill='#e8a0b4'/><rect x='235.88' y='381.90' width='11.92' height='0.70' fill='#acb0e6'/><rect x='235.88' y='382.60' width='11.92' height='0.70' fill='#acb0e6'/><rect x='235.88' y='383.30' width='11.92' height='0.70' fill='#e8a0b4'/><rect x='235.88' y='384.00' width='11.92' height='0.90' fill='#b8a8e0'/><rect x='235.88' y='384.90' width='11.92' height='0.50' fill='#c8a8d8'/><rect x='235.88' y='385.40' width='11.92' height='0.50' fill='#eab0c4'/><rect x='235.88' y='385.90' width='11.92' height='0.50' fill='#b8a8e0'/><rect x='235.88' y='386.40' width='11.92' height='0.70' fill='#b8a8e0'/><rect x='235.88' y='387.10' width='11.92' height='0.90' fill='#b8a8e0'/><rect x='235.88' y='388.00' width='11.92' height='0.90' fill='#c8a8d8'/><rect x='235.88' y='388.90' width='11.92' height='1.10' fill='#eab0c4'/><rect x='235.88' y='390.00' width='11.92' height='0.50' fill='#b4acdc'/><rect x='235.88' y='390.50' width='11.92' height='0.70' fill='#e48aa8'/><rect x='235.88' y='391.20' width='11.92' height='0.90' fill='#b4acdc'/><rect x='235.88' y='392.10' width='11.92' height='0.50' fill='#eab0c4'/><rect x='235.88' y='392.60' width='11.92' height='0.70' fill='#e48aa8'/><rect x='235.88' y='393.30' width='11.92' height='1.10' fill='#c8a8d8'/><rect x='235.88' y='394.40' width='11.92' height='0.50' fill='#d890b8'/><rect x='235.88' y='394.90' width='11.92' height='0.90' fill='#c8a8d8'/><rect x='235.88' y='395.80' width='11.92' height='0.50' fill='#eab0c4'/><rect x='235.88' y='396.30' width='11.92' height='1.10' fill='#b8a8e0'/><rect x='235.88' y='397.40' width='11.92' height='0.90' fill='#e0a0c0'/><rect x='235.88' y='398.30' width='11.92' height='0.50' fill='#c8a8d8'/><rect x='235.88' y='398.80' width='11.92' height='1.10' fill='#eab0c4'/><rect x='235.88' y='399.90' width='11.92' height='1.10' fill='#e48aa8'/><rect x='235.88' y='401.00' width='11.92' height='0.70' fill='#d890b8'/><rect x='235.88' y='401.70' width='11.92' height='1.10' fill='#c0a4d8'/><rect x='235.88' y='402.80' width='11.92' height='0.90' fill='#eab0c4'/><rect x='235.88' y='403.70' width='11.92' height='0.70' fill='#c8a8d8'/><rect x='235.88' y='404.40' width='11.92' height='1.10' fill='#acb0e6'/><rect x='235.88' y='405.50' width='11.92' height='0.50' fill='#e0a0c0'/><rect x='235.88' y='406.00' width='11.92' height='1.10' fill='#acb0e6'/><rect x='235.88' y='407.10' width='11.92' height='1.10' fill='#e8a0b4'/><rect x='235.88' y='408.20' width='11.92' height='0.90' fill='#eab0c4'/><rect x='235.88' y='409.10' width='11.92' height='1.10' fill='#eab0c4'/><rect x='235.88' y='410.20' width='11.92' height='0.70' fill='#acb0e6'/><rect x='235.88' y='410.90' width='11.92' height='1.10' fill='#b8a8e0'/><rect x='235.88' y='412.00' width='11.92' height='0.70' fill='#e8a0b4'/><rect x='235.88' y='412.70' width='11.92' height='1.10' fill='#c0a4d8'/><rect x='235.88' y='413.80' width='11.92' height='0.90' fill='#b4acdc'/><rect x='235.88' y='414.70' width='11.92' height='1.10' fill='#eab0c4'/><rect x='235.88' y='415.80' width='11.92' height='1.10' fill='#e48aa8'/><rect x='235.88' y='416.90' width='11.92' height='0.90' fill='#eab0c4'/><rect x='235.88' y='417.80' width='11.92' height='0.90' fill='#d890b8'/><rect x='235.88' y='418.70' width='11.92' height='0.50' fill='#c8a8d8'/><rect x='235.88' y='419.20' width='11.92' height='1.10' fill='#e0a0c0'/><rect x='235.88' y='420.30' width='11.92' height='0.50' fill='#b8a8e0'/><rect x='235.88' y='420.80' width='11.92' height='1.10' fill='#e48aa8'/><rect x='235.88' y='421.90' width='11.92' height='0.70' fill='#c8a8d8'/><rect x='235.88' y='422.60' width='11.92' height='0.50' fill='#c8a8d8'/><rect x='235.88' y='423.10' width='11.92' height='0.70' fill='#eab0c4'/><rect x='235.88' y='423.80' width='11.92' height='0.70' fill='#e48aa8'/><rect x='235.88' y='424.50' width='11.92' height='0.50' fill='#acb0e6'/><rect x='235.88' y='425.00' width='11.92' height='0.90' fill='#acb0e6'/><rect x='235.88' y='425.90' width='11.92' height='0.90' fill='#b8a8e0'/><rect x='235.88' y='426.80' width='11.92' height='1.10' fill='#c8a8d8'/><rect x='235.88' y='427.90' width='11.92' height='0.50' fill='#c8a8d8'/><rect x='235.88' y='428.40' width='11.92' height='1.10' fill='#c0a4d8'/><rect x='235.88' y='429.50' width='11.92' height='0.90' fill='#e48aa8'/><rect x='235.88' y='430.40' width='11.92' height='1.10' fill='#b4acdc'/><rect x='235.88' y='431.50' width='11.92' height='0.90' fill='#acb0e6'/><rect x='235.88' y='432.40' width='11.92' height='0.50' fill='#e48aa8'/><rect x='235.88' y='432.90' width='11.92' height='0.70' fill='#b8a8e0'/><rect x='235.88' y='433.60' width='11.92' height='0.90' fill='#c0a4d8'/><rect x='235.88' y='434.50' width='11.92' height='0.70' fill='#d890b8'/><rect x='235.88' y='435.20' width='11.92' height='0.70' fill='#c8a8d8'/><rect x='235.88' y='435.90' width='11.92' height='1.10' fill='#eab0c4'/><rect x='235.88' y='437.00' width='11.92' height='0.90' fill='#d890b8'/><rect x='235.88' y='437.90' width='11.92' height='1.10' fill='#e8a0b4'/><rect x='235.88' y='439.00' width='11.92' height='1.10' fill='#c8a8d8'/><rect x='235.88' y='440.10' width='11.92' height='0.70' fill='#c0a4d8'/><rect x='235.88' y='440.80' width='11.92' height='0.50' fill='#e48aa8'/><rect x='235.88' y='441.30' width='11.92' height='1.10' fill='#c8a8d8'/><rect x='235.88' y='442.40' width='11.92' height='0.50' fill='#eab0c4'/><rect x='235.88' y='442.90' width='11.92' height='1.10' fill='#c0a4d8'/><rect x='235.88' y='444.00' width='11.92' height='0.50' fill='#e0a0c0'/><rect x='235.88' y='444.50' width='11.92' height='0.50' fill='#b4acdc'/><rect x='235.88' y='445.00' width='11.92' height='0.90' fill='#eab0c4'/><rect x='235.88' y='445.90' width='11.92' height='0.90' fill='#b8a8e0'/><rect x='235.88' y='446.80' width='11.92' height='0.50' fill='#c8a8d8'/><rect x='235.88' y='447.30' width='11.92' height='0.50' fill='#acb0e6'/><rect x='235.88' y='447.80' width='11.92' height='0.70' fill='#b8a8e0'/><rect x='235.88' y='448.50' width='11.92' height='1.10' fill='#eab0c4'/><rect x='235.88' y='449.60' width='11.92' height='1.10' fill='#eab0c4'/><rect x='235.88' y='450.70' width='11.92' height='0.90' fill='#acb0e6'/><rect x='235.88' y='451.60' width='11.92' height='1.10' fill='#c0a4d8'/><rect x='235.88' y='452.70' width='11.92' height='0.70' fill='#e0a0c0'/><rect x='235.88' y='453.40' width='11.92' height='1.10' fill='#e0a0c0'/><rect x='235.88' y='454.50' width='11.92' height='0.70' fill='#c8a8d8'/><rect x='235.88' y='455.20' width='11.92' height='0.70' fill='#c0a4d8'/><rect x='235.88' y='455.90' width='11.92' height='0.70' fill='#e8a0b4'/><rect x='235.88' y='456.60' width='11.92' height='0.50' fill='#b8a8e0'/><rect x='235.88' y='457.10' width='11.92' height='1.10' fill='#acb0e6'/><rect x='235.88' y='458.20' width='11.92' height='1.10' fill='#c0a4d8'/><rect x='235.88' y='459.30' width='11.92' height='0.50' fill='#b4acdc'/><rect x='235.88' y='459.80' width='11.92' height='0.90' fill='#acb0e6'/><rect x='235.88' y='460.70' width='11.92' height='0.90' fill='#e48aa8'/><rect x='235.88' y='461.60' width='11.92' height='0.50' fill='#e48aa8'/><rect x='235.88' y='462.10' width='11.92' height='0.50' fill='#eab0c4'/><rect x='235.88' y='462.60' width='11.92' height='0.70' fill='#e8a0b4'/><rect x='235.88' y='463.30' width='11.92' height='1.10' fill='#e0a0c0'/><rect x='235.88' y='464.40' width='11.92' height='1.10' fill='#b4acdc'/><rect x='235.88' y='465.50' width='11.92' height='0.50' fill='#d890b8'/><rect x='235.88' y='466.00' width='11.92' height='0.50' fill='#eab0c4'/><rect x='235.88' y='466.50' width='11.92' height='0.90' fill='#b4acdc'/><rect x='235.88' y='467.40' width='11.92' height='0.70' fill='#e8a0b4'/><rect x='235.88' y='468.10' width='11.92' height='0.90' fill='#b4acdc'/><rect x='235.88' y='469.00' width='11.92' height='0.50' fill='#e8a0b4'/><rect x='235.88' y='469.50' width='11.92' height='0.50' fill='#c0a4d8'/><rect x='235.88' y='470.00' width='11.92' height='1.10' fill='#eab0c4'/><rect x='235.88' y='471.10' width='11.92' height='0.50' fill='#c8a8d8'/><rect x='235.88' y='471.60' width='11.92' height='1.10' fill='#b4acdc'/><rect x='235.88' y='472.70' width='11.92' height='1.10' fill='#e0a0c0'/><rect x='235.88' y='473.80' width='11.92' height='0.90' fill='#c0a4d8'/><rect x='235.88' y='474.70' width='11.92' height='0.90' fill='#d890b8'/><rect x='235.88' y='475.60' width='11.92' height='0.70' fill='#e48aa8'/><rect x='235.88' y='476.30' width='11.92' height='1.10' fill='#e48aa8'/><rect x='235.88' y='477.40' width='11.92' height='0.70' fill='#e8a0b4'/><rect x='235.88' y='478.10' width='11.92' height='0.90' fill='#b8a8e0'/><rect x='235.88' y='479.00' width='11.92' height='0.50' fill='#e8a0b4'/><rect x='235.88' y='479.50' width='11.92' height='0.70' fill='#acb0e6'/><rect x='235.88' y='480.20' width='11.92' height='0.30' fill='#b8a8e0'/><rect x='247.80' y='323.20' width='11.92' height='0.50' fill='#e8a0b4'/><rect x='247.80' y='323.70' width='11.92' height='1.10' fill='#e48aa8'/><rect x='247.80' y='324.80' width='11.92' height='0.90' fill='#acb0e6'/><rect x='247.80' y='325.70' width='11.92' height='0.90' fill='#c0a4d8'/><rect x='247.80' y='326.60' width='11.92' height='0.50' fill='#e8a0b4'/><rect x='247.80' y='327.10' width='11.92' height='0.90' fill='#b8a8e0'/><rect x='247.80' y='328.00' width='11.92' height='1.10' fill='#c0a4d8'/><rect x='247.80' y='329.10' width='11.92' height='0.50' fill='#c0a4d8'/><rect x='247.80' y='329.60' width='11.92' height='1.10' fill='#b8a8e0'/><rect x='247.80' y='330.70' width='11.92' height='0.90' fill='#c8a8d8'/><rect x='247.80' y='331.60' width='11.92' height='0.70' fill='#b4acdc'/><rect x='247.80' y='332.30' width='11.92' height='0.90' fill='#acb0e6'/><rect x='247.80' y='333.20' width='11.92' height='0.90' fill='#e0a0c0'/><rect x='247.80' y='334.10' width='11.92' height='0.70' fill='#b4acdc'/><rect x='247.80' y='334.80' width='11.92' height='1.10' fill='#c8a8d8'/><rect x='247.80' y='335.90' width='11.92' height='0.70' fill='#c8a8d8'/><rect x='247.80' y='336.60' width='11.92' height='0.70' fill='#e0a0c0'/><rect x='247.80' y='337.30' width='11.92' height='0.70' fill='#b4acdc'/><rect x='247.80' y='338.00' width='11.92' height='1.10' fill='#e0a0c0'/><rect x='247.80' y='339.10' width='11.92' height='1.10' fill='#acb0e6'/><rect x='247.80' y='340.20' width='11.92' height='0.50' fill='#c0a4d8'/><rect x='247.80' y='340.70' width='11.92' height='1.10' fill='#acb0e6'/><rect x='247.80' y='341.80' width='11.92' height='0.50' fill='#eab0c4'/><rect x='247.80' y='342.30' width='11.92' height='1.10' fill='#b8a8e0'/><rect x='247.80' y='343.40' width='11.92' height='0.70' fill='#c8a8d8'/><rect x='247.80' y='344.10' width='11.92' height='1.10' fill='#c8a8d8'/><rect x='247.80' y='345.20' width='11.92' height='0.50' fill='#b8a8e0'/><rect x='247.80' y='345.70' width='11.92' height='1.10' fill='#e8a0b4'/><rect x='247.80' y='346.80' width='11.92' height='1.10' fill='#c8a8d8'/><rect x='247.80' y='347.90' width='11.92' height='0.70' fill='#d890b8'/><rect x='247.80' y='348.60' width='11.92' height='1.10' fill='#e8a0b4'/><rect x='247.80' y='349.70' width='11.92' height='0.70' fill='#e48aa8'/><rect x='247.80' y='350.40' width='11.92' height='0.70' fill='#b8a8e0'/><rect x='247.80' y='351.10' width='11.92' height='0.70' fill='#e8a0b4'/><rect x='247.80' y='351.80' width='11.92' height='0.50' fill='#e0a0c0'/><rect x='247.80' y='352.30' width='11.92' height='1.10' fill='#e8a0b4'/><rect x='247.80' y='353.40' width='11.92' height='0.50' fill='#b4acdc'/><rect x='247.80' y='353.90' width='11.92' height='1.10' fill='#e8a0b4'/><rect x='247.80' y='355.00' width='11.92' height='1.10' fill='#e0a0c0'/><rect x='247.80' y='356.10' width='11.92' height='0.50' fill='#e48aa8'/><rect x='247.80' y='356.60' width='11.92' height='0.70' fill='#c0a4d8'/><rect x='247.80' y='357.30' width='11.92' height='0.50' fill='#c8a8d8'/><rect x='247.80' y='357.80' width='11.92' height='0.50' fill='#e0a0c0'/><rect x='247.80' y='358.30' width='11.92' height='0.50' fill='#b4acdc'/><rect x='247.80' y='358.80' width='11.92' height='0.50' fill='#b4acdc'/><rect x='247.80' y='359.30' width='11.92' height='0.90' fill='#b8a8e0'/><rect x='247.80' y='360.20' width='11.92' height='0.70' fill='#e48aa8'/><rect x='247.80' y='360.90' width='11.92' height='1.10' fill='#e8a0b4'/><rect x='247.80' y='362.00' width='11.92' height='1.10' fill='#b4acdc'/><rect x='247.80' y='363.10' width='11.92' height='0.50' fill='#c0a4d8'/><rect x='247.80' y='363.60' width='11.92' height='0.50' fill='#e8a0b4'/><rect x='247.80' y='364.10' width='11.92' height='0.50' fill='#eab0c4'/><rect x='247.80' y='364.60' width='11.92' height='0.90' fill='#eab0c4'/><rect x='247.80' y='365.50' width='11.92' height='0.70' fill='#b4acdc'/><rect x='247.80' y='366.20' width='11.92' height='0.90' fill='#b8a8e0'/><rect x='247.80' y='367.10' width='11.92' height='0.50' fill='#e0a0c0'/><rect x='247.80' y='367.60' width='11.92' height='0.70' fill='#c8a8d8'/><rect x='247.80' y='368.30' width='11.92' height='1.10' fill='#b4acdc'/><rect x='247.80' y='369.40' width='11.92' height='0.70' fill='#b8a8e0'/><rect x='247.80' y='370.10' width='11.92' height='0.50' fill='#b8a8e0'/><rect x='247.80' y='370.60' width='11.92' height='0.70' fill='#c8a8d8'/><rect x='247.80' y='371.30' width='11.92' height='0.50' fill='#eab0c4'/><rect x='247.80' y='371.80' width='11.92' height='1.10' fill='#e8a0b4'/><rect x='247.80' y='372.90' width='11.92' height='0.90' fill='#c0a4d8'/><rect x='247.80' y='373.80' width='11.92' height='0.50' fill='#e0a0c0'/><rect x='247.80' y='374.30' width='11.92' height='0.70' fill='#c8a8d8'/><rect x='247.80' y='375.00' width='11.92' height='0.90' fill='#e8a0b4'/><rect x='247.80' y='375.90' width='11.92' height='0.50' fill='#b8a8e0'/><rect x='247.80' y='376.40' width='11.92' height='0.90' fill='#eab0c4'/><rect x='247.80' y='377.30' width='11.92' height='0.90' fill='#e8a0b4'/><rect x='247.80' y='378.20' width='11.92' height='0.90' fill='#b4acdc'/><rect x='247.80' y='379.10' width='11.92' height='0.70' fill='#eab0c4'/><rect x='247.80' y='379.80' width='11.92' height='1.10' fill='#c0a4d8'/><rect x='247.80' y='380.90' width='11.92' height='0.50' fill='#c8a8d8'/><rect x='247.80' y='381.40' width='11.92' height='0.70' fill='#e0a0c0'/><rect x='247.80' y='382.10' width='11.92' height='0.70' fill='#c8a8d8'/><rect x='247.80' y='382.80' width='11.92' height='0.50' fill='#acb0e6'/><rect x='247.80' y='383.30' width='11.92' height='0.90' fill='#b8a8e0'/><rect x='247.80' y='384.20' width='11.92' height='0.90' fill='#b8a8e0'/><rect x='247.80' y='385.10' width='11.92' height='0.70' fill='#b4acdc'/><rect x='247.80' y='385.80' width='11.92' height='0.70' fill='#c0a4d8'/><rect x='247.80' y='386.50' width='11.92' height='1.10' fill='#eab0c4'/><rect x='247.80' y='387.60' width='11.92' height='0.50' fill='#e8a0b4'/><rect x='247.80' y='388.10' width='11.92' height='0.90' fill='#b4acdc'/><rect x='247.80' y='389.00' width='11.92' height='0.70' fill='#b4acdc'/><rect x='247.80' y='389.70' width='11.92' height='0.50' fill='#c0a4d8'/><rect x='247.80' y='390.20' width='11.92' height='0.50' fill='#e0a0c0'/><rect x='247.80' y='390.70' width='11.92' height='0.50' fill='#e0a0c0'/><rect x='247.80' y='391.20' width='11.92' height='0.70' fill='#c8a8d8'/><rect x='247.80' y='391.90' width='11.92' height='0.90' fill='#c8a8d8'/><rect x='247.80' y='392.80' width='11.92' height='0.70' fill='#c0a4d8'/><rect x='247.80' y='393.50' width='11.92' height='0.90' fill='#acb0e6'/><rect x='247.80' y='394.40' width='11.92' height='1.10' fill='#b8a8e0'/><rect x='247.80' y='395.50' width='11.92' height='1.10' fill='#e8a0b4'/><rect x='247.80' y='396.60' width='11.92' height='0.50' fill='#acb0e6'/><rect x='247.80' y='397.10' width='11.92' height='0.50' fill='#c0a4d8'/><rect x='247.80' y='397.60' width='11.92' height='0.90' fill='#e0a0c0'/><rect x='247.80' y='398.50' width='11.92' height='0.70' fill='#e0a0c0'/><rect x='247.80' y='399.20' width='11.92' height='0.70' fill='#b4acdc'/><rect x='247.80' y='399.90' width='11.92' height='0.90' fill='#acb0e6'/><rect x='247.80' y='400.80' width='11.92' height='0.50' fill='#e0a0c0'/><rect x='247.80' y='401.30' width='11.92' height='0.50' fill='#b8a8e0'/><rect x='247.80' y='401.80' width='11.92' height='0.70' fill='#eab0c4'/><rect x='247.80' y='402.50' width='11.92' height='0.50' fill='#e8a0b4'/><rect x='247.80' y='403.00' width='11.92' height='0.90' fill='#e8a0b4'/><rect x='247.80' y='403.90' width='11.92' height='0.70' fill='#eab0c4'/><rect x='247.80' y='404.60' width='11.92' height='0.90' fill='#e48aa8'/><rect x='247.80' y='405.50' width='11.92' height='0.50' fill='#acb0e6'/><rect x='247.80' y='406.00' width='11.92' height='0.90' fill='#b8a8e0'/><rect x='247.80' y='406.90' width='11.92' height='0.70' fill='#acb0e6'/><rect x='247.80' y='407.60' width='11.92' height='1.10' fill='#acb0e6'/><rect x='247.80' y='408.70' width='11.92' height='1.10' fill='#e0a0c0'/><rect x='247.80' y='409.80' width='11.92' height='0.50' fill='#d890b8'/><rect x='247.80' y='410.30' width='11.92' height='0.90' fill='#e0a0c0'/><rect x='247.80' y='411.20' width='11.92' height='1.10' fill='#b8a8e0'/><rect x='247.80' y='412.30' width='11.92' height='0.50' fill='#c8a8d8'/><rect x='247.80' y='412.80' width='11.92' height='0.50' fill='#c8a8d8'/><rect x='247.80' y='413.30' width='11.92' height='1.10' fill='#acb0e6'/><rect x='247.80' y='414.40' width='11.92' height='1.10' fill='#b8a8e0'/><rect x='247.80' y='415.50' width='11.92' height='0.70' fill='#eab0c4'/><rect x='247.80' y='416.20' width='11.92' height='1.10' fill='#c0a4d8'/><rect x='247.80' y='417.30' width='11.92' height='0.50' fill='#e8a0b4'/><rect x='247.80' y='417.80' width='11.92' height='1.10' fill='#b4acdc'/><rect x='247.80' y='418.90' width='11.92' height='1.10' fill='#d890b8'/><rect x='247.80' y='420.00' width='11.92' height='0.50' fill='#e8a0b4'/><rect x='247.80' y='420.50' width='11.92' height='0.90' fill='#e0a0c0'/><rect x='247.80' y='421.40' width='11.92' height='1.10' fill='#d890b8'/><rect x='247.80' y='422.50' width='11.92' height='0.70' fill='#d890b8'/><rect x='247.80' y='423.20' width='11.92' height='0.90' fill='#eab0c4'/><rect x='247.80' y='424.10' width='11.92' height='0.90' fill='#d890b8'/><rect x='247.80' y='425.00' width='11.92' height='1.10' fill='#e48aa8'/><rect x='247.80' y='426.10' width='11.92' height='0.50' fill='#b4acdc'/><rect x='247.80' y='426.60' width='11.92' height='0.50' fill='#b8a8e0'/><rect x='247.80' y='427.10' width='11.92' height='0.70' fill='#b4acdc'/><rect x='247.80' y='427.80' width='11.92' height='0.70' fill='#acb0e6'/><rect x='247.80' y='428.50' width='11.92' height='1.10' fill='#c0a4d8'/><rect x='247.80' y='429.60' width='11.92' height='0.50' fill='#c0a4d8'/><rect x='247.80' y='430.10' width='11.92' height='0.70' fill='#b8a8e0'/><rect x='247.80' y='430.80' width='11.92' height='1.10' fill='#b8a8e0'/><rect x='247.80' y='431.90' width='11.92' height='1.10' fill='#e0a0c0'/><rect x='247.80' y='433.00' width='11.92' height='0.90' fill='#acb0e6'/><rect x='247.80' y='433.90' width='11.92' height='0.70' fill='#eab0c4'/><rect x='247.80' y='434.60' width='11.92' height='0.70' fill='#c8a8d8'/><rect x='247.80' y='435.30' width='11.92' height='0.50' fill='#b8a8e0'/><rect x='247.80' y='435.80' width='11.92' height='0.90' fill='#acb0e6'/><rect x='247.80' y='436.70' width='11.92' height='0.50' fill='#b4acdc'/><rect x='247.80' y='437.20' width='11.92' height='1.10' fill='#acb0e6'/><rect x='247.80' y='438.30' width='11.92' height='0.70' fill='#d890b8'/><rect x='247.80' y='439.00' width='11.92' height='0.70' fill='#d890b8'/><rect x='247.80' y='439.70' width='11.92' height='0.90' fill='#eab0c4'/><rect x='247.80' y='440.60' width='11.92' height='0.50' fill='#c0a4d8'/><rect x='247.80' y='441.10' width='11.92' height='1.10' fill='#b8a8e0'/><rect x='247.80' y='442.20' width='11.92' height='0.90' fill='#acb0e6'/><rect x='247.80' y='443.10' width='11.92' height='0.50' fill='#eab0c4'/><rect x='247.80' y='443.60' width='11.92' height='1.10' fill='#b4acdc'/><rect x='247.80' y='444.70' width='11.92' height='1.10' fill='#e8a0b4'/><rect x='247.80' y='445.80' width='11.92' height='0.50' fill='#d890b8'/><rect x='247.80' y='446.30' width='11.92' height='0.70' fill='#b4acdc'/><rect x='247.80' y='447.00' width='11.92' height='0.70' fill='#b8a8e0'/><rect x='247.80' y='447.70' width='11.92' height='0.70' fill='#e8a0b4'/><rect x='247.80' y='448.40' width='11.92' height='0.50' fill='#c8a8d8'/><rect x='247.80' y='448.90' width='11.92' height='1.10' fill='#e48aa8'/><rect x='247.80' y='450.00' width='11.92' height='0.70' fill='#c0a4d8'/><rect x='247.80' y='450.70' width='11.92' height='1.10' fill='#d890b8'/><rect x='247.80' y='451.80' width='11.92' height='0.50' fill='#c0a4d8'/><rect x='247.80' y='452.30' width='11.92' height='0.50' fill='#e8a0b4'/><rect x='247.80' y='452.80' width='11.92' height='0.70' fill='#b4acdc'/><rect x='247.80' y='453.50' width='11.92' height='1.10' fill='#b4acdc'/><rect x='247.80' y='454.60' width='11.92' height='0.50' fill='#c8a8d8'/><rect x='247.80' y='455.10' width='11.92' height='0.90' fill='#b4acdc'/><rect x='247.80' y='456.00' width='11.92' height='0.70' fill='#b4acdc'/><rect x='247.80' y='456.70' width='11.92' height='0.90' fill='#acb0e6'/><rect x='247.80' y='457.60' width='11.92' height='0.90' fill='#c8a8d8'/><rect x='247.80' y='458.50' width='11.92' height='0.90' fill='#c0a4d8'/><rect x='247.80' y='459.40' width='11.92' height='0.50' fill='#b8a8e0'/><rect x='247.80' y='459.90' width='11.92' height='1.10' fill='#eab0c4'/><rect x='247.80' y='461.00' width='11.92' height='0.50' fill='#c0a4d8'/><rect x='247.80' y='461.50' width='11.92' height='0.70' fill='#c0a4d8'/><rect x='247.80' y='462.20' width='11.92' height='0.70' fill='#b8a8e0'/><rect x='247.80' y='462.90' width='11.92' height='0.70' fill='#c8a8d8'/><rect x='247.80' y='463.60' width='11.92' height='0.70' fill='#acb0e6'/><rect x='247.80' y='464.30' width='11.92' height='0.90' fill='#c0a4d8'/><rect x='247.80' y='465.20' width='11.92' height='1.10' fill='#c0a4d8'/><rect x='247.80' y='466.30' width='11.92' height='0.70' fill='#acb0e6'/><rect x='247.80' y='467.00' width='11.92' height='0.90' fill='#e48aa8'/><rect x='247.80' y='467.90' width='11.92' height='0.70' fill='#b4acdc'/><rect x='247.80' y='468.60' width='11.92' height='1.10' fill='#c8a8d8'/><rect x='247.80' y='469.70' width='11.92' height='1.10' fill='#b4acdc'/><rect x='247.80' y='470.80' width='11.92' height='0.90' fill='#d890b8'/><rect x='247.80' y='471.70' width='11.92' height='0.90' fill='#d890b8'/><rect x='247.80' y='472.60' width='11.92' height='0.50' fill='#acb0e6'/><rect x='247.80' y='473.10' width='11.92' height='1.10' fill='#eab0c4'/><rect x='247.80' y='474.20' width='11.92' height='0.70' fill='#b4acdc'/><rect x='247.80' y='474.90' width='11.92' height='0.70' fill='#eab0c4'/><rect x='247.80' y='475.60' width='11.92' height='0.90' fill='#e0a0c0'/><rect x='247.80' y='476.50' width='11.92' height='1.10' fill='#b4acdc'/><rect x='247.80' y='477.60' width='11.92' height='0.50' fill='#e0a0c0'/><rect x='247.80' y='478.10' width='11.92' height='1.10' fill='#c0a4d8'/><rect x='247.80' y='479.20' width='11.92' height='0.50' fill='#e0a0c0'/><rect x='247.80' y='479.70' width='11.92' height='0.70' fill='#e8a0b4'/><rect x='247.80' y='480.40' width='11.92' height='0.10' fill='#e8a0b4'/><rect x='188.20' y='323.20' width='11.92' height='7.60' fill='none' stroke='#222' stroke-width='0.55' stroke-dasharray='0.8,0.7'/><rect x='200.12' y='331.50' width='11.92' height='42.70' fill='none' stroke='#222' stroke-width='0.55' stroke-dasharray='0.8,0.7'/><rect x='212.04' y='375.20' width='11.92' height='29.80' fill='none' stroke='#222' stroke-width='0.55' stroke-dasharray='0.8,0.7'/><rect x='223.96' y='406.00' width='11.92' height='4.00' fill='none' stroke='#222' stroke-width='0.55' stroke-dasharray='0.8,0.7'/><rect x='235.88' y='411.00' width='11.92' height='9.40' fill='none' stroke='#222' stroke-width='0.55' stroke-dasharray='0.8,0.7'/><rect x='247.80' y='421.90' width='11.92' height='58.60' fill='none' stroke='#222' stroke-width='0.55' stroke-dasharray='0.8,0.7'/><rect x='188.20' y='405.10' width='71.52' height='0.80' fill='#f2eaf2' /><text x='193.16' y='487.40' font-size='7.0' fill='#000' text-anchor='middle' >D0</text><text x='205.08' y='487.40' font-size='7.0' fill='#000' text-anchor='middle' >D1</text><text x='217.00' y='487.40' font-size='7.0' fill='#000' text-anchor='middle' >D3</text><text x='228.92' y='487.40' font-size='7.0' fill='#000' text-anchor='middle' >D5</text><text x='240.84' y='487.40' font-size='7.0' fill='#000' text-anchor='middle' >D7</text><text x='253.76' y='487.40' font-size='7.0' fill='#000' text-anchor='middle' >iPSC</text><text x='269.20' y='315.40' font-size='13.9' fill='#000' text-anchor='start' >H</text><text x='289.20' y='310.80' font-size='6.6' fill='#000' text-anchor='start' >Gene Expression</text><rect x='288.30' y='314.20' width='35.70' height='3.90' fill='url(#hg)' /><text x='289.20' y='322.60' font-size='5.6' fill='#000' text-anchor='middle' >0</text><text x='323.40' y='322.60' font-size='5.6' fill='#000' text-anchor='middle' >1</text><rect x='288.20' y='323.20' width='73.62' height='129.80' fill='#4a6df0' /><rect x='288.05' y='453.00' width='12.57' height='1.25' fill='#5e80f0'/><rect x='300.32' y='453.00' width='12.57' height='1.25' fill='#587af0'/><rect x='312.59' y='453.00' width='12.57' height='1.25' fill='#587af0'/><rect x='324.86' y='453.00' width='12.57' height='1.25' fill='#587af0'/><rect x='337.13' y='453.00' width='12.57' height='1.25' fill='#587af0'/><rect x='349.40' y='453.00' width='12.57' height='1.25' fill='#587af0'/><rect x='288.05' y='454.20' width='12.57' height='0.95' fill='#5e80f0'/><rect x='300.32' y='454.20' width='12.57' height='0.95' fill='#5a7cf0'/><rect x='312.59' y='454.20' width='12.57' height='0.95' fill='#6486f0'/><rect x='324.86' y='454.20' width='12.57' height='0.95' fill='#587af0'/><rect x='337.13' y='454.20' width='12.57' height='0.95' fill='#6c8cf0'/><rect x='349.40' y='454.20' width='12.57' height='0.95' fill='#6486f0'/><rect x='288.05' y='455.10' width='12.57' height='1.25' fill='#6486f0'/><rect x='300.32' y='455.10' width='12.57' height='1.25' fill='#5a7cf0'/><rect x='312.59' y='455.10' width='12.57' height='1.25' fill='#5a7cf0'/><rect x='324.86' y='455.10' width='12.57' height='1.25' fill='#6486f0'/><rect x='337.13' y='455.10' width='12.57' height='1.25' fill='#6486f0'/><rect x='349.40' y='455.10' width='12.57' height='1.25' fill='#587af0'/><rect x='288.05' y='456.30' width='12.57' height='0.95' fill='#6486f0'/><rect x='300.32' y='456.30' width='12.57' height='0.95' fill='#5e80f0'/><rect x='312.59' y='456.30' width='12.57' height='0.95' fill='#6486f0'/><rect x='324.86' y='456.30' width='12.57' height='0.95' fill='#587af0'/><rect x='337.13' y='456.30' width='12.57' height='0.95' fill='#587af0'/><rect x='349.40' y='456.30' width='12.57' height='0.95' fill='#6c8cf0'/><rect x='288.05' y='457.20' width='12.57' height='0.95' fill='#6486f0'/><rect x='300.32' y='457.20' width='12.57' height='0.95' fill='#5e80f0'/><rect x='312.59' y='457.20' width='12.57' height='0.95' fill='#6486f0'/><rect x='324.86' y='457.20' width='12.57' height='0.95' fill='#6486f0'/><rect x='337.13' y='457.20' width='12.57' height='0.95' fill='#6c8cf0'/><rect x='349.40' y='457.20' width='12.57' height='0.95' fill='#5a7cf0'/><rect x='288.05' y='458.10' width='12.57' height='0.95' fill='#5e80f0'/><rect x='300.32' y='458.10' width='12.57' height='0.95' fill='#6c8cf0'/><rect x='312.59' y='458.10' width='12.57' height='0.95' fill='#6c8cf0'/><rect x='324.86' y='458.10' width='12.57' height='0.95' fill='#587af0'/><rect x='337.13' y='458.10' width='12.57' height='0.95' fill='#5e80f0'/><rect x='349.40' y='458.10' width='12.57' height='0.95' fill='#5a7cf0'/><rect x='288.05' y='459.00' width='12.57' height='1.25' fill='#6486f0'/><rect x='300.32' y='459.00' width='12.57' height='1.25' fill='#587af0'/><rect x='312.59' y='459.00' width='12.57' height='1.25' fill='#5e80f0'/><rect x='324.86' y='459.00' width='12.57' height='1.25' fill='#6486f0'/><rect x='337.13' y='459.00' width='12.57' height='1.25' fill='#587af0'/><rect x='349.40' y='459.00' width='12.57' height='1.25' fill='#5a7cf0'/><rect x='288.05' y='460.20' width='12.57' height='0.95' fill='#587af0'/><rect x='300.32' y='460.20' width='12.57' height='0.95' fill='#6c8cf0'/><rect x='312.59' y='460.20' width='12.57' height='0.95' fill='#5e80f0'/><rect x='324.86' y='460.20' width='12.57' height='0.95' fill='#5e80f0'/><rect x='337.13' y='460.20' width='12.57' height='0.95' fill='#5a7cf0'/><rect x='349.40' y='460.20' width='12.57' height='0.95' fill='#5a7cf0'/><rect x='288.05' y='461.10' width='12.57' height='0.95' fill='#6c8cf0'/><rect x='300.32' y='461.10' width='12.57' height='0.95' fill='#587af0'/><rect x='312.59' y='461.10' width='12.57' height='0.95' fill='#5a7cf0'/><rect x='324.86' y='461.10' width='12.57' height='0.95' fill='#6c8cf0'/><rect x='337.13' y='461.10' width='12.57' height='0.95' fill='#5a7cf0'/><rect x='349.40' y='461.10' width='12.57' height='0.95' fill='#5e80f0'/><rect x='288.05' y='462.00' width='12.57' height='0.95' fill='#5e80f0'/><rect x='300.32' y='462.00' width='12.57' height='0.95' fill='#6c8cf0'/><rect x='312.59' y='462.00' width='12.57' height='0.95' fill='#5e80f0'/><rect x='324.86' y='462.00' width='12.57' height='0.95' fill='#587af0'/><rect x='337.13' y='462.00' width='12.57' height='0.95' fill='#5a7cf0'/><rect x='349.40' y='462.00' width='12.57' height='0.95' fill='#5e80f0'/><rect x='288.05' y='462.90' width='12.57' height='1.25' fill='#6c8cf0'/><rect x='300.32' y='462.90' width='12.57' height='1.25' fill='#5a7cf0'/><rect x='312.59' y='462.90' width='12.57' height='1.25' fill='#6c8cf0'/><rect x='324.86' y='462.90' width='12.57' height='1.25' fill='#6c8cf0'/><rect x='337.13' y='462.90' width='12.57' height='1.25' fill='#6486f0'/><rect x='349.40' y='462.90' width='12.57' height='1.25' fill='#587af0'/><rect x='288.05' y='464.10' width='12.57' height='0.95' fill='#5e80f0'/><rect x='300.32' y='464.10' width='12.57' height='0.95' fill='#587af0'/><rect x='312.59' y='464.10' width='12.57' height='0.95' fill='#5e80f0'/><rect x='324.86' y='464.10' width='12.57' height='0.95' fill='#6c8cf0'/><rect x='337.13' y='464.10' width='12.57' height='0.95' fill='#6486f0'/><rect x='349.40' y='464.10' width='12.57' height='0.95' fill='#5e80f0'/><rect x='288.05' y='465.00' width='12.57' height='1.55' fill='#5a7cf0'/><rect x='300.32' y='465.00' width='12.57' height='1.55' fill='#6c8cf0'/><rect x='312.59' y='465.00' width='12.57' height='1.55' fill='#5e80f0'/><rect x='324.86' y='465.00' width='12.57' height='1.55' fill='#5e80f0'/><rect x='337.13' y='465.00' width='12.57' height='1.55' fill='#5e80f0'/><rect x='349.40' y='465.00' width='12.57' height='1.55' fill='#6486f0'/><rect x='288.05' y='466.50' width='12.57' height='1.55' fill='#6486f0'/><rect x='300.32' y='466.50' width='12.57' height='1.55' fill='#5e80f0'/><rect x='312.59' y='466.50' width='12.57' height='1.55' fill='#5e80f0'/><rect x='324.86' y='466.50' width='12.57' height='1.55' fill='#587af0'/><rect x='337.13' y='466.50' width='12.57' height='1.55' fill='#5e80f0'/><rect x='349.40' y='466.50' width='12.57' height='1.55' fill='#5a7cf0'/><rect x='288.05' y='468.00' width='12.57' height='1.25' fill='#6486f0'/><rect x='300.32' y='468.00' width='12.57' height='1.25' fill='#5a7cf0'/><rect x='312.59' y='468.00' width='12.57' height='1.25' fill='#6486f0'/><rect x='324.86' y='468.00' width='12.57' height='1.25' fill='#6c8cf0'/><rect x='337.13' y='468.00' width='12.57' height='1.25' fill='#6486f0'/><rect x='349.40' y='468.00' width='12.57' height='1.25' fill='#587af0'/><rect x='288.05' y='469.20' width='12.57' height='1.55' fill='#6486f0'/><rect x='300.32' y='469.20' width='12.57' height='1.55' fill='#587af0'/><rect x='312.59' y='469.20' width='12.57' height='1.55' fill='#6486f0'/><rect x='324.86' y='469.20' width='12.57' height='1.55' fill='#587af0'/><rect x='337.13' y='469.20' width='12.57' height='1.55' fill='#6486f0'/><rect x='349.40' y='469.20' width='12.57' height='1.55' fill='#6c8cf0'/><rect x='288.05' y='470.70' width='12.57' height='0.95' fill='#5e80f0'/><rect x='300.32' y='470.70' width='12.57' height='0.95' fill='#5e80f0'/><rect x='312.59' y='470.70' width='12.57' height='0.95' fill='#5e80f0'/><rect x='324.86' y='470.70' width='12.57' height='0.95' fill='#5a7cf0'/><rect x='337.13' y='470.70' width='12.57' height='0.95' fill='#587af0'/><rect x='349.40' y='470.70' width='12.57' height='0.95' fill='#5e80f0'/><rect x='288.05' y='471.60' width='12.57' height='1.25' fill='#587af0'/><rect x='300.32' y='471.60' width='12.57' height='1.25' fill='#6c8cf0'/><rect x='312.59' y='471.60' width='12.57' height='1.25' fill='#6c8cf0'/><rect x='324.86' y='471.60' width='12.57' height='1.25' fill='#6486f0'/><rect x='337.13' y='471.60' width='12.57' height='1.25' fill='#5a7cf0'/><rect x='349.40' y='471.60' width='12.57' height='1.25' fill='#6c8cf0'/><rect x='288.05' y='472.80' width='12.57' height='1.25' fill='#587af0'/><rect x='300.32' y='472.80' width='12.57' height='1.25' fill='#587af0'/><rect x='312.59' y='472.80' width='12.57' height='1.25' fill='#587af0'/><rect x='324.86' y='472.80' width='12.57' height='1.25' fill='#6c8cf0'/><rect x='337.13' y='472.80' width='12.57' height='1.25' fill='#5a7cf0'/><rect x='349.40' y='472.80' width='12.57' height='1.25' fill='#5a7cf0'/><rect x='288.05' y='474.00' width='12.57' height='1.25' fill='#587af0'/><rect x='300.32' y='474.00' width='12.57' height='1.25' fill='#6486f0'/><rect x='312.59' y='474.00' width='12.57' height='1.25' fill='#6c8cf0'/><rect x='324.86' y='474.00' width='12.57' height='1.25' fill='#5e80f0'/><rect x='337.13' y='474.00' width='12.57' height='1.25' fill='#5a7cf0'/><rect x='349.40' y='474.00' width='12.57' height='1.25' fill='#6486f0'/><rect x='288.20' y='474.80' width='73.62' height='5.70' fill='#d4d4d9' /><rect x='288.10' y='474.80' width='12.47' height='0.80' fill='#4a6df0' /><rect x='300.37' y='475.80' width='12.47' height='0.80' fill='#4a6df0' /><rect x='312.64' y='476.80' width='12.47' height='0.80' fill='#4a6df0' /><rect x='324.91' y='477.60' width='12.47' height='0.80' fill='#4a6df0' /><rect x='337.18' y='478.60' width='12.47' height='0.80' fill='#4a6df0' /><rect x='349.45' y='479.60' width='12.47' height='0.80' fill='#4a6df0' /><text x='293.33' y='487.40' font-size='7.0' fill='#000' text-anchor='middle' >D0</text><text x='305.61' y='487.40' font-size='7.0' fill='#000' text-anchor='middle' >D1</text><text x='317.88' y='487.40' font-size='7.0' fill='#000' text-anchor='middle' >D3</text><text x='330.14' y='487.40' font-size='7.0' fill='#000' text-anchor='middle' >D5</text><text x='342.41' y='487.40' font-size='7.0' fill='#000' text-anchor='middle' >D7</text><text x='355.69' y='487.40' font-size='7.0' fill='#000' text-anchor='middle' >iPSC</text><polygon points='365.00,458.15 370.00,458.15 370.00,455.70 374.20,460.40 370.00,465.10 370.00,462.65 365.00,462.65' fill='#000'/><text x='377.40' y='310.80' font-size='6.6' fill='#000' text-anchor='start' >Gene Expression</text><rect x='376.50' y='314.20' width='35.70' height='3.90' fill='url(#hg)' /><text x='377.40' y='322.60' font-size='5.6' fill='#000' text-anchor='middle' >0</text><text x='411.60' y='322.60' font-size='5.6' fill='#000' text-anchor='middle' >1</text><rect x='375.60' y='323.20' width='71.70' height='157.30' fill='#d4d4d9' /><rect x='375.60' y='323.20' width='11.95' height='15.60' fill='#4a6df0' /><rect x='387.55' y='340.30' width='11.95' height='27.50' fill='#4a6df0' /><rect x='399.50' y='368.90' width='11.95' height='22.00' fill='#4a6df0' /><rect x='411.45' y='391.60' width='11.95' height='30.30' fill='#4a6df0' /><rect x='423.40' y='423.30' width='11.95' height='23.60' fill='#4a6df0' /><rect x='435.35' y='448.20' width='11.95' height='32.30' fill='#4a6df0' /><rect x='375.60' y='339.05' width='71.70' height='0.90' fill='#f4f4f6' /><rect x='375.60' y='367.85' width='71.70' height='0.90' fill='#f4f4f6' /><rect x='375.60' y='390.75' width='71.70' height='0.90' fill='#f4f4f6' /><rect x='375.60' y='422.15' width='71.70' height='0.90' fill='#f4f4f6' /><rect x='375.60' y='447.15' width='71.70' height='0.90' fill='#f4f4f6' /><text x='396.20' y='333.90' font-size='7.2' fill='#000' text-anchor='middle' >11%</text><text x='408.60' y='356.80' font-size='7.2' fill='#000' text-anchor='middle' >18%</text><text x='421.00' y='382.00' font-size='7.2' fill='#000' text-anchor='middle' >14%</text><text x='433.50' y='409.50' font-size='7.2' fill='#000' text-anchor='middle' >20%</text><text x='442.70' y='437.30' font-size='7.2' fill='#000' text-anchor='middle' >15%</text><text x='426.30' y='469.10' font-size='7.2' fill='#000' text-anchor='middle' >22%</text><text x='380.58' y='487.40' font-size='7.0' fill='#000' text-anchor='middle' >D0</text><text x='392.53' y='487.40' font-size='7.0' fill='#000' text-anchor='middle' >D1</text><text x='404.48' y='487.40' font-size='7.0' fill='#000' text-anchor='middle' >D3</text><text x='416.43' y='487.40' font-size='7.0' fill='#000' text-anchor='middle' >D5</text><text x='428.38' y='487.40' font-size='7.0' fill='#000' text-anchor='middle' >D7</text><text x='441.33' y='487.40' font-size='7.0' fill='#000' text-anchor='middle' >iPSC</text><text x='453.70' y='310.80' font-size='6.15' fill='#000' text-anchor='start' >Zscore (R-loop Signals)</text><rect x='454.60' y='314.20' width='38.40' height='3.90' fill='url(#zg)' /><text x='455.80' y='322.60' font-size='5.6' fill='#000' text-anchor='middle' >-2</text><text x='465.80' y='322.60' font-size='5.6' fill='#000' text-anchor='middle' >-1</text><text x='475.20' y='322.60' font-size='5.6' fill='#000' text-anchor='middle' >0</text><text x='484.10' y='322.60' font-size='5.6' fill='#000' text-anchor='middle' >1</text><text x='492.70' y='322.60' font-size='5.6' fill='#000' text-anchor='middle' >2</text><rect x='454.60' y='323.20' width='12.05' height='1.30' fill='#8aa4f0'/><rect x='454.60' y='324.50' width='12.05' height='1.00' fill='#d0b0d8'/><rect x='454.60' y='325.50' width='12.05' height='1.00' fill='#b4c4f0'/><rect x='454.60' y='326.50' width='12.05' height='1.30' fill='#f4b8c0'/><rect x='454.60' y='327.80' width='12.05' height='0.80' fill='#e8a0b0'/><rect x='454.60' y='328.60' width='12.05' height='0.80' fill='#dcc0dc'/><rect x='454.60' y='329.40' width='12.05' height='0.60' fill='#f0a8b0'/><rect x='454.60' y='330.00' width='12.05' height='1.00' fill='#f0a8b0'/><rect x='454.60' y='331.00' width='12.05' height='0.80' fill='#f0a8b0'/><rect x='454.60' y='331.80' width='12.05' height='0.60' fill='#dcc0dc'/><rect x='454.60' y='332.40' width='12.05' height='0.80' fill='#d0b0d8'/><rect x='454.60' y='333.20' width='12.05' height='0.60' fill='#e8a0b0'/><rect x='454.60' y='333.80' width='12.05' height='1.30' fill='#e88890'/><rect x='454.60' y='335.10' width='12.05' height='1.30' fill='#8aa4f0'/><rect x='454.60' y='336.40' width='12.05' height='1.00' fill='#e88890'/><rect x='454.60' y='337.40' width='12.05' height='1.30' fill='#b4c4f0'/><rect x='454.60' y='338.70' width='12.05' height='0.60' fill='#dcc0dc'/><rect x='454.60' y='339.30' width='12.05' height='1.30' fill='#a8bcf0'/><rect x='454.60' y='340.60' width='12.05' height='1.00' fill='#8aa4f0'/><rect x='454.60' y='341.60' width='12.05' height='0.80' fill='#a8bcf0'/><rect x='454.60' y='342.40' width='12.05' height='0.80' fill='#8aa4f0'/><rect x='454.60' y='343.20' width='12.05' height='0.60' fill='#c8c4ec'/><rect x='454.60' y='343.80' width='12.05' height='1.00' fill='#b4c4f0'/><rect x='454.60' y='344.80' width='12.05' height='1.00' fill='#d0b0d8'/><rect x='454.60' y='345.80' width='12.05' height='0.80' fill='#c8c4ec'/><rect x='454.60' y='346.60' width='12.05' height='1.00' fill='#dcc0dc'/><rect x='454.60' y='347.60' width='12.05' height='1.00' fill='#d0b0d8'/><rect x='454.60' y='348.60' width='12.05' height='1.30' fill='#f0a8b0'/><rect x='454.60' y='349.90' width='12.05' height='0.80' fill='#b4c4f0'/><rect x='454.60' y='350.70' width='12.05' height='1.00' fill='#b4c4f0'/><rect x='454.60' y='351.70' width='12.05' height='1.00' fill='#f4b8c0'/><rect x='454.60' y='352.70' width='12.05' height='1.00' fill='#98b4f0'/><rect x='454.60' y='353.70' width='12.05' height='1.00' fill='#8aa4f0'/><rect x='454.60' y='354.70' width='12.05' height='1.30' fill='#e88890'/><rect x='454.60' y='356.00' width='12.05' height='0.60' fill='#8aa4f0'/><rect x='454.60' y='356.60' width='12.05' height='0.80' fill='#d0b0d8'/><rect x='454.60' y='357.40' width='12.05' height='0.60' fill='#d0b0d8'/><rect x='454.60' y='358.00' width='12.05' height='0.80' fill='#98b4f0'/><rect x='454.60' y='358.80' width='12.05' height='1.00' fill='#98b4f0'/><rect x='454.60' y='359.80' width='12.05' height='1.30' fill='#98b4f0'/><rect x='454.60' y='361.10' width='12.05' height='0.80' fill='#dcc0dc'/><rect x='454.60' y='361.90' width='12.05' height='1.00' fill='#b4c4f0'/><rect x='454.60' y='362.90' width='12.05' height='1.00' fill='#a8bcf0'/><rect x='454.60' y='363.90' width='12.05' height='1.00' fill='#a8bcf0'/><rect x='454.60' y='364.90' width='12.05' height='0.60' fill='#c8c4ec'/><rect x='454.60' y='365.50' width='12.05' height='1.30' fill='#8aa4f0'/><rect x='454.60' y='366.80' width='12.05' height='1.30' fill='#a8bcf0'/><rect x='454.60' y='368.10' width='12.05' height='1.00' fill='#b4c4f0'/><rect x='454.60' y='369.10' width='12.05' height='0.60' fill='#f0a8b0'/><rect x='454.60' y='369.70' width='12.05' height='0.60' fill='#f0a8b0'/><rect x='454.60' y='370.30' width='12.05' height='0.60' fill='#b4c4f0'/><rect x='454.60' y='370.90' width='12.05' height='0.80' fill='#d0b0d8'/><rect x='454.60' y='371.70' width='12.05' height='1.30' fill='#f07880'/><rect x='454.60' y='373.00' width='12.05' height='1.30' fill='#dcc0dc'/><rect x='454.60' y='374.30' width='12.05' height='1.30' fill='#f4b8c0'/><rect x='454.60' y='375.60' width='12.05' height='1.00' fill='#98b4f0'/><rect x='454.60' y='376.60' width='12.05' height='0.60' fill='#c8c4ec'/><rect x='454.60' y='377.20' width='12.05' height='0.60' fill='#8aa4f0'/><rect x='454.60' y='377.80' width='12.05' height='0.60' fill='#d0b0d8'/><rect x='454.60' y='378.40' width='12.05' height='0.80' fill='#f4b8c0'/><rect x='454.60' y='379.20' width='12.05' height='1.00' fill='#d0b0d8'/><rect x='454.60' y='380.20' width='12.05' height='0.60' fill='#c8c4ec'/><rect x='454.60' y='380.80' width='12.05' height='0.60' fill='#c8c4ec'/><rect x='454.60' y='381.40' width='12.05' height='1.30' fill='#e88890'/><rect x='454.60' y='382.70' width='12.05' height='1.30' fill='#a8bcf0'/><rect x='454.60' y='384.00' width='12.05' height='1.00' fill='#d0b0d8'/><rect x='454.60' y='385.00' width='12.05' height='1.00' fill='#dcc0dc'/><rect x='454.60' y='386.00' width='12.05' height='0.60' fill='#dcc0dc'/><rect x='454.60' y='386.60' width='12.05' height='1.30' fill='#dcc0dc'/><rect x='454.60' y='387.90' width='12.05' height='0.60' fill='#a8bcf0'/><rect x='454.60' y='388.50' width='12.05' height='1.00' fill='#f4b8c0'/><rect x='454.60' y='389.50' width='12.05' height='0.80' fill='#c8c4ec'/><rect x='454.60' y='390.30' width='12.05' height='0.60' fill='#a8bcf0'/><rect x='454.60' y='390.90' width='12.05' height='1.30' fill='#c8c4ec'/><rect x='454.60' y='392.20' width='12.05' height='0.80' fill='#dcc0dc'/><rect x='454.60' y='393.00' width='12.05' height='0.60' fill='#98b4f0'/><rect x='454.60' y='393.60' width='12.05' height='0.60' fill='#a8bcf0'/><rect x='454.60' y='394.20' width='12.05' height='0.60' fill='#d0b0d8'/><rect x='454.60' y='394.80' width='12.05' height='0.80' fill='#a8bcf0'/><rect x='454.60' y='395.60' width='12.05' height='0.80' fill='#dcc0dc'/><rect x='454.60' y='396.40' width='12.05' height='1.30' fill='#8aa4f0'/><rect x='454.60' y='397.70' width='12.05' height='0.80' fill='#98b4f0'/><rect x='454.60' y='398.50' width='12.05' height='1.00' fill='#e88890'/><rect x='454.60' y='399.50' width='12.05' height='1.30' fill='#f0a8b0'/><rect x='454.60' y='400.80' width='12.05' height='1.00' fill='#a8bcf0'/><rect x='454.60' y='401.80' width='12.05' height='0.80' fill='#a8bcf0'/><rect x='454.60' y='402.60' width='12.05' height='0.80' fill='#e88890'/><rect x='454.60' y='403.40' width='12.05' height='0.80' fill='#d0b0d8'/><rect x='454.60' y='404.20' width='12.05' height='0.60' fill='#d0b0d8'/><rect x='454.60' y='404.80' width='12.05' height='0.80' fill='#f07880'/><rect x='454.60' y='405.60' width='12.05' height='0.60' fill='#b4c4f0'/><rect x='454.60' y='406.20' width='12.05' height='1.30' fill='#b4c4f0'/><rect x='454.60' y='407.50' width='12.05' height='1.30' fill='#f07880'/><rect x='454.60' y='408.80' width='12.05' height='0.80' fill='#c8c4ec'/><rect x='454.60' y='409.60' width='12.05' height='1.00' fill='#dcc0dc'/><rect x='454.60' y='410.60' width='12.05' height='0.80' fill='#a8bcf0'/><rect x='454.60' y='411.40' width='12.05' height='0.80' fill='#98b4f0'/><rect x='454.60' y='412.20' width='12.05' height='1.30' fill='#e88890'/><rect x='454.60' y='413.50' width='12.05' height='0.80' fill='#e88890'/><rect x='454.60' y='414.30' width='12.05' height='0.80' fill='#b4c4f0'/><rect x='454.60' y='415.10' width='12.05' height='1.00' fill='#f07880'/><rect x='454.60' y='416.10' width='12.05' height='1.30' fill='#c8c4ec'/><rect x='454.60' y='417.40' width='12.05' height='1.30' fill='#98b4f0'/><rect x='454.60' y='418.70' width='12.05' height='1.30' fill='#8aa4f0'/><rect x='454.60' y='420.00' width='12.05' height='0.80' fill='#a8bcf0'/><rect x='454.60' y='420.80' width='12.05' height='0.60' fill='#f07880'/><rect x='454.60' y='421.40' width='12.05' height='0.60' fill='#f4b8c0'/><rect x='454.60' y='422.00' width='12.05' height='1.30' fill='#dcc0dc'/><rect x='454.60' y='423.30' width='12.05' height='1.30' fill='#8aa4f0'/><rect x='454.60' y='424.60' width='12.05' height='0.60' fill='#dcc0dc'/><rect x='454.60' y='425.20' width='12.05' height='1.30' fill='#d0b0d8'/><rect x='454.60' y='426.50' width='12.05' height='1.30' fill='#c8c4ec'/><rect x='454.60' y='427.80' width='12.05' height='1.00' fill='#dcc0dc'/><rect x='454.60' y='428.80' width='12.05' height='0.60' fill='#a8bcf0'/><rect x='454.60' y='429.40' width='12.05' height='1.00' fill='#8aa4f0'/><rect x='454.60' y='430.40' width='12.05' height='1.00' fill='#d0b0d8'/><rect x='454.60' y='431.40' width='12.05' height='0.80' fill='#a8bcf0'/><rect x='454.60' y='432.20' width='12.05' height='1.30' fill='#98b4f0'/><rect x='454.60' y='433.50' width='12.05' height='0.60' fill='#f0a8b0'/><rect x='454.60' y='434.10' width='12.05' height='1.00' fill='#8aa4f0'/><rect x='454.60' y='435.10' width='12.05' height='1.30' fill='#e8a0b0'/><rect x='454.60' y='436.40' width='12.05' height='0.60' fill='#c8c4ec'/><rect x='454.60' y='437.00' width='12.05' height='1.00' fill='#8aa4f0'/><rect x='454.60' y='438.00' width='12.05' height='0.60' fill='#8aa4f0'/><rect x='454.60' y='438.60' width='12.05' height='1.00' fill='#f07880'/><rect x='454.60' y='439.60' width='12.05' height='0.60' fill='#d0b0d8'/><rect x='454.60' y='440.20' width='12.05' height='0.60' fill='#f4b8c0'/><rect x='454.60' y='440.80' width='12.05' height='1.00' fill='#a8bcf0'/><rect x='454.60' y='441.80' width='12.05' height='1.30' fill='#e88890'/><rect x='454.60' y='443.10' width='12.05' height='0.80' fill='#e88890'/><rect x='454.60' y='443.90' width='12.05' height='0.80' fill='#a8bcf0'/><rect x='454.60' y='444.70' width='12.05' height='0.60' fill='#b4c4f0'/><rect x='454.60' y='445.30' width='12.05' height='0.60' fill='#c8c4ec'/><rect x='454.60' y='445.90' width='12.05' height='0.60' fill='#a8bcf0'/><rect x='454.60' y='446.50' width='12.05' height='1.30' fill='#b4c4f0'/><rect x='454.60' y='447.80' width='12.05' height='1.30' fill='#8aa4f0'/><rect x='454.60' y='449.10' width='12.05' height='1.30' fill='#dcc0dc'/><rect x='454.60' y='450.40' width='12.05' height='0.80' fill='#98b4f0'/><rect x='454.60' y='451.20' width='12.05' height='0.60' fill='#e88890'/><rect x='454.60' y='451.80' width='12.05' height='0.60' fill='#f4b8c0'/><rect x='454.60' y='452.40' width='12.05' height='0.80' fill='#e88890'/><rect x='454.60' y='453.20' width='12.05' height='0.60' fill='#e8a0b0'/><rect x='454.60' y='453.80' width='12.05' height='1.00' fill='#a8bcf0'/><rect x='454.60' y='454.80' width='12.05' height='1.00' fill='#f07880'/><rect x='454.60' y='455.80' width='12.05' height='1.00' fill='#f4b8c0'/><rect x='454.60' y='456.80' width='12.05' height='1.30' fill='#f0a8b0'/><rect x='454.60' y='458.10' width='12.05' height='0.80' fill='#e88890'/><rect x='454.60' y='458.90' width='12.05' height='1.00' fill='#d0b0d8'/><rect x='454.60' y='459.90' width='12.05' height='0.60' fill='#e8a0b0'/><rect x='454.60' y='460.50' width='12.05' height='0.60' fill='#c8c4ec'/><rect x='454.60' y='461.10' width='12.05' height='0.60' fill='#b4c4f0'/><rect x='454.60' y='461.70' width='12.05' height='1.00' fill='#c8c4ec'/><rect x='454.60' y='462.70' width='12.05' height='0.80' fill='#c8c4ec'/><rect x='454.60' y='463.50' width='12.05' height='0.80' fill='#d0b0d8'/><rect x='454.60' y='464.30' width='12.05' height='1.30' fill='#dcc0dc'/><rect x='454.60' y='465.60' width='12.05' height='0.60' fill='#d0b0d8'/><rect x='454.60' y='466.20' width='12.05' height='0.60' fill='#98b4f0'/><rect x='454.60' y='466.80' width='12.05' height='1.30' fill='#a8bcf0'/><rect x='454.60' y='468.10' width='12.05' height='1.30' fill='#8aa4f0'/><rect x='454.60' y='469.40' width='12.05' height='1.00' fill='#c8c4ec'/><rect x='454.60' y='470.40' width='12.05' height='0.80' fill='#f07880'/><rect x='454.60' y='471.20' width='12.05' height='0.80' fill='#e88890'/><rect x='454.60' y='472.00' width='12.05' height='0.60' fill='#d0b0d8'/><rect x='454.60' y='472.60' width='12.05' height='1.00' fill='#e8a0b0'/><rect x='454.60' y='473.60' width='12.05' height='1.00' fill='#98b4f0'/><rect x='454.60' y='474.60' width='12.05' height='0.80' fill='#c8c4ec'/><rect x='454.60' y='475.40' width='12.05' height='1.30' fill='#b4c4f0'/><rect x='454.60' y='476.70' width='12.05' height='1.30' fill='#b4c4f0'/><rect x='454.60' y='478.00' width='12.05' height='0.80' fill='#f0a8b0'/><rect x='454.60' y='478.80' width='12.05' height='1.30' fill='#c8c4ec'/><rect x='454.60' y='480.10' width='12.05' height='0.40' fill='#b4c4f0'/><rect x='466.65' y='323.20' width='12.05' height='0.60' fill='#a8bcf0'/><rect x='466.65' y='323.80' width='12.05' height='0.60' fill='#b4c4f0'/><rect x='466.65' y='324.40' width='12.05' height='1.30' fill='#d0b0d8'/><rect x='466.65' y='325.70' width='12.05' height='1.00' fill='#f07880'/><rect x='466.65' y='326.70' width='12.05' height='1.00' fill='#f07880'/><rect x='466.65' y='327.70' width='12.05' height='1.00' fill='#dcc0dc'/><rect x='466.65' y='328.70' width='12.05' height='1.00' fill='#f4b8c0'/><rect x='466.65' y='329.70' width='12.05' height='0.80' fill='#c8c4ec'/><rect x='466.65' y='330.50' width='12.05' height='1.30' fill='#d0b0d8'/><rect x='466.65' y='331.80' width='12.05' height='1.00' fill='#98b4f0'/><rect x='466.65' y='332.80' width='12.05' height='1.30' fill='#d0b0d8'/><rect x='466.65' y='334.10' width='12.05' height='1.30' fill='#b4c4f0'/><rect x='466.65' y='335.40' width='12.05' height='0.80' fill='#98b4f0'/><rect x='466.65' y='336.20' width='12.05' height='0.60' fill='#c8c4ec'/><rect x='466.65' y='336.80' width='12.05' height='0.80' fill='#8aa4f0'/><rect x='466.65' y='337.60' width='12.05' height='0.80' fill='#e8a0b0'/><rect x='466.65' y='338.40' width='12.05' height='0.60' fill='#b4c4f0'/><rect x='466.65' y='339.00' width='12.05' height='0.60' fill='#f0a8b0'/><rect x='466.65' y='339.60' width='12.05' height='0.80' fill='#f07880'/><rect x='466.65' y='340.40' width='12.05' height='0.60' fill='#98b4f0'/><rect x='466.65' y='341.00' width='12.05' height='0.80' fill='#d0b0d8'/><rect x='466.65' y='341.80' width='12.05' height='0.60' fill='#e8a0b0'/><rect x='466.65' y='342.40' width='12.05' height='1.00' fill='#e88890'/><rect x='466.65' y='343.40' width='12.05' height='0.80' fill='#e88890'/><rect x='466.65' y='344.20' width='12.05' height='1.00' fill='#f0a8b0'/><rect x='466.65' y='345.20' width='12.05' height='0.80' fill='#e8a0b0'/><rect x='466.65' y='346.00' width='12.05' height='1.00' fill='#b4c4f0'/><rect x='466.65' y='347.00' width='12.05' height='1.30' fill='#f07880'/><rect x='466.65' y='348.30' width='12.05' height='0.80' fill='#f07880'/><rect x='466.65' y='349.10' width='12.05' height='1.00' fill='#d0b0d8'/><rect x='466.65' y='350.10' width='12.05' height='1.30' fill='#f07880'/><rect x='466.65' y='351.40' width='12.05' height='1.30' fill='#a8bcf0'/><rect x='466.65' y='352.70' width='12.05' height='1.00' fill='#dcc0dc'/><rect x='466.65' y='353.70' width='12.05' height='0.60' fill='#f07880'/><rect x='466.65' y='354.30' width='12.05' height='0.80' fill='#8aa4f0'/><rect x='466.65' y='355.10' width='12.05' height='1.30' fill='#f4b8c0'/><rect x='466.65' y='356.40' width='12.05' height='1.00' fill='#f07880'/><rect x='466.65' y='357.40' width='12.05' height='1.00' fill='#f0a8b0'/><rect x='466.65' y='358.40' width='12.05' height='1.00' fill='#f0a8b0'/><rect x='466.65' y='359.40' width='12.05' height='0.80' fill='#f4b8c0'/><rect x='466.65' y='360.20' width='12.05' height='1.00' fill='#e8a0b0'/><rect x='466.65' y='361.20' width='12.05' height='0.80' fill='#f0a8b0'/><rect x='466.65' y='362.00' width='12.05' height='1.00' fill='#f0a8b0'/><rect x='466.65' y='363.00' width='12.05' height='1.00' fill='#f4b8c0'/><rect x='466.65' y='364.00' width='12.05' height='1.00' fill='#dcc0dc'/><rect x='466.65' y='365.00' width='12.05' height='0.80' fill='#dcc0dc'/><rect x='466.65' y='365.80' width='12.05' height='0.80' fill='#e8a0b0'/><rect x='466.65' y='366.60' width='12.05' height='0.80' fill='#dcc0dc'/><rect x='466.65' y='367.40' width='12.05' height='0.80' fill='#c8c4ec'/><rect x='466.65' y='368.20' width='12.05' height='0.60' fill='#e88890'/><rect x='466.65' y='368.80' width='12.05' height='0.60' fill='#e8a0b0'/><rect x='466.65' y='369.40' width='12.05' height='0.60' fill='#a8bcf0'/><rect x='466.65' y='370.00' width='12.05' height='0.60' fill='#b4c4f0'/><rect x='466.65' y='370.60' width='12.05' height='0.80' fill='#d0b0d8'/><rect x='466.65' y='371.40' width='12.05' height='0.60' fill='#f07880'/><rect x='466.65' y='372.00' width='12.05' height='0.60' fill='#98b4f0'/><rect x='466.65' y='372.60' width='12.05' height='0.60' fill='#98b4f0'/><rect x='466.65' y='373.20' width='12.05' height='0.80' fill='#e88890'/><rect x='466.65' y='374.00' width='12.05' height='0.80' fill='#a8bcf0'/><rect x='466.65' y='374.80' width='12.05' height='0.60' fill='#f0a8b0'/><rect x='466.65' y='375.40' width='12.05' height='1.00' fill='#d0b0d8'/><rect x='466.65' y='376.40' width='12.05' height='1.00' fill='#8aa4f0'/><rect x='466.65' y='377.40' width='12.05' height='1.30' fill='#b4c4f0'/><rect x='466.65' y='378.70' width='12.05' height='0.60' fill='#d0b0d8'/><rect x='466.65' y='379.30' width='12.05' height='1.30' fill='#dcc0dc'/><rect x='466.65' y='380.60' width='12.05' height='1.00' fill='#8aa4f0'/><rect x='466.65' y='381.60' width='12.05' height='1.00' fill='#b4c4f0'/><rect x='466.65' y='382.60' width='12.05' height='0.60' fill='#8aa4f0'/><rect x='466.65' y='383.20' width='12.05' height='1.30' fill='#dcc0dc'/><rect x='466.65' y='384.50' width='12.05' height='1.00' fill='#98b4f0'/><rect x='466.65' y='385.50' width='12.05' height='1.00' fill='#e88890'/><rect x='466.65' y='386.50' width='12.05' height='0.80' fill='#e88890'/><rect x='466.65' y='387.30' width='12.05' height='0.60' fill='#b4c4f0'/><rect x='466.65' y='387.90' width='12.05' height='0.80' fill='#e8a0b0'/><rect x='466.65' y='388.70' width='12.05' height='0.60' fill='#8aa4f0'/><rect x='466.65' y='389.30' width='12.05' height='1.30' fill='#b4c4f0'/><rect x='466.65' y='390.60' width='12.05' height='0.60' fill='#e88890'/><rect x='466.65' y='391.20' width='12.05' height='0.80' fill='#b4c4f0'/><rect x='466.65' y='392.00' width='12.05' height='0.80' fill='#98b4f0'/><rect x='466.65' y='392.80' width='12.05' height='0.80' fill='#8aa4f0'/><rect x='466.65' y='393.60' width='12.05' height='1.30' fill='#f07880'/><rect x='466.65' y='394.90' width='12.05' height='0.60' fill='#dcc0dc'/><rect x='466.65' y='395.50' width='12.05' height='0.60' fill='#e8a0b0'/><rect x='466.65' y='396.10' width='12.05' height='0.80' fill='#c8c4ec'/><rect x='466.65' y='396.90' width='12.05' height='0.80' fill='#f4b8c0'/><rect x='466.65' y='397.70' width='12.05' height='0.60' fill='#b4c4f0'/><rect x='466.65' y='398.30' width='12.05' height='1.00' fill='#8aa4f0'/><rect x='466.65' y='399.30' width='12.05' height='1.00' fill='#f07880'/><rect x='466.65' y='400.30' width='12.05' height='0.80' fill='#a8bcf0'/><rect x='466.65' y='401.10' width='12.05' height='1.00' fill='#f0a8b0'/><rect x='466.65' y='402.10' width='12.05' height='1.30' fill='#c8c4ec'/><rect x='466.65' y='403.40' width='12.05' height='0.60' fill='#dcc0dc'/><rect x='466.65' y='404.00' width='12.05' height='0.80' fill='#b4c4f0'/><rect x='466.65' y='404.80' width='12.05' height='1.00' fill='#f4b8c0'/><rect x='466.65' y='405.80' width='12.05' height='0.60' fill='#dcc0dc'/><rect x='466.65' y='406.40' width='12.05' height='0.80' fill='#e88890'/><rect x='466.65' y='407.20' width='12.05' height='0.80' fill='#8aa4f0'/><rect x='466.65' y='408.00' width='12.05' height='1.00' fill='#b4c4f0'/><rect x='466.65' y='409.00' width='12.05' height='0.80' fill='#b4c4f0'/><rect x='466.65' y='409.80' width='12.05' height='0.80' fill='#b4c4f0'/><rect x='466.65' y='410.60' width='12.05' height='0.80' fill='#e8a0b0'/><rect x='466.65' y='411.40' width='12.05' height='1.00' fill='#98b4f0'/><rect x='466.65' y='412.40' width='12.05' height='0.80' fill='#dcc0dc'/><rect x='466.65' y='413.20' width='12.05' height='1.00' fill='#f07880'/><rect x='466.65' y='414.20' width='12.05' height='1.30' fill='#8aa4f0'/><rect x='466.65' y='415.50' width='12.05' height='0.60' fill='#f0a8b0'/><rect x='466.65' y='416.10' width='12.05' height='0.60' fill='#f4b8c0'/><rect x='466.65' y='416.70' width='12.05' height='0.60' fill='#dcc0dc'/><rect x='466.65' y='417.30' width='12.05' height='1.30' fill='#f0a8b0'/><rect x='466.65' y='418.60' width='12.05' height='1.30' fill='#f07880'/><rect x='466.65' y='419.90' width='12.05' height='1.00' fill='#e8a0b0'/><rect x='466.65' y='420.90' width='12.05' height='1.30' fill='#f0a8b0'/><rect x='466.65' y='422.20' width='12.05' height='1.30' fill='#dcc0dc'/><rect x='466.65' y='423.50' width='12.05' height='0.60' fill='#c8c4ec'/><rect x='466.65' y='424.10' width='12.05' height='0.60' fill='#b4c4f0'/><rect x='466.65' y='424.70' width='12.05' height='0.60' fill='#a8bcf0'/><rect x='466.65' y='425.30' width='12.05' height='0.60' fill='#dcc0dc'/><rect x='466.65' y='425.90' width='12.05' height='1.00' fill='#dcc0dc'/><rect x='466.65' y='426.90' width='12.05' height='1.00' fill='#f4b8c0'/><rect x='466.65' y='427.90' width='12.05' height='0.80' fill='#8aa4f0'/><rect x='466.65' y='428.70' width='12.05' height='0.80' fill='#f0a8b0'/><rect x='466.65' y='429.50' width='12.05' height='1.30' fill='#d0b0d8'/><rect x='466.65' y='430.80' width='12.05' height='0.80' fill='#98b4f0'/><rect x='466.65' y='431.60' width='12.05' height='0.60' fill='#f07880'/><rect x='466.65' y='432.20' width='12.05' height='0.60' fill='#b4c4f0'/><rect x='466.65' y='432.80' width='12.05' height='0.80' fill='#f4b8c0'/><rect x='466.65' y='433.60' width='12.05' height='0.60' fill='#c8c4ec'/><rect x='466.65' y='434.20' width='12.05' height='1.00' fill='#d0b0d8'/><rect x='466.65' y='435.20' width='12.05' height='1.30' fill='#d0b0d8'/><rect x='466.65' y='436.50' width='12.05' height='0.80' fill='#e88890'/><rect x='466.65' y='437.30' width='12.05' height='1.30' fill='#a8bcf0'/><rect x='466.65' y='438.60' width='12.05' height='1.00' fill='#e8a0b0'/><rect x='466.65' y='439.60' width='12.05' height='0.80' fill='#d0b0d8'/><rect x='466.65' y='440.40' width='12.05' height='0.80' fill='#8aa4f0'/><rect x='466.65' y='441.20' width='12.05' height='1.30' fill='#a8bcf0'/><rect x='466.65' y='442.50' width='12.05' height='0.60' fill='#98b4f0'/><rect x='466.65' y='443.10' width='12.05' height='0.60' fill='#d0b0d8'/><rect x='466.65' y='443.70' width='12.05' height='1.30' fill='#c8c4ec'/><rect x='466.65' y='445.00' width='12.05' height='1.30' fill='#e8a0b0'/><rect x='466.65' y='446.30' width='12.05' height='1.30' fill='#98b4f0'/><rect x='466.65' y='447.60' width='12.05' height='1.30' fill='#b4c4f0'/><rect x='466.65' y='448.90' width='12.05' height='1.00' fill='#dcc0dc'/><rect x='466.65' y='449.90' width='12.05' height='0.80' fill='#98b4f0'/><rect x='466.65' y='450.70' width='12.05' height='1.00' fill='#f0a8b0'/><rect x='466.65' y='451.70' width='12.05' height='1.00' fill='#a8bcf0'/><rect x='466.65' y='452.70' width='12.05' height='0.80' fill='#8aa4f0'/><rect x='466.65' y='453.50' width='12.05' height='1.00' fill='#d0b0d8'/><rect x='466.65' y='454.50' width='12.05' height='0.60' fill='#f0a8b0'/><rect x='466.65' y='455.10' width='12.05' height='1.00' fill='#f0a8b0'/><rect x='466.65' y='456.10' width='12.05' height='1.30' fill='#c8c4ec'/><rect x='466.65' y='457.40' width='12.05' height='1.00' fill='#a8bcf0'/><rect x='466.65' y='458.40' width='12.05' height='1.00' fill='#f0a8b0'/><rect x='466.65' y='459.40' width='12.05' height='0.80' fill='#f4b8c0'/><rect x='466.65' y='460.20' width='12.05' height='0.80' fill='#f07880'/><rect x='466.65' y='461.00' width='12.05' height='0.60' fill='#98b4f0'/><rect x='466.65' y='461.60' width='12.05' height='1.30' fill='#8aa4f0'/><rect x='466.65' y='462.90' width='12.05' height='1.00' fill='#f4b8c0'/><rect x='466.65' y='463.90' width='12.05' height='0.80' fill='#a8bcf0'/><rect x='466.65' y='464.70' width='12.05' height='0.80' fill='#f0a8b0'/><rect x='466.65' y='465.50' width='12.05' height='0.80' fill='#e88890'/><rect x='466.65' y='466.30' width='12.05' height='0.60' fill='#e88890'/><rect x='466.65' y='466.90' width='12.05' height='0.80' fill='#98b4f0'/><rect x='466.65' y='467.70' width='12.05' height='0.60' fill='#f4b8c0'/><rect x='466.65' y='468.30' width='12.05' height='1.30' fill='#e8a0b0'/><rect x='466.65' y='469.60' width='12.05' height='1.00' fill='#8aa4f0'/><rect x='466.65' y='470.60' width='12.05' height='1.30' fill='#f0a8b0'/><rect x='466.65' y='471.90' width='12.05' height='1.00' fill='#f4b8c0'/><rect x='466.65' y='472.90' width='12.05' height='1.00' fill='#f0a8b0'/><rect x='466.65' y='473.90' width='12.05' height='0.80' fill='#e8a0b0'/><rect x='466.65' y='474.70' width='12.05' height='0.80' fill='#e88890'/><rect x='466.65' y='475.50' width='12.05' height='0.80' fill='#e8a0b0'/><rect x='466.65' y='476.30' width='12.05' height='1.00' fill='#e8a0b0'/><rect x='466.65' y='477.30' width='12.05' height='1.00' fill='#e8a0b0'/><rect x='466.65' y='478.30' width='12.05' height='0.60' fill='#f0a8b0'/><rect x='466.65' y='478.90' width='12.05' height='0.80' fill='#f4b8c0'/><rect x='466.65' y='479.70' width='12.05' height='0.80' fill='#b4c4f0'/><rect x='478.70' y='323.20' width='12.05' height='0.80' fill='#f07880'/><rect x='478.70' y='324.00' width='12.05' height='0.80' fill='#8aa4f0'/><rect x='478.70' y='324.80' width='12.05' height='0.80' fill='#e88890'/><rect x='478.70' y='325.60' width='12.05' height='1.30' fill='#c8c4ec'/><rect x='478.70' y='326.90' width='12.05' height='1.00' fill='#dcc0dc'/><rect x='478.70' y='327.90' width='12.05' height='1.30' fill='#f0a8b0'/><rect x='478.70' y='329.20' width='12.05' height='0.60' fill='#8aa4f0'/><rect x='478.70' y='329.80' width='12.05' height='0.80' fill='#e88890'/><rect x='478.70' y='330.60' width='12.05' height='1.30' fill='#f07880'/><rect x='478.70' y='331.90' width='12.05' height='0.80' fill='#b4c4f0'/><rect x='478.70' y='332.70' width='12.05' height='1.00' fill='#d0b0d8'/><rect x='478.70' y='333.70' width='12.05' height='1.30' fill='#b4c4f0'/><rect x='478.70' y='335.00' width='12.05' height='1.00' fill='#e88890'/><rect x='478.70' y='336.00' width='12.05' height='0.60' fill='#f0a8b0'/><rect x='478.70' y='336.60' width='12.05' height='0.80' fill='#f07880'/><rect x='478.70' y='337.40' width='12.05' height='1.30' fill='#f4b8c0'/><rect x='478.70' y='338.70' width='12.05' height='1.00' fill='#dcc0dc'/><rect x='478.70' y='339.70' width='12.05' height='0.80' fill='#e8a0b0'/><rect x='478.70' y='340.50' width='12.05' height='1.30' fill='#f4b8c0'/><rect x='478.70' y='341.80' width='12.05' height='0.80' fill='#f07880'/><rect x='478.70' y='342.60' width='12.05' height='1.00' fill='#c8c4ec'/><rect x='478.70' y='343.60' width='12.05' height='1.00' fill='#f0a8b0'/><rect x='478.70' y='344.60' width='12.05' height='1.00' fill='#98b4f0'/><rect x='478.70' y='345.60' width='12.05' height='1.00' fill='#dcc0dc'/><rect x='478.70' y='346.60' width='12.05' height='0.60' fill='#f07880'/><rect x='478.70' y='347.20' width='12.05' height='0.60' fill='#98b4f0'/><rect x='478.70' y='347.80' width='12.05' height='0.80' fill='#e88890'/><rect x='478.70' y='348.60' width='12.05' height='0.80' fill='#8aa4f0'/><rect x='478.70' y='349.40' width='12.05' height='1.00' fill='#e88890'/><rect x='478.70' y='350.40' width='12.05' height='0.80' fill='#8aa4f0'/><rect x='478.70' y='351.20' width='12.05' height='0.80' fill='#98b4f0'/><rect x='478.70' y='352.00' width='12.05' height='0.60' fill='#e88890'/><rect x='478.70' y='352.60' width='12.05' height='1.00' fill='#d0b0d8'/><rect x='478.70' y='353.60' width='12.05' height='0.60' fill='#f07880'/><rect x='478.70' y='354.20' width='12.05' height='0.80' fill='#f0a8b0'/><rect x='478.70' y='355.00' width='12.05' height='0.80' fill='#98b4f0'/><rect x='478.70' y='355.80' width='12.05' height='0.80' fill='#a8bcf0'/><rect x='478.70' y='356.60' width='12.05' height='1.00' fill='#e8a0b0'/><rect x='478.70' y='357.60' width='12.05' height='0.80' fill='#d0b0d8'/><rect x='478.70' y='358.40' width='12.05' height='0.60' fill='#f4b8c0'/><rect x='478.70' y='359.00' width='12.05' height='1.00' fill='#c8c4ec'/><rect x='478.70' y='360.00' width='12.05' height='0.80' fill='#d0b0d8'/><rect x='478.70' y='360.80' width='12.05' height='1.00' fill='#f4b8c0'/><rect x='478.70' y='361.80' width='12.05' height='1.30' fill='#e88890'/><rect x='478.70' y='363.10' width='12.05' height='0.60' fill='#b4c4f0'/><rect x='478.70' y='363.70' width='12.05' height='0.60' fill='#b4c4f0'/><rect x='478.70' y='364.30' width='12.05' height='0.80' fill='#f0a8b0'/><rect x='478.70' y='365.10' width='12.05' height='0.80' fill='#c8c4ec'/><rect x='478.70' y='365.90' width='12.05' height='0.60' fill='#e88890'/><rect x='478.70' y='366.50' width='12.05' height='1.30' fill='#dcc0dc'/><rect x='478.70' y='367.80' width='12.05' height='1.30' fill='#e88890'/><rect x='478.70' y='369.10' width='12.05' height='0.80' fill='#dcc0dc'/><rect x='478.70' y='369.90' width='12.05' height='1.00' fill='#e88890'/><rect x='478.70' y='370.90' width='12.05' height='1.00' fill='#f0a8b0'/><rect x='478.70' y='371.90' width='12.05' height='0.60' fill='#f0a8b0'/><rect x='478.70' y='372.50' width='12.05' height='0.60' fill='#f4b8c0'/><rect x='478.70' y='373.10' width='12.05' height='1.00' fill='#dcc0dc'/><rect x='478.70' y='374.10' width='12.05' height='0.60' fill='#8aa4f0'/><rect x='478.70' y='374.70' width='12.05' height='1.00' fill='#f0a8b0'/><rect x='478.70' y='375.70' width='12.05' height='0.60' fill='#a8bcf0'/><rect x='478.70' y='376.30' width='12.05' height='1.00' fill='#dcc0dc'/><rect x='478.70' y='377.30' width='12.05' height='1.30' fill='#e88890'/><rect x='478.70' y='378.60' width='12.05' height='1.30' fill='#f07880'/><rect x='478.70' y='379.90' width='12.05' height='1.30' fill='#8aa4f0'/><rect x='478.70' y='381.20' width='12.05' height='0.80' fill='#a8bcf0'/><rect x='478.70' y='382.00' width='12.05' height='1.00' fill='#e8a0b0'/><rect x='478.70' y='383.00' width='12.05' height='0.80' fill='#f4b8c0'/><rect x='478.70' y='383.80' width='12.05' height='1.30' fill='#f0a8b0'/><rect x='478.70' y='385.10' width='12.05' height='0.80' fill='#f4b8c0'/><rect x='478.70' y='385.90' width='12.05' height='1.30' fill='#e8a0b0'/><rect x='478.70' y='387.20' width='12.05' height='1.30' fill='#dcc0dc'/><rect x='478.70' y='388.50' width='12.05' height='1.00' fill='#e88890'/><rect x='478.70' y='389.50' width='12.05' height='1.00' fill='#dcc0dc'/><rect x='478.70' y='390.50' width='12.05' height='1.30' fill='#e88890'/><rect x='478.70' y='391.80' width='12.05' height='1.30' fill='#8aa4f0'/><rect x='478.70' y='393.10' width='12.05' height='0.80' fill='#a8bcf0'/><rect x='478.70' y='393.90' width='12.05' height='0.80' fill='#f0a8b0'/><rect x='478.70' y='394.70' width='12.05' height='1.00' fill='#dcc0dc'/><rect x='478.70' y='395.70' width='12.05' height='0.60' fill='#f07880'/><rect x='478.70' y='396.30' width='12.05' height='0.80' fill='#f0a8b0'/><rect x='478.70' y='397.10' width='12.05' height='1.00' fill='#e88890'/><rect x='478.70' y='398.10' width='12.05' height='0.80' fill='#a8bcf0'/><rect x='478.70' y='398.90' width='12.05' height='1.00' fill='#b4c4f0'/><rect x='478.70' y='399.90' width='12.05' height='1.30' fill='#8aa4f0'/><rect x='478.70' y='401.20' width='12.05' height='1.30' fill='#f0a8b0'/><rect x='478.70' y='402.50' width='12.05' height='0.80' fill='#e8a0b0'/><rect x='478.70' y='403.30' width='12.05' height='0.80' fill='#dcc0dc'/><rect x='478.70' y='404.10' width='12.05' height='1.30' fill='#e88890'/><rect x='478.70' y='405.40' width='12.05' height='0.60' fill='#e8a0b0'/><rect x='478.70' y='406.00' width='12.05' height='0.80' fill='#e8a0b0'/><rect x='478.70' y='406.80' width='12.05' height='0.80' fill='#e8a0b0'/><rect x='478.70' y='407.60' width='12.05' height='1.30' fill='#b4c4f0'/><rect x='478.70' y='408.90' width='12.05' height='0.80' fill='#dcc0dc'/><rect x='478.70' y='409.70' width='12.05' height='0.60' fill='#e88890'/><rect x='478.70' y='410.30' width='12.05' height='1.00' fill='#c8c4ec'/><rect x='478.70' y='411.30' width='12.05' height='0.80' fill='#a8bcf0'/><rect x='478.70' y='412.10' width='12.05' height='1.00' fill='#f07880'/><rect x='478.70' y='413.10' width='12.05' height='0.60' fill='#a8bcf0'/><rect x='478.70' y='413.70' width='12.05' height='1.00' fill='#e8a0b0'/><rect x='478.70' y='414.70' width='12.05' height='0.60' fill='#e8a0b0'/><rect x='478.70' y='415.30' width='12.05' height='0.60' fill='#e88890'/><rect x='478.70' y='415.90' width='12.05' height='0.60' fill='#f0a8b0'/><rect x='478.70' y='416.50' width='12.05' height='1.00' fill='#f4b8c0'/><rect x='478.70' y='417.50' width='12.05' height='0.60' fill='#f07880'/><rect x='478.70' y='418.10' width='12.05' height='0.80' fill='#dcc0dc'/><rect x='478.70' y='418.90' width='12.05' height='1.30' fill='#e88890'/><rect x='478.70' y='420.20' width='12.05' height='0.60' fill='#dcc0dc'/><rect x='478.70' y='420.80' width='12.05' height='0.60' fill='#f07880'/><rect x='478.70' y='421.40' width='12.05' height='0.60' fill='#a8bcf0'/><rect x='478.70' y='422.00' width='12.05' height='1.00' fill='#f07880'/><rect x='478.70' y='423.00' width='12.05' height='1.30' fill='#c8c4ec'/><rect x='478.70' y='424.30' width='12.05' height='1.30' fill='#f07880'/><rect x='478.70' y='425.60' width='12.05' height='0.60' fill='#c8c4ec'/><rect x='478.70' y='426.20' width='12.05' height='1.30' fill='#c8c4ec'/><rect x='478.70' y='427.50' width='12.05' height='1.30' fill='#f07880'/><rect x='478.70' y='428.80' width='12.05' height='1.30' fill='#f0a8b0'/><rect x='478.70' y='430.10' width='12.05' height='0.80' fill='#e8a0b0'/><rect x='478.70' y='430.90' width='12.05' height='0.80' fill='#c8c4ec'/><rect x='478.70' y='431.70' width='12.05' height='0.60' fill='#f4b8c0'/><rect x='478.70' y='432.30' width='12.05' height='1.30' fill='#b4c4f0'/><rect x='478.70' y='433.60' width='12.05' height='1.00' fill='#d0b0d8'/><rect x='478.70' y='434.60' width='12.05' height='0.80' fill='#8aa4f0'/><rect x='478.70' y='435.40' width='12.05' height='0.80' fill='#8aa4f0'/><rect x='478.70' y='436.20' width='12.05' height='0.80' fill='#f07880'/><rect x='478.70' y='437.00' width='12.05' height='0.60' fill='#b4c4f0'/><rect x='478.70' y='437.60' width='12.05' height='1.30' fill='#f4b8c0'/><rect x='478.70' y='438.90' width='12.05' height='0.80' fill='#e88890'/><rect x='478.70' y='439.70' width='12.05' height='0.60' fill='#98b4f0'/><rect x='478.70' y='440.30' width='12.05' height='0.60' fill='#98b4f0'/><rect x='478.70' y='440.90' width='12.05' height='0.80' fill='#dcc0dc'/><rect x='478.70' y='441.70' width='12.05' height='0.60' fill='#98b4f0'/><rect x='478.70' y='442.30' width='12.05' height='0.60' fill='#98b4f0'/><rect x='478.70' y='442.90' width='12.05' height='0.80' fill='#d0b0d8'/><rect x='478.70' y='443.70' width='12.05' height='1.30' fill='#b4c4f0'/><rect x='478.70' y='445.00' width='12.05' height='1.30' fill='#f07880'/><rect x='478.70' y='446.30' width='12.05' height='1.30' fill='#e88890'/><rect x='478.70' y='447.60' width='12.05' height='1.30' fill='#98b4f0'/><rect x='478.70' y='448.90' width='12.05' height='1.30' fill='#8aa4f0'/><rect x='478.70' y='450.20' width='12.05' height='1.30' fill='#e8a0b0'/><rect x='478.70' y='451.50' width='12.05' height='1.00' fill='#c8c4ec'/><rect x='478.70' y='452.50' width='12.05' height='0.60' fill='#98b4f0'/><rect x='478.70' y='453.10' width='12.05' height='0.80' fill='#f07880'/><rect x='478.70' y='453.90' width='12.05' height='1.00' fill='#e8a0b0'/><rect x='478.70' y='454.90' width='12.05' height='0.80' fill='#f4b8c0'/><rect x='478.70' y='455.70' width='12.05' height='0.80' fill='#f0a8b0'/><rect x='478.70' y='456.50' width='12.05' height='1.30' fill='#e8a0b0'/><rect x='478.70' y='457.80' width='12.05' height='1.30' fill='#98b4f0'/><rect x='478.70' y='459.10' width='12.05' height='1.30' fill='#b4c4f0'/><rect x='478.70' y='460.40' width='12.05' height='0.60' fill='#b4c4f0'/><rect x='478.70' y='461.00' width='12.05' height='1.30' fill='#dcc0dc'/><rect x='478.70' y='462.30' width='12.05' height='0.60' fill='#98b4f0'/><rect x='478.70' y='462.90' width='12.05' height='0.80' fill='#b4c4f0'/><rect x='478.70' y='463.70' width='12.05' height='0.60' fill='#e8a0b0'/><rect x='478.70' y='464.30' width='12.05' height='0.80' fill='#b4c4f0'/><rect x='478.70' y='465.10' width='12.05' height='0.80' fill='#b4c4f0'/><rect x='478.70' y='465.90' width='12.05' height='0.80' fill='#f07880'/><rect x='478.70' y='466.70' width='12.05' height='1.30' fill='#e88890'/><rect x='478.70' y='468.00' width='12.05' height='1.00' fill='#b4c4f0'/><rect x='478.70' y='469.00' width='12.05' height='0.60' fill='#dcc0dc'/><rect x='478.70' y='469.60' width='12.05' height='1.30' fill='#f0a8b0'/><rect x='478.70' y='470.90' width='12.05' height='0.60' fill='#f0a8b0'/><rect x='478.70' y='471.50' width='12.05' height='0.80' fill='#dcc0dc'/><rect x='478.70' y='472.30' width='12.05' height='1.00' fill='#98b4f0'/><rect x='478.70' y='473.30' width='12.05' height='0.80' fill='#f0a8b0'/><rect x='478.70' y='474.10' width='12.05' height='1.00' fill='#f4b8c0'/><rect x='478.70' y='475.10' width='12.05' height='1.00' fill='#dcc0dc'/><rect x='478.70' y='476.10' width='12.05' height='0.60' fill='#e8a0b0'/><rect x='478.70' y='476.70' width='12.05' height='1.30' fill='#f4b8c0'/><rect x='478.70' y='478.00' width='12.05' height='0.60' fill='#e8a0b0'/><rect x='478.70' y='478.60' width='12.05' height='1.00' fill='#98b4f0'/><rect x='478.70' y='479.60' width='12.05' height='0.80' fill='#e8a0b0'/><rect x='478.70' y='480.40' width='12.05' height='0.10' fill='#e8a0b0'/><rect x='490.75' y='323.20' width='12.05' height='0.80' fill='#8aa4f0'/><rect x='490.75' y='324.00' width='12.05' height='1.00' fill='#c8c4ec'/><rect x='490.75' y='325.00' width='12.05' height='0.80' fill='#e8a0b0'/><rect x='490.75' y='325.80' width='12.05' height='0.80' fill='#c8c4ec'/><rect x='490.75' y='326.60' width='12.05' height='0.60' fill='#dcc0dc'/><rect x='490.75' y='327.20' width='12.05' height='0.80' fill='#d0b0d8'/><rect x='490.75' y='328.00' width='12.05' height='0.80' fill='#a8bcf0'/><rect x='490.75' y='328.80' width='12.05' height='0.60' fill='#b4c4f0'/><rect x='490.75' y='329.40' width='12.05' height='0.80' fill='#d0b0d8'/><rect x='490.75' y='330.20' width='12.05' height='1.30' fill='#e88890'/><rect x='490.75' y='331.50' width='12.05' height='1.30' fill='#8aa4f0'/><rect x='490.75' y='332.80' width='12.05' height='0.80' fill='#d0b0d8'/><rect x='490.75' y='333.60' width='12.05' height='1.00' fill='#c8c4ec'/><rect x='490.75' y='334.60' width='12.05' height='1.30' fill='#a8bcf0'/><rect x='490.75' y='335.90' width='12.05' height='1.30' fill='#c8c4ec'/><rect x='490.75' y='337.20' width='12.05' height='1.00' fill='#8aa4f0'/><rect x='490.75' y='338.20' width='12.05' height='0.60' fill='#a8bcf0'/><rect x='490.75' y='338.80' width='12.05' height='0.60' fill='#a8bcf0'/><rect x='490.75' y='339.40' width='12.05' height='1.00' fill='#98b4f0'/><rect x='490.75' y='340.40' width='12.05' height='1.30' fill='#98b4f0'/><rect x='490.75' y='341.70' width='12.05' height='1.00' fill='#a8bcf0'/><rect x='490.75' y='342.70' width='12.05' height='0.80' fill='#e88890'/><rect x='490.75' y='343.50' width='12.05' height='0.80' fill='#b4c4f0'/><rect x='490.75' y='344.30' width='12.05' height='0.80' fill='#e8a0b0'/><rect x='490.75' y='345.10' width='12.05' height='0.80' fill='#98b4f0'/><rect x='490.75' y='345.90' width='12.05' height='1.00' fill='#98b4f0'/><rect x='490.75' y='346.90' width='12.05' height='0.80' fill='#b4c4f0'/><rect x='490.75' y='347.70' width='12.05' height='1.30' fill='#f07880'/><rect x='490.75' y='349.00' width='12.05' height='0.60' fill='#d0b0d8'/><rect x='490.75' y='349.60' width='12.05' height='1.30' fill='#b4c4f0'/><rect x='490.75' y='350.90' width='12.05' height='0.80' fill='#a8bcf0'/><rect x='490.75' y='351.70' width='12.05' height='0.60' fill='#8aa4f0'/><rect x='490.75' y='352.30' width='12.05' height='1.30' fill='#c8c4ec'/><rect x='490.75' y='353.60' width='12.05' height='0.60' fill='#f4b8c0'/><rect x='490.75' y='354.20' width='12.05' height='0.80' fill='#98b4f0'/><rect x='490.75' y='355.00' width='12.05' height='0.60' fill='#b4c4f0'/><rect x='490.75' y='355.60' width='12.05' height='0.60' fill='#c8c4ec'/><rect x='490.75' y='356.20' width='12.05' height='1.30' fill='#8aa4f0'/><rect x='490.75' y='357.50' width='12.05' height='0.80' fill='#8aa4f0'/><rect x='490.75' y='358.30' width='12.05' height='1.00' fill='#a8bcf0'/><rect x='490.75' y='359.30' width='12.05' height='0.80' fill='#e8a0b0'/><rect x='490.75' y='360.10' width='12.05' height='1.00' fill='#a8bcf0'/><rect x='490.75' y='361.10' width='12.05' height='1.00' fill='#98b4f0'/><rect x='490.75' y='362.10' width='12.05' height='0.60' fill='#98b4f0'/><rect x='490.75' y='362.70' width='12.05' height='0.60' fill='#f4b8c0'/><rect x='490.75' y='363.30' width='12.05' height='1.00' fill='#8aa4f0'/><rect x='490.75' y='364.30' width='12.05' height='1.30' fill='#8aa4f0'/><rect x='490.75' y='365.60' width='12.05' height='1.00' fill='#d0b0d8'/><rect x='490.75' y='366.60' width='12.05' height='0.80' fill='#a8bcf0'/><rect x='490.75' y='367.40' width='12.05' height='0.80' fill='#e88890'/><rect x='490.75' y='368.20' width='12.05' height='1.30' fill='#a8bcf0'/><rect x='490.75' y='369.50' width='12.05' height='1.00' fill='#8aa4f0'/><rect x='490.75' y='370.50' width='12.05' height='1.30' fill='#d0b0d8'/><rect x='490.75' y='371.80' width='12.05' height='0.80' fill='#b4c4f0'/><rect x='490.75' y='372.60' width='12.05' height='0.80' fill='#b4c4f0'/><rect x='490.75' y='373.40' width='12.05' height='1.30' fill='#f07880'/><rect x='490.75' y='374.70' width='12.05' height='1.30' fill='#b4c4f0'/><rect x='490.75' y='376.00' width='12.05' height='1.30' fill='#e88890'/><rect x='490.75' y='377.30' width='12.05' height='0.60' fill='#a8bcf0'/><rect x='490.75' y='377.90' width='12.05' height='1.00' fill='#f07880'/><rect x='490.75' y='378.90' width='12.05' height='1.30' fill='#d0b0d8'/><rect x='490.75' y='380.20' width='12.05' height='0.60' fill='#e8a0b0'/><rect x='490.75' y='380.80' width='12.05' height='1.30' fill='#f4b8c0'/><rect x='490.75' y='382.10' width='12.05' height='0.60' fill='#f0a8b0'/><rect x='490.75' y='382.70' width='12.05' height='1.30' fill='#8aa4f0'/><rect x='490.75' y='384.00' width='12.05' height='1.30' fill='#b4c4f0'/><rect x='490.75' y='385.30' width='12.05' height='1.30' fill='#b4c4f0'/><rect x='490.75' y='386.60' width='12.05' height='1.30' fill='#8aa4f0'/><rect x='490.75' y='387.90' width='12.05' height='0.60' fill='#c8c4ec'/><rect x='490.75' y='388.50' width='12.05' height='1.30' fill='#f0a8b0'/><rect x='490.75' y='389.80' width='12.05' height='1.30' fill='#8aa4f0'/><rect x='490.75' y='391.10' width='12.05' height='1.30' fill='#c8c4ec'/><rect x='490.75' y='392.40' width='12.05' height='0.60' fill='#e8a0b0'/><rect x='490.75' y='393.00' width='12.05' height='1.30' fill='#98b4f0'/><rect x='490.75' y='394.30' width='12.05' height='0.60' fill='#8aa4f0'/><rect x='490.75' y='394.90' width='12.05' height='1.00' fill='#b4c4f0'/><rect x='490.75' y='395.90' width='12.05' height='1.30' fill='#a8bcf0'/><rect x='490.75' y='397.20' width='12.05' height='1.00' fill='#8aa4f0'/><rect x='490.75' y='398.20' width='12.05' height='0.60' fill='#c8c4ec'/><rect x='490.75' y='398.80' width='12.05' height='0.60' fill='#c8c4ec'/><rect x='490.75' y='399.40' width='12.05' height='0.80' fill='#c8c4ec'/><rect x='490.75' y='400.20' width='12.05' height='1.30' fill='#c8c4ec'/><rect x='490.75' y='401.50' width='12.05' height='0.60' fill='#c8c4ec'/><rect x='490.75' y='402.10' width='12.05' height='0.80' fill='#8aa4f0'/><rect x='490.75' y='402.90' width='12.05' height='1.00' fill='#c8c4ec'/><rect x='490.75' y='403.90' width='12.05' height='0.60' fill='#d0b0d8'/><rect x='490.75' y='404.50' width='12.05' height='0.60' fill='#dcc0dc'/><rect x='490.75' y='405.10' width='12.05' height='0.60' fill='#a8bcf0'/><rect x='490.75' y='405.70' width='12.05' height='0.60' fill='#a8bcf0'/><rect x='490.75' y='406.30' width='12.05' height='1.00' fill='#8aa4f0'/><rect x='490.75' y='407.30' width='12.05' height='0.80' fill='#d0b0d8'/><rect x='490.75' y='408.10' width='12.05' height='1.00' fill='#a8bcf0'/><rect x='490.75' y='409.10' width='12.05' height='0.60' fill='#c8c4ec'/><rect x='490.75' y='409.70' width='12.05' height='1.30' fill='#a8bcf0'/><rect x='490.75' y='411.00' width='12.05' height='1.30' fill='#e8a0b0'/><rect x='490.75' y='412.30' width='12.05' height='1.00' fill='#b4c4f0'/><rect x='490.75' y='413.30' width='12.05' height='1.00' fill='#b4c4f0'/><rect x='490.75' y='414.30' width='12.05' height='0.60' fill='#f0a8b0'/><rect x='490.75' y='414.90' width='12.05' height='1.30' fill='#d0b0d8'/><rect x='490.75' y='416.20' width='12.05' height='0.60' fill='#b4c4f0'/><rect x='490.75' y='416.80' width='12.05' height='0.80' fill='#98b4f0'/><rect x='490.75' y='417.60' width='12.05' height='0.60' fill='#b4c4f0'/><rect x='490.75' y='418.20' width='12.05' height='1.30' fill='#a8bcf0'/><rect x='490.75' y='419.50' width='12.05' height='1.30' fill='#b4c4f0'/><rect x='490.75' y='420.80' width='12.05' height='0.80' fill='#a8bcf0'/><rect x='490.75' y='421.60' width='12.05' height='1.00' fill='#b4c4f0'/><rect x='490.75' y='422.60' width='12.05' height='0.60' fill='#98b4f0'/><rect x='490.75' y='423.20' width='12.05' height='0.60' fill='#a8bcf0'/><rect x='490.75' y='423.80' width='12.05' height='1.30' fill='#98b4f0'/><rect x='490.75' y='425.10' width='12.05' height='0.80' fill='#98b4f0'/><rect x='490.75' y='425.90' width='12.05' height='1.30' fill='#d0b0d8'/><rect x='490.75' y='427.20' width='12.05' height='1.30' fill='#f4b8c0'/><rect x='490.75' y='428.50' width='12.05' height='0.80' fill='#f4b8c0'/><rect x='490.75' y='429.30' width='12.05' height='0.80' fill='#dcc0dc'/><rect x='490.75' y='430.10' width='12.05' height='0.60' fill='#b4c4f0'/><rect x='490.75' y='430.70' width='12.05' height='0.80' fill='#b4c4f0'/><rect x='490.75' y='431.50' width='12.05' height='1.00' fill='#d0b0d8'/><rect x='490.75' y='432.50' width='12.05' height='1.00' fill='#d0b0d8'/><rect x='490.75' y='433.50' width='12.05' height='1.30' fill='#c8c4ec'/><rect x='490.75' y='434.80' width='12.05' height='0.80' fill='#b4c4f0'/><rect x='490.75' y='435.60' width='12.05' height='1.00' fill='#a8bcf0'/><rect x='490.75' y='436.60' width='12.05' height='0.80' fill='#f0a8b0'/><rect x='490.75' y='437.40' width='12.05' height='0.60' fill='#8aa4f0'/><rect x='490.75' y='438.00' width='12.05' height='0.60' fill='#f07880'/><rect x='490.75' y='438.60' width='12.05' height='0.60' fill='#8aa4f0'/><rect x='490.75' y='439.20' width='12.05' height='1.30' fill='#f07880'/><rect x='490.75' y='440.50' width='12.05' height='1.00' fill='#e8a0b0'/><rect x='490.75' y='441.50' width='12.05' height='1.30' fill='#8aa4f0'/><rect x='490.75' y='442.80' width='12.05' height='1.00' fill='#a8bcf0'/><rect x='490.75' y='443.80' width='12.05' height='1.30' fill='#f07880'/><rect x='490.75' y='445.10' width='12.05' height='1.00' fill='#f0a8b0'/><rect x='490.75' y='446.10' width='12.05' height='0.80' fill='#8aa4f0'/><rect x='490.75' y='446.90' width='12.05' height='1.00' fill='#dcc0dc'/><rect x='490.75' y='447.90' width='12.05' height='1.30' fill='#e8a0b0'/><rect x='490.75' y='449.20' width='12.05' height='0.60' fill='#8aa4f0'/><rect x='490.75' y='449.80' width='12.05' height='0.60' fill='#8aa4f0'/><rect x='490.75' y='450.40' width='12.05' height='1.00' fill='#8aa4f0'/><rect x='490.75' y='451.40' width='12.05' height='0.60' fill='#dcc0dc'/><rect x='490.75' y='452.00' width='12.05' height='0.80' fill='#a8bcf0'/><rect x='490.75' y='452.80' width='12.05' height='0.60' fill='#8aa4f0'/><rect x='490.75' y='453.40' width='12.05' height='1.00' fill='#f0a8b0'/><rect x='490.75' y='454.40' width='12.05' height='0.60' fill='#d0b0d8'/><rect x='490.75' y='455.00' width='12.05' height='0.80' fill='#e8a0b0'/><rect x='490.75' y='455.80' width='12.05' height='0.80' fill='#f07880'/><rect x='490.75' y='456.60' width='12.05' height='1.30' fill='#e8a0b0'/><rect x='490.75' y='457.90' width='12.05' height='1.30' fill='#c8c4ec'/><rect x='490.75' y='459.20' width='12.05' height='0.80' fill='#f4b8c0'/><rect x='490.75' y='460.00' width='12.05' height='0.60' fill='#b4c4f0'/><rect x='490.75' y='460.60' width='12.05' height='1.00' fill='#8aa4f0'/><rect x='490.75' y='461.60' width='12.05' height='1.00' fill='#a8bcf0'/><rect x='490.75' y='462.60' width='12.05' height='1.30' fill='#8aa4f0'/><rect x='490.75' y='463.90' width='12.05' height='1.30' fill='#d0b0d8'/><rect x='490.75' y='465.20' width='12.05' height='0.60' fill='#e88890'/><rect x='490.75' y='465.80' width='12.05' height='1.00' fill='#f07880'/><rect x='490.75' y='466.80' width='12.05' height='1.00' fill='#d0b0d8'/><rect x='490.75' y='467.80' width='12.05' height='1.30' fill='#98b4f0'/><rect x='490.75' y='469.10' width='12.05' height='1.30' fill='#f0a8b0'/><rect x='490.75' y='470.40' width='12.05' height='1.00' fill='#c8c4ec'/><rect x='490.75' y='471.40' width='12.05' height='1.30' fill='#8aa4f0'/><rect x='490.75' y='472.70' width='12.05' height='1.00' fill='#d0b0d8'/><rect x='490.75' y='473.70' width='12.05' height='0.80' fill='#dcc0dc'/><rect x='490.75' y='474.50' width='12.05' height='1.30' fill='#f07880'/><rect x='490.75' y='475.80' width='12.05' height='1.00' fill='#d0b0d8'/><rect x='490.75' y='476.80' width='12.05' height='1.30' fill='#f07880'/><rect x='490.75' y='478.10' width='12.05' height='0.80' fill='#a8bcf0'/><rect x='490.75' y='478.90' width='12.05' height='0.60' fill='#f0a8b0'/><rect x='490.75' y='479.50' width='12.05' height='0.80' fill='#f4b8c0'/><rect x='490.75' y='480.30' width='12.05' height='0.20' fill='#8aa4f0'/><rect x='502.80' y='323.20' width='12.05' height='0.60' fill='#f0a8b0'/><rect x='502.80' y='323.80' width='12.05' height='0.80' fill='#d0b0d8'/><rect x='502.80' y='324.60' width='12.05' height='0.60' fill='#e8a0b0'/><rect x='502.80' y='325.20' width='12.05' height='1.00' fill='#e88890'/><rect x='502.80' y='326.20' width='12.05' height='1.00' fill='#a8bcf0'/><rect x='502.80' y='327.20' width='12.05' height='0.60' fill='#f07880'/><rect x='502.80' y='327.80' width='12.05' height='1.00' fill='#dcc0dc'/><rect x='502.80' y='328.80' width='12.05' height='1.30' fill='#98b4f0'/><rect x='502.80' y='330.10' width='12.05' height='1.00' fill='#e88890'/><rect x='502.80' y='331.10' width='12.05' height='1.00' fill='#e88890'/><rect x='502.80' y='332.10' width='12.05' height='0.80' fill='#8aa4f0'/><rect x='502.80' y='332.90' width='12.05' height='1.00' fill='#a8bcf0'/><rect x='502.80' y='333.90' width='12.05' height='1.30' fill='#b4c4f0'/><rect x='502.80' y='335.20' width='12.05' height='0.80' fill='#f4b8c0'/><rect x='502.80' y='336.00' width='12.05' height='1.00' fill='#dcc0dc'/><rect x='502.80' y='337.00' width='12.05' height='0.60' fill='#8aa4f0'/><rect x='502.80' y='337.60' width='12.05' height='0.80' fill='#98b4f0'/><rect x='502.80' y='338.40' width='12.05' height='0.60' fill='#dcc0dc'/><rect x='502.80' y='339.00' width='12.05' height='1.30' fill='#d0b0d8'/><rect x='502.80' y='340.30' width='12.05' height='1.00' fill='#e88890'/><rect x='502.80' y='341.30' width='12.05' height='0.80' fill='#dcc0dc'/><rect x='502.80' y='342.10' width='12.05' height='1.00' fill='#8aa4f0'/><rect x='502.80' y='343.10' width='12.05' height='1.00' fill='#8aa4f0'/><rect x='502.80' y='344.10' width='12.05' height='0.60' fill='#b4c4f0'/><rect x='502.80' y='344.70' width='12.05' height='0.60' fill='#d0b0d8'/><rect x='502.80' y='345.30' width='12.05' height='1.30' fill='#d0b0d8'/><rect x='502.80' y='346.60' width='12.05' height='1.00' fill='#8aa4f0'/><rect x='502.80' y='347.60' width='12.05' height='0.80' fill='#b4c4f0'/><rect x='502.80' y='348.40' width='12.05' height='1.30' fill='#a8bcf0'/><rect x='502.80' y='349.70' width='12.05' height='1.00' fill='#b4c4f0'/><rect x='502.80' y='350.70' width='12.05' height='1.00' fill='#dcc0dc'/><rect x='502.80' y='351.70' width='12.05' height='0.80' fill='#8aa4f0'/><rect x='502.80' y='352.50' width='12.05' height='0.80' fill='#f07880'/><rect x='502.80' y='353.30' width='12.05' height='0.80' fill='#a8bcf0'/><rect x='502.80' y='354.10' width='12.05' height='1.00' fill='#f0a8b0'/><rect x='502.80' y='355.10' width='12.05' height='0.60' fill='#dcc0dc'/><rect x='502.80' y='355.70' width='12.05' height='0.80' fill='#a8bcf0'/><rect x='502.80' y='356.50' width='12.05' height='1.30' fill='#b4c4f0'/><rect x='502.80' y='357.80' width='12.05' height='1.00' fill='#a8bcf0'/><rect x='502.80' y='358.80' width='12.05' height='0.60' fill='#e8a0b0'/><rect x='502.80' y='359.40' width='12.05' height='1.30' fill='#f07880'/><rect x='502.80' y='360.70' width='12.05' height='1.00' fill='#d0b0d8'/><rect x='502.80' y='361.70' width='12.05' height='1.00' fill='#dcc0dc'/><rect x='502.80' y='362.70' width='12.05' height='0.60' fill='#e88890'/><rect x='502.80' y='363.30' width='12.05' height='1.00' fill='#8aa4f0'/><rect x='502.80' y='364.30' width='12.05' height='1.00' fill='#b4c4f0'/><rect x='502.80' y='365.30' width='12.05' height='1.00' fill='#e8a0b0'/><rect x='502.80' y='366.30' width='12.05' height='1.00' fill='#f4b8c0'/><rect x='502.80' y='367.30' width='12.05' height='0.60' fill='#98b4f0'/><rect x='502.80' y='367.90' width='12.05' height='0.60' fill='#8aa4f0'/><rect x='502.80' y='368.50' width='12.05' height='1.00' fill='#f07880'/><rect x='502.80' y='369.50' width='12.05' height='1.30' fill='#e8a0b0'/><rect x='502.80' y='370.80' width='12.05' height='0.60' fill='#e8a0b0'/><rect x='502.80' y='371.40' width='12.05' height='1.00' fill='#8aa4f0'/><rect x='502.80' y='372.40' width='12.05' height='1.30' fill='#e88890'/><rect x='502.80' y='373.70' width='12.05' height='0.80' fill='#c8c4ec'/><rect x='502.80' y='374.50' width='12.05' height='0.60' fill='#e88890'/><rect x='502.80' y='375.10' width='12.05' height='0.80' fill='#dcc0dc'/><rect x='502.80' y='375.90' width='12.05' height='0.80' fill='#dcc0dc'/><rect x='502.80' y='376.70' width='12.05' height='1.30' fill='#f07880'/><rect x='502.80' y='378.00' width='12.05' height='1.00' fill='#a8bcf0'/><rect x='502.80' y='379.00' width='12.05' height='0.80' fill='#f07880'/><rect x='502.80' y='379.80' width='12.05' height='0.80' fill='#f4b8c0'/><rect x='502.80' y='380.60' width='12.05' height='0.60' fill='#f4b8c0'/><rect x='502.80' y='381.20' width='12.05' height='0.60' fill='#c8c4ec'/><rect x='502.80' y='381.80' width='12.05' height='0.80' fill='#d0b0d8'/><rect x='502.80' y='382.60' width='12.05' height='0.60' fill='#a8bcf0'/><rect x='502.80' y='383.20' width='12.05' height='1.30' fill='#e88890'/><rect x='502.80' y='384.50' width='12.05' height='1.00' fill='#8aa4f0'/><rect x='502.80' y='385.50' width='12.05' height='1.00' fill='#a8bcf0'/><rect x='502.80' y='386.50' width='12.05' height='1.00' fill='#f07880'/><rect x='502.80' y='387.50' width='12.05' height='1.30' fill='#e8a0b0'/><rect x='502.80' y='388.80' width='12.05' height='0.60' fill='#8aa4f0'/><rect x='502.80' y='389.40' width='12.05' height='0.80' fill='#b4c4f0'/><rect x='502.80' y='390.20' width='12.05' height='1.00' fill='#b4c4f0'/><rect x='502.80' y='391.20' width='12.05' height='0.80' fill='#d0b0d8'/><rect x='502.80' y='392.00' width='12.05' height='1.00' fill='#f0a8b0'/><rect x='502.80' y='393.00' width='12.05' height='1.30' fill='#e8a0b0'/><rect x='502.80' y='394.30' width='12.05' height='0.60' fill='#dcc0dc'/><rect x='502.80' y='394.90' width='12.05' height='1.30' fill='#8aa4f0'/><rect x='502.80' y='396.20' width='12.05' height='1.30' fill='#f4b8c0'/><rect x='502.80' y='397.50' width='12.05' height='1.00' fill='#b4c4f0'/><rect x='502.80' y='398.50' width='12.05' height='0.80' fill='#b4c4f0'/><rect x='502.80' y='399.30' width='12.05' height='0.80' fill='#d0b0d8'/><rect x='502.80' y='400.10' width='12.05' height='1.30' fill='#dcc0dc'/><rect x='502.80' y='401.40' width='12.05' height='0.60' fill='#b4c4f0'/><rect x='502.80' y='402.00' width='12.05' height='0.60' fill='#b4c4f0'/><rect x='502.80' y='402.60' width='12.05' height='1.30' fill='#e8a0b0'/><rect x='502.80' y='403.90' width='12.05' height='1.00' fill='#f0a8b0'/><rect x='502.80' y='404.90' width='12.05' height='1.30' fill='#98b4f0'/><rect x='502.80' y='406.20' width='12.05' height='0.60' fill='#f07880'/><rect x='502.80' y='406.80' width='12.05' height='0.80' fill='#a8bcf0'/><rect x='502.80' y='407.60' width='12.05' height='0.80' fill='#dcc0dc'/><rect x='502.80' y='408.40' width='12.05' height='1.00' fill='#f07880'/><rect x='502.80' y='409.40' width='12.05' height='1.00' fill='#b4c4f0'/><rect x='502.80' y='410.40' width='12.05' height='1.30' fill='#f0a8b0'/><rect x='502.80' y='411.70' width='12.05' height='0.60' fill='#c8c4ec'/><rect x='502.80' y='412.30' width='12.05' height='0.60' fill='#e88890'/><rect x='502.80' y='412.90' width='12.05' height='1.30' fill='#a8bcf0'/><rect x='502.80' y='414.20' width='12.05' height='0.80' fill='#8aa4f0'/><rect x='502.80' y='415.00' width='12.05' height='0.80' fill='#8aa4f0'/><rect x='502.80' y='415.80' width='12.05' height='1.00' fill='#e88890'/><rect x='502.80' y='416.80' width='12.05' height='0.60' fill='#d0b0d8'/><rect x='502.80' y='417.40' width='12.05' height='1.00' fill='#c8c4ec'/><rect x='502.80' y='418.40' width='12.05' height='0.80' fill='#a8bcf0'/><rect x='502.80' y='419.20' width='12.05' height='0.80' fill='#f4b8c0'/><rect x='502.80' y='420.00' width='12.05' height='0.80' fill='#f0a8b0'/><rect x='502.80' y='420.80' width='12.05' height='0.60' fill='#f0a8b0'/><rect x='502.80' y='421.40' width='12.05' height='0.60' fill='#8aa4f0'/><rect x='502.80' y='422.00' width='12.05' height='0.80' fill='#98b4f0'/><rect x='502.80' y='422.80' width='12.05' height='0.80' fill='#dcc0dc'/><rect x='502.80' y='423.60' width='12.05' height='1.30' fill='#a8bcf0'/><rect x='502.80' y='424.90' width='12.05' height='0.60' fill='#e88890'/><rect x='502.80' y='425.50' width='12.05' height='1.00' fill='#b4c4f0'/><rect x='502.80' y='426.50' width='12.05' height='0.80' fill='#f0a8b0'/><rect x='502.80' y='427.30' width='12.05' height='1.00' fill='#c8c4ec'/><rect x='502.80' y='428.30' width='12.05' height='0.80' fill='#d0b0d8'/><rect x='502.80' y='429.10' width='12.05' height='0.60' fill='#c8c4ec'/><rect x='502.80' y='429.70' width='12.05' height='0.60' fill='#f07880'/><rect x='502.80' y='430.30' width='12.05' height='0.60' fill='#f07880'/><rect x='502.80' y='430.90' width='12.05' height='1.30' fill='#e88890'/><rect x='502.80' y='432.20' width='12.05' height='1.00' fill='#e88890'/><rect x='502.80' y='433.20' width='12.05' height='1.30' fill='#f4b8c0'/><rect x='502.80' y='434.50' width='12.05' height='0.60' fill='#f4b8c0'/><rect x='502.80' y='435.10' width='12.05' height='0.60' fill='#f07880'/><rect x='502.80' y='435.70' width='12.05' height='0.80' fill='#98b4f0'/><rect x='502.80' y='436.50' width='12.05' height='0.60' fill='#f0a8b0'/><rect x='502.80' y='437.10' width='12.05' height='0.80' fill='#d0b0d8'/><rect x='502.80' y='437.90' width='12.05' height='1.00' fill='#d0b0d8'/><rect x='502.80' y='438.90' width='12.05' height='1.00' fill='#a8bcf0'/><rect x='502.80' y='439.90' width='12.05' height='0.80' fill='#dcc0dc'/><rect x='502.80' y='440.70' width='12.05' height='1.30' fill='#f0a8b0'/><rect x='502.80' y='442.00' width='12.05' height='0.80' fill='#f4b8c0'/><rect x='502.80' y='442.80' width='12.05' height='0.60' fill='#dcc0dc'/><rect x='502.80' y='443.40' width='12.05' height='1.30' fill='#b4c4f0'/><rect x='502.80' y='444.70' width='12.05' height='1.30' fill='#b4c4f0'/><rect x='502.80' y='446.00' width='12.05' height='1.30' fill='#8aa4f0'/><rect x='502.80' y='447.30' width='12.05' height='0.80' fill='#e8a0b0'/><rect x='502.80' y='448.10' width='12.05' height='0.60' fill='#e88890'/><rect x='502.80' y='448.70' width='12.05' height='0.60' fill='#8aa4f0'/><rect x='502.80' y='449.30' width='12.05' height='1.00' fill='#f4b8c0'/><rect x='502.80' y='450.30' width='12.05' height='0.60' fill='#e88890'/><rect x='502.80' y='450.90' width='12.05' height='1.00' fill='#d0b0d8'/><rect x='502.80' y='451.90' width='12.05' height='0.60' fill='#e8a0b0'/><rect x='502.80' y='452.50' width='12.05' height='0.60' fill='#f07880'/><rect x='502.80' y='453.10' width='12.05' height='0.80' fill='#98b4f0'/><rect x='502.80' y='453.90' width='12.05' height='0.60' fill='#f4b8c0'/><rect x='502.80' y='454.50' width='12.05' height='0.80' fill='#f4b8c0'/><rect x='502.80' y='455.30' width='12.05' height='0.80' fill='#c8c4ec'/><rect x='502.80' y='456.10' width='12.05' height='1.00' fill='#e8a0b0'/><rect x='502.80' y='457.10' width='12.05' height='1.00' fill='#dcc0dc'/><rect x='502.80' y='458.10' width='12.05' height='0.80' fill='#dcc0dc'/><rect x='502.80' y='458.90' width='12.05' height='1.30' fill='#e8a0b0'/><rect x='502.80' y='460.20' width='12.05' height='0.80' fill='#8aa4f0'/><rect x='502.80' y='461.00' width='12.05' height='0.80' fill='#d0b0d8'/><rect x='502.80' y='461.80' width='12.05' height='1.00' fill='#f4b8c0'/><rect x='502.80' y='462.80' width='12.05' height='1.30' fill='#8aa4f0'/><rect x='502.80' y='464.10' width='12.05' height='0.80' fill='#b4c4f0'/><rect x='502.80' y='464.90' width='12.05' height='1.30' fill='#d0b0d8'/><rect x='502.80' y='466.20' width='12.05' height='1.00' fill='#e8a0b0'/><rect x='502.80' y='467.20' width='12.05' height='1.00' fill='#8aa4f0'/><rect x='502.80' y='468.20' width='12.05' height='1.00' fill='#a8bcf0'/><rect x='502.80' y='469.20' width='12.05' height='1.00' fill='#8aa4f0'/><rect x='502.80' y='470.20' width='12.05' height='0.80' fill='#dcc0dc'/><rect x='502.80' y='471.00' width='12.05' height='1.00' fill='#c8c4ec'/><rect x='502.80' y='472.00' width='12.05' height='1.00' fill='#dcc0dc'/><rect x='502.80' y='473.00' width='12.05' height='1.30' fill='#f4b8c0'/><rect x='502.80' y='474.30' width='12.05' height='0.60' fill='#f4b8c0'/><rect x='502.80' y='474.90' width='12.05' height='1.30' fill='#e88890'/><rect x='502.80' y='476.20' width='12.05' height='1.00' fill='#98b4f0'/><rect x='502.80' y='477.20' width='12.05' height='0.60' fill='#c8c4ec'/><rect x='502.80' y='477.80' width='12.05' height='0.60' fill='#b4c4f0'/><rect x='502.80' y='478.40' width='12.05' height='0.80' fill='#c8c4ec'/><rect x='502.80' y='479.20' width='12.05' height='0.60' fill='#c8c4ec'/><rect x='502.80' y='479.80' width='12.05' height='0.70' fill='#f07880'/><rect x='514.85' y='323.20' width='12.05' height='1.00' fill='#f4b8c0'/><rect x='514.85' y='324.20' width='12.05' height='1.00' fill='#b4c4f0'/><rect x='514.85' y='325.20' width='12.05' height='1.30' fill='#f4b8c0'/><rect x='514.85' y='326.50' width='12.05' height='1.00' fill='#d0b0d8'/><rect x='514.85' y='327.50' width='12.05' height='0.80' fill='#c8c4ec'/><rect x='514.85' y='328.30' width='12.05' height='1.00' fill='#f4b8c0'/><rect x='514.85' y='329.30' width='12.05' height='0.60' fill='#f0a8b0'/><rect x='514.85' y='329.90' width='12.05' height='0.60' fill='#f4b8c0'/><rect x='514.85' y='330.50' width='12.05' height='0.80' fill='#f4b8c0'/><rect x='514.85' y='331.30' width='12.05' height='1.00' fill='#e88890'/><rect x='514.85' y='332.30' width='12.05' height='1.00' fill='#f0a8b0'/><rect x='514.85' y='333.30' width='12.05' height='0.80' fill='#f4b8c0'/><rect x='514.85' y='334.10' width='12.05' height='1.30' fill='#dcc0dc'/><rect x='514.85' y='335.40' width='12.05' height='1.30' fill='#8aa4f0'/><rect x='514.85' y='336.70' width='12.05' height='0.80' fill='#f0a8b0'/><rect x='514.85' y='337.50' width='12.05' height='0.60' fill='#e88890'/><rect x='514.85' y='338.10' width='12.05' height='0.60' fill='#e88890'/><rect x='514.85' y='338.70' width='12.05' height='0.80' fill='#dcc0dc'/><rect x='514.85' y='339.50' width='12.05' height='0.60' fill='#e88890'/><rect x='514.85' y='340.10' width='12.05' height='1.30' fill='#e8a0b0'/><rect x='514.85' y='341.40' width='12.05' height='1.00' fill='#e88890'/><rect x='514.85' y='342.40' width='12.05' height='1.30' fill='#f07880'/><rect x='514.85' y='343.70' width='12.05' height='0.80' fill='#f07880'/><rect x='514.85' y='344.50' width='12.05' height='0.80' fill='#e8a0b0'/><rect x='514.85' y='345.30' width='12.05' height='0.80' fill='#f0a8b0'/><rect x='514.85' y='346.10' width='12.05' height='1.00' fill='#f07880'/><rect x='514.85' y='347.10' width='12.05' height='0.60' fill='#c8c4ec'/><rect x='514.85' y='347.70' width='12.05' height='0.60' fill='#e8a0b0'/><rect x='514.85' y='348.30' width='12.05' height='0.60' fill='#f4b8c0'/><rect x='514.85' y='348.90' width='12.05' height='1.00' fill='#b4c4f0'/><rect x='514.85' y='349.90' width='12.05' height='0.60' fill='#dcc0dc'/><rect x='514.85' y='350.50' width='12.05' height='1.30' fill='#98b4f0'/><rect x='514.85' y='351.80' width='12.05' height='1.00' fill='#dcc0dc'/><rect x='514.85' y='352.80' width='12.05' height='1.00' fill='#f4b8c0'/><rect x='514.85' y='353.80' width='12.05' height='1.00' fill='#e88890'/><rect x='514.85' y='354.80' width='12.05' height='1.30' fill='#f0a8b0'/><rect x='514.85' y='356.10' width='12.05' height='1.00' fill='#dcc0dc'/><rect x='514.85' y='357.10' width='12.05' height='0.60' fill='#b4c4f0'/><rect x='514.85' y='357.70' width='12.05' height='1.00' fill='#c8c4ec'/><rect x='514.85' y='358.70' width='12.05' height='1.30' fill='#f4b8c0'/><rect x='514.85' y='360.00' width='12.05' height='1.00' fill='#e88890'/><rect x='514.85' y='361.00' width='12.05' height='0.60' fill='#98b4f0'/><rect x='514.85' y='361.60' width='12.05' height='0.60' fill='#dcc0dc'/><rect x='514.85' y='362.20' width='12.05' height='1.30' fill='#e8a0b0'/><rect x='514.85' y='363.50' width='12.05' height='1.00' fill='#e8a0b0'/><rect x='514.85' y='364.50' width='12.05' height='0.80' fill='#e8a0b0'/><rect x='514.85' y='365.30' width='12.05' height='0.60' fill='#e88890'/><rect x='514.85' y='365.90' width='12.05' height='0.60' fill='#dcc0dc'/><rect x='514.85' y='366.50' width='12.05' height='1.30' fill='#dcc0dc'/><rect x='514.85' y='367.80' width='12.05' height='0.60' fill='#b4c4f0'/><rect x='514.85' y='368.40' width='12.05' height='0.80' fill='#e88890'/><rect x='514.85' y='369.20' width='12.05' height='0.80' fill='#e88890'/><rect x='514.85' y='370.00' width='12.05' height='0.80' fill='#d0b0d8'/><rect x='514.85' y='370.80' width='12.05' height='1.30' fill='#98b4f0'/><rect x='514.85' y='372.10' width='12.05' height='0.60' fill='#a8bcf0'/><rect x='514.85' y='372.70' width='12.05' height='1.00' fill='#dcc0dc'/><rect x='514.85' y='373.70' width='12.05' height='1.30' fill='#b4c4f0'/><rect x='514.85' y='375.00' width='12.05' height='1.00' fill='#e88890'/><rect x='514.85' y='376.00' width='12.05' height='1.30' fill='#e8a0b0'/><rect x='514.85' y='377.30' width='12.05' height='1.00' fill='#b4c4f0'/><rect x='514.85' y='378.30' width='12.05' height='1.30' fill='#c8c4ec'/><rect x='514.85' y='379.60' width='12.05' height='0.80' fill='#f07880'/><rect x='514.85' y='380.40' width='12.05' height='1.30' fill='#f0a8b0'/><rect x='514.85' y='381.70' width='12.05' height='1.30' fill='#f0a8b0'/><rect x='514.85' y='383.00' width='12.05' height='1.30' fill='#e8a0b0'/><rect x='514.85' y='384.30' width='12.05' height='1.30' fill='#f4b8c0'/><rect x='514.85' y='385.60' width='12.05' height='1.30' fill='#8aa4f0'/><rect x='514.85' y='386.90' width='12.05' height='1.30' fill='#c8c4ec'/><rect x='514.85' y='388.20' width='12.05' height='1.00' fill='#dcc0dc'/><rect x='514.85' y='389.20' width='12.05' height='0.80' fill='#b4c4f0'/><rect x='514.85' y='390.00' width='12.05' height='1.30' fill='#f4b8c0'/><rect x='514.85' y='391.30' width='12.05' height='0.80' fill='#dcc0dc'/><rect x='514.85' y='392.10' width='12.05' height='0.80' fill='#a8bcf0'/><rect x='514.85' y='392.90' width='12.05' height='0.80' fill='#f0a8b0'/><rect x='514.85' y='393.70' width='12.05' height='1.30' fill='#f0a8b0'/><rect x='514.85' y='395.00' width='12.05' height='0.60' fill='#f4b8c0'/><rect x='514.85' y='395.60' width='12.05' height='1.30' fill='#98b4f0'/><rect x='514.85' y='396.90' width='12.05' height='0.80' fill='#f07880'/><rect x='514.85' y='397.70' width='12.05' height='1.00' fill='#f0a8b0'/><rect x='514.85' y='398.70' width='12.05' height='1.30' fill='#98b4f0'/><rect x='514.85' y='400.00' width='12.05' height='0.80' fill='#c8c4ec'/><rect x='514.85' y='400.80' width='12.05' height='0.60' fill='#8aa4f0'/><rect x='514.85' y='401.40' width='12.05' height='0.80' fill='#f4b8c0'/><rect x='514.85' y='402.20' width='12.05' height='0.60' fill='#e8a0b0'/><rect x='514.85' y='402.80' width='12.05' height='1.00' fill='#8aa4f0'/><rect x='514.85' y='403.80' width='12.05' height='0.60' fill='#98b4f0'/><rect x='514.85' y='404.40' width='12.05' height='1.00' fill='#98b4f0'/><rect x='514.85' y='405.40' width='12.05' height='1.00' fill='#f0a8b0'/><rect x='514.85' y='406.40' width='12.05' height='0.60' fill='#dcc0dc'/><rect x='514.85' y='407.00' width='12.05' height='1.00' fill='#c8c4ec'/><rect x='514.85' y='408.00' width='12.05' height='0.60' fill='#e88890'/><rect x='514.85' y='408.60' width='12.05' height='1.30' fill='#f4b8c0'/><rect x='514.85' y='409.90' width='12.05' height='1.00' fill='#f0a8b0'/><rect x='514.85' y='410.90' width='12.05' height='1.00' fill='#d0b0d8'/><rect x='514.85' y='411.90' width='12.05' height='1.00' fill='#e8a0b0'/><rect x='514.85' y='412.90' width='12.05' height='1.30' fill='#98b4f0'/><rect x='514.85' y='414.20' width='12.05' height='0.60' fill='#f0a8b0'/><rect x='514.85' y='414.80' width='12.05' height='1.00' fill='#f4b8c0'/><rect x='514.85' y='415.80' width='12.05' height='0.60' fill='#a8bcf0'/><rect x='514.85' y='416.40' width='12.05' height='1.30' fill='#f4b8c0'/><rect x='514.85' y='417.70' width='12.05' height='0.60' fill='#f4b8c0'/><rect x='514.85' y='418.30' width='12.05' height='1.00' fill='#f0a8b0'/><rect x='514.85' y='419.30' width='12.05' height='1.30' fill='#e88890'/><rect x='514.85' y='420.60' width='12.05' height='0.80' fill='#c8c4ec'/><rect x='514.85' y='421.40' width='12.05' height='1.00' fill='#98b4f0'/><rect x='514.85' y='422.40' width='12.05' height='1.30' fill='#98b4f0'/><rect x='514.85' y='423.70' width='12.05' height='1.30' fill='#c8c4ec'/><rect x='514.85' y='425.00' width='12.05' height='0.80' fill='#f0a8b0'/><rect x='514.85' y='425.80' width='12.05' height='0.60' fill='#f07880'/><rect x='514.85' y='426.40' width='12.05' height='1.00' fill='#f07880'/><rect x='514.85' y='427.40' width='12.05' height='1.00' fill='#f0a8b0'/><rect x='514.85' y='428.40' width='12.05' height='0.60' fill='#c8c4ec'/><rect x='514.85' y='429.00' width='12.05' height='0.80' fill='#f07880'/><rect x='514.85' y='429.80' width='12.05' height='0.80' fill='#b4c4f0'/><rect x='514.85' y='430.60' width='12.05' height='1.00' fill='#f0a8b0'/><rect x='514.85' y='431.60' width='12.05' height='1.30' fill='#e88890'/><rect x='514.85' y='432.90' width='12.05' height='0.60' fill='#a8bcf0'/><rect x='514.85' y='433.50' width='12.05' height='0.60' fill='#a8bcf0'/><rect x='514.85' y='434.10' width='12.05' height='0.60' fill='#f0a8b0'/><rect x='514.85' y='434.70' width='12.05' height='1.30' fill='#b4c4f0'/><rect x='514.85' y='436.00' width='12.05' height='1.00' fill='#f07880'/><rect x='514.85' y='437.00' width='12.05' height='0.80' fill='#8aa4f0'/><rect x='514.85' y='437.80' width='12.05' height='0.80' fill='#f07880'/><rect x='514.85' y='438.60' width='12.05' height='0.80' fill='#dcc0dc'/><rect x='514.85' y='439.40' width='12.05' height='0.60' fill='#f07880'/><rect x='514.85' y='440.00' width='12.05' height='0.60' fill='#e88890'/><rect x='514.85' y='440.60' width='12.05' height='1.00' fill='#b4c4f0'/><rect x='514.85' y='441.60' width='12.05' height='1.30' fill='#f07880'/><rect x='514.85' y='442.90' width='12.05' height='1.30' fill='#c8c4ec'/><rect x='514.85' y='444.20' width='12.05' height='1.30' fill='#f07880'/><rect x='514.85' y='445.50' width='12.05' height='1.00' fill='#e8a0b0'/><rect x='514.85' y='446.50' width='12.05' height='0.80' fill='#e88890'/><rect x='514.85' y='447.30' width='12.05' height='0.80' fill='#dcc0dc'/><rect x='514.85' y='448.10' width='12.05' height='1.30' fill='#f07880'/><rect x='514.85' y='449.40' width='12.05' height='1.30' fill='#e88890'/><rect x='514.85' y='450.70' width='12.05' height='0.80' fill='#f4b8c0'/><rect x='514.85' y='451.50' width='12.05' height='0.60' fill='#f0a8b0'/><rect x='514.85' y='452.10' width='12.05' height='1.30' fill='#f07880'/><rect x='514.85' y='453.40' width='12.05' height='1.30' fill='#f0a8b0'/><rect x='514.85' y='454.70' width='12.05' height='0.60' fill='#e88890'/><rect x='514.85' y='455.30' width='12.05' height='0.60' fill='#d0b0d8'/><rect x='514.85' y='455.90' width='12.05' height='0.80' fill='#f4b8c0'/><rect x='514.85' y='456.70' width='12.05' height='1.30' fill='#e88890'/><rect x='514.85' y='458.00' width='12.05' height='1.00' fill='#e88890'/><rect x='514.85' y='459.00' width='12.05' height='1.00' fill='#f0a8b0'/><rect x='514.85' y='460.00' width='12.05' height='0.80' fill='#d0b0d8'/><rect x='514.85' y='460.80' width='12.05' height='0.60' fill='#f4b8c0'/><rect x='514.85' y='461.40' width='12.05' height='0.60' fill='#f0a8b0'/><rect x='514.85' y='462.00' width='12.05' height='0.60' fill='#8aa4f0'/><rect x='514.85' y='462.60' width='12.05' height='1.30' fill='#98b4f0'/><rect x='514.85' y='463.90' width='12.05' height='0.60' fill='#d0b0d8'/><rect x='514.85' y='464.50' width='12.05' height='1.30' fill='#f0a8b0'/><rect x='514.85' y='465.80' width='12.05' height='0.80' fill='#d0b0d8'/><rect x='514.85' y='466.60' width='12.05' height='1.30' fill='#f4b8c0'/><rect x='514.85' y='467.90' width='12.05' height='1.30' fill='#f4b8c0'/><rect x='514.85' y='469.20' width='12.05' height='1.00' fill='#f0a8b0'/><rect x='514.85' y='470.20' width='12.05' height='1.30' fill='#b4c4f0'/><rect x='514.85' y='471.50' width='12.05' height='1.30' fill='#d0b0d8'/><rect x='514.85' y='472.80' width='12.05' height='1.30' fill='#b4c4f0'/><rect x='514.85' y='474.10' width='12.05' height='0.60' fill='#f07880'/><rect x='514.85' y='474.70' width='12.05' height='0.60' fill='#c8c4ec'/><rect x='514.85' y='475.30' width='12.05' height='0.80' fill='#e88890'/><rect x='514.85' y='476.10' width='12.05' height='0.60' fill='#e8a0b0'/><rect x='514.85' y='476.70' width='12.05' height='0.60' fill='#e8a0b0'/><rect x='514.85' y='477.30' width='12.05' height='1.30' fill='#e8a0b0'/><rect x='514.85' y='478.60' width='12.05' height='0.80' fill='#d0b0d8'/><rect x='514.85' y='479.40' width='12.05' height='0.60' fill='#e88890'/><rect x='514.85' y='480.00' width='12.05' height='0.50' fill='#f4b8c0'/><rect x='454.60' y='323.20' width='12.05' height='15.60' fill='none' stroke='#222' stroke-width='0.55' stroke-dasharray='0.8,0.7'/><rect x='466.65' y='340.30' width='12.05' height='27.50' fill='none' stroke='#222' stroke-width='0.55' stroke-dasharray='0.8,0.7'/><rect x='478.70' y='368.90' width='12.05' height='22.00' fill='none' stroke='#222' stroke-width='0.55' stroke-dasharray='0.8,0.7'/><rect x='490.75' y='391.60' width='12.05' height='30.30' fill='none' stroke='#222' stroke-width='0.55' stroke-dasharray='0.8,0.7'/><rect x='502.80' y='423.30' width='12.05' height='23.60' fill='none' stroke='#222' stroke-width='0.55' stroke-dasharray='0.8,0.7'/><rect x='514.85' y='448.20' width='12.05' height='32.30' fill='none' stroke='#222' stroke-width='0.55' stroke-dasharray='0.8,0.7'/><text x='459.62' y='487.40' font-size='7.0' fill='#000' text-anchor='middle' >D0</text><text x='471.68' y='487.40' font-size='7.0' fill='#000' text-anchor='middle' >D1</text><text x='483.73' y='487.40' font-size='7.0' fill='#000' text-anchor='middle' >D3</text><text x='495.78' y='487.40' font-size='7.0' fill='#000' text-anchor='middle' >D5</text><text x='507.83' y='487.40' font-size='7.0' fill='#000' text-anchor='middle' >D7</text><text x='520.88' y='487.40' font-size='7.0' fill='#000' text-anchor='middle' >iPSC</text></svg></body></html>
